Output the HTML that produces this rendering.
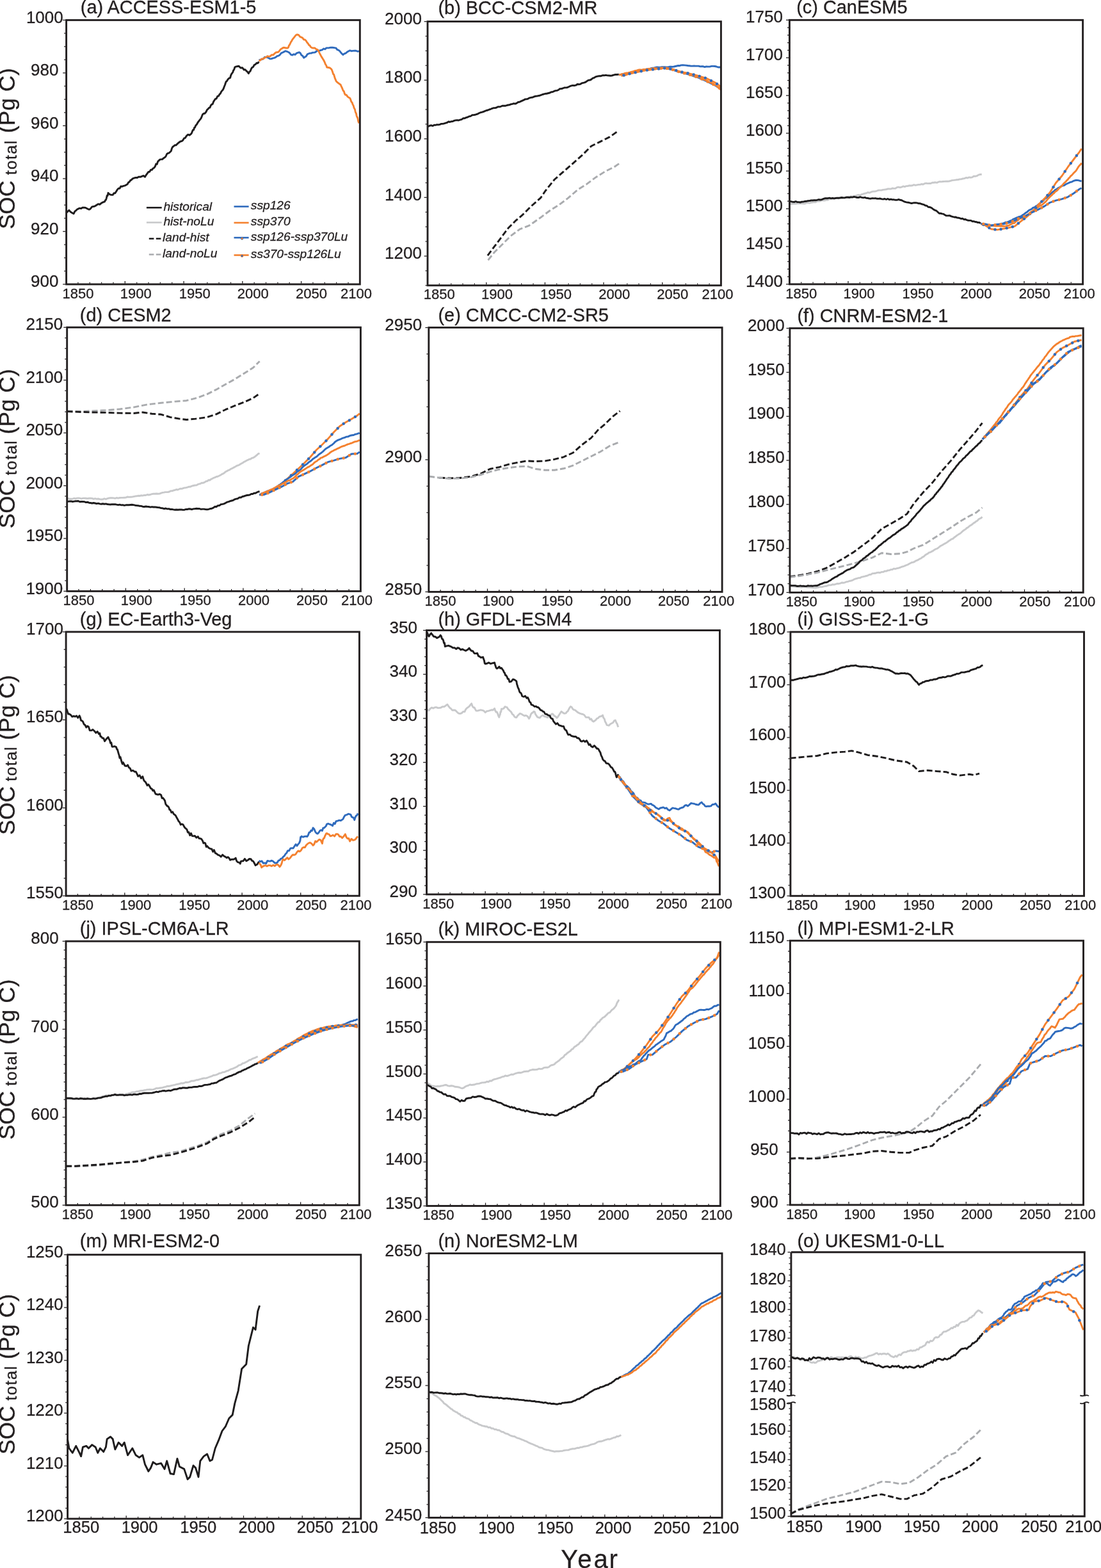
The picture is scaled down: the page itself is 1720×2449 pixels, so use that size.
<!DOCTYPE html>
<html><head><meta charset="utf-8"><title>SOC total</title><style>html,body{margin:0;padding:0;background:#fff;}svg{display:block;}</style></head><body>
<svg width="1720" height="2449" viewBox="0 0 1720 2449" font-family="'Liberation Sans', Arial, Helvetica, sans-serif" fill="#231f20"><style>text{stroke:#231f20;stroke-width:0.3px;}</style>
<rect width="1720" height="2449" fill="#fff"/>
<g id="pa">
<path d="M103.6 332.6 L105.7 330.4 L107.9 328.4 L110.3 331.1 L112.7 332.4 L115.1 333.8 L116.9 330.2 L118.7 328.8 L120.5 327 L122.3 326.1 L124.1 325.2 L126.5 325.7 L128.8 324.2 L131.2 324.1 L133.6 324.4 L136 325.8 L138.4 327 L140.2 327 L142 325.2 L143.8 322.9 L146.2 322.5 L148.6 321.8 L151 320.2 L153.4 318.6 L155.8 319.4 L158.2 317.3 L160.9 315.9 L163.6 314.9 L164.5 312.7 L165.4 312.2 L166.3 309.6 L167.2 305.5 L168.1 305.7 L169 301.3 L171.4 303.7 L173.8 304.4 L176.2 304.3 L178 301.7 L179.8 301.8 L181.6 298.9 L183.4 296.1 L185.2 294.1 L187 294.2 L188.8 291 L190.6 291.4 L193 290.4 L195.4 289.8 L197.8 288.4 L199.2 287.6 L200.6 284.8 L202.1 284.2 L203.5 281.9 L205 281.1 L207.4 278.9 L209.8 278 L212.2 277.4 L214.5 277.5 L216.9 276.1 L219.3 276.3 L221.7 275.3 L224.1 274.5 L226.5 276.3 L228.3 273.3 L230.1 270.8 L231.9 268.5 L233.7 268.2 L235.5 265.3 L237.3 265.4 L239.1 262.9 L240.9 261.9 L242.4 259.8 L243.8 256 L245.2 256.5 L246.7 252.1 L248.1 250.9 L249.9 249.1 L251.7 248.9 L253.5 248.8 L255.3 247.2 L257.1 246.1 L258.9 244.5 L260.7 240.5 L262.5 239.3 L264.3 238.8 L266.1 237 L267.3 235.9 L268.5 231.6 L269.7 229.5 L271.5 228.1 L273.3 226.6 L275.1 226.7 L276.9 224.8 L279.3 222.7 L281.7 221 L284.1 220.4 L285.9 218.8 L287.7 215.8 L289.5 215.3 L291.3 212.3 L293.7 210.2 L296.1 211.2 L298.5 209.2 L299.5 207.7 L300.5 205 L301.5 203 L302.6 202.8 L303.6 199.3 L304.6 199 L305.6 196.3 L307.4 194.3 L309.2 191 L310.4 189.5 L311.6 187.9 L312.8 186.4 L314 184.9 L315.2 182.1 L316.4 178.9 L318.2 177.3 L320 177.2 L321.8 175 L323.6 171.4 L325.1 170.2 L326.5 168.4 L327.9 168.1 L329.4 164.5 L330.8 163.1 L332.2 162.4 L333.5 158.9 L334.9 156.7 L336.2 154.7 L338 154.2 L339.8 150.4 L341.6 149.8 L342.9 147.4 L344.3 146.2 L345.6 143.4 L347 141.5 L347.9 140.7 L348.8 139.2 L349.7 137.1 L350.6 134.5 L351.5 132.5 L352.4 129.5 L353.3 127.4 L354.2 127 L356 124.1 L357.8 122.2 L359.6 121.6 L360.6 117.9 L361.6 115.6 L362.7 114.1 L363.7 112.9 L364.7 109.7 L365.7 108.7 L366.8 105.1 L368.6 104.1 L370.4 103.7 L373.1 103.3 L375.8 106.1 L378.5 105.7 L381.2 109 L383 108.6 L384.7 110.7 L386.5 112.2 L388.3 114.7 L389.7 112.1 L391 111.2 L392.4 107.7 L393.7 105.5 L395.5 104.6 L397.3 101.3 L399.1 100.7 L400.9 98.4 L402.7 98.7 L404.5 96.4" fill="none" stroke="#1e1c1d" stroke-width="2.9" stroke-linejoin="round" stroke-linecap="butt"/>
<path d="M404.5 94.2 L406.8 93.4 L409 92.7 L411.3 91.9 L413.5 89.3 L416.2 89.4 L418.9 90 L421.6 91.9 L424.3 91.7 L426.5 90.8 L428.6 90.3 L430.8 89.4 L432.9 87.7 L435.1 87.1 L437.2 85.7 L439.4 82.9 L441.6 82 L443.7 80.9 L445.9 79.7 L448 80.3 L450.2 81.3 L452.3 82.6 L454.5 85.3 L456.7 86 L458.8 84.7 L461 85.4 L463.1 83.2 L465.3 82.4 L467.5 81.7 L469.2 83 L471 86.2 L472.8 87.2 L474.6 90.3 L476.4 89 L478.2 88 L480 84.9 L481.8 84 L484 83.1 L486.2 83.1 L488.3 82.1 L490.5 82.1 L492.6 81.6 L494.8 79.6 L496.9 79.2 L499.1 79.2 L501.3 78.4 L503.4 77.9 L505.6 76 L507.7 76.8 L509.9 74.9 L512 74.9 L514.2 74.7 L516.9 74.1 L519.6 74.3 L522.3 74.6 L525 75.1 L526.8 77.6 L528.6 78.2 L530.4 79.4 L532.2 81.7 L534 83.7 L535.8 85.5 L537.9 83.9 L540.1 83.1 L542.2 81.3 L544.4 80 L546.6 78.9 L549 79.7 L551.4 79.4 L553.8 79.1 L556.1 79.2 L558.5 80.3 L560.9 79.8" fill="none" stroke="#2f6bbd" stroke-width="2.9" stroke-linejoin="round" stroke-linecap="butt"/>
<path d="M404.5 95.3 L406.8 94 L409 91.9 L411.3 92 L413.5 90.1 L415.7 89.3 L417.8 87.7 L420 88.3 L422.1 87.9 L424.3 85.7 L426.7 85.9 L429.1 83.5 L431.5 81.7 L433.3 81.5 L435.1 81.1 L436.9 78.9 L438.7 76.7 L440.5 75.8 L442.3 74.5 L444.1 74.3 L446.8 75 L449.5 75 L450.5 74 L451.5 70.9 L452.6 69.7 L453.6 67.5 L454.6 65.4 L455.6 64.1 L456.7 61.9 L458.5 59.6 L460.3 57.4 L462.1 55 L463.9 54 L466.3 54.4 L468.7 57.3 L471 58.3 L472.8 59.3 L474.6 61.8 L476.4 62 L478.2 63.8 L479.7 66.4 L481.1 67.7 L482.6 70.4 L484 71.1 L485.4 73.4 L487.6 74.9 L489.7 75 L491.9 75 L494.1 77 L496.2 77.7 L497.4 79 L498.6 81.7 L499.8 84.2 L501 86.3 L502.2 88.6 L503.4 90.4 L504.4 92.1 L505.5 93.8 L506.5 95.7 L507.5 97.9 L508.5 100.6 L509.6 101.9 L510.6 105 L513 105.5 L515.4 106 L517.8 108.1 L518.7 109.9 L519.6 112.4 L520.5 115.5 L521.4 116.2 L522.3 118.8 L523.2 122.1 L524.1 124.1 L525 126.5 L526.8 128.4 L528.6 129.8 L530.4 131.1 L532.2 132.5 L533.2 134.8 L534.2 136.9 L535.3 139.6 L536.3 141.8 L537.3 142.7 L538.3 146.1 L539.4 148 L541.2 148.3 L543 150.9 L544.8 152.3 L546.6 153.3 L547.5 154.9 L548.4 157.8 L549.3 159.5 L550.2 160.4 L551.1 163.3 L552 164.5 L552.9 168 L553.8 169.8 L554.4 170.7 L555.1 174.1 L555.7 176.1 L556.4 177.1 L557 180.3 L557.7 182.7 L558.3 183.1 L559 185.5 L559.6 189 L560.3 191 L560.9 192.4" fill="none" stroke="#f4812f" stroke-width="2.9" stroke-linejoin="round" stroke-linecap="butt"/>
<rect x="103.6" y="31.4" width="458.7" height="412.6" fill="none" stroke="#231f20" stroke-width="2.9"/>
<line x1="121.9" y1="442.7" x2="121.9" y2="440.7" stroke="#231f20" stroke-width="1.3"/>
<line x1="140.3" y1="442.7" x2="140.3" y2="440.7" stroke="#231f20" stroke-width="1.3"/>
<line x1="158.6" y1="442.7" x2="158.6" y2="440.7" stroke="#231f20" stroke-width="1.3"/>
<line x1="177" y1="442.7" x2="177" y2="440.7" stroke="#231f20" stroke-width="1.3"/>
<line x1="195.3" y1="442.7" x2="195.3" y2="439.1" stroke="#231f20" stroke-width="1.3"/>
<line x1="213.7" y1="442.7" x2="213.7" y2="440.7" stroke="#231f20" stroke-width="1.3"/>
<line x1="232" y1="442.7" x2="232" y2="440.7" stroke="#231f20" stroke-width="1.3"/>
<line x1="250.4" y1="442.7" x2="250.4" y2="440.7" stroke="#231f20" stroke-width="1.3"/>
<line x1="268.7" y1="442.7" x2="268.7" y2="440.7" stroke="#231f20" stroke-width="1.3"/>
<line x1="287.1" y1="442.7" x2="287.1" y2="439.1" stroke="#231f20" stroke-width="1.3"/>
<line x1="305.4" y1="442.7" x2="305.4" y2="440.7" stroke="#231f20" stroke-width="1.3"/>
<line x1="323.8" y1="442.7" x2="323.8" y2="440.7" stroke="#231f20" stroke-width="1.3"/>
<line x1="342.1" y1="442.7" x2="342.1" y2="440.7" stroke="#231f20" stroke-width="1.3"/>
<line x1="360.5" y1="442.7" x2="360.5" y2="440.7" stroke="#231f20" stroke-width="1.3"/>
<line x1="378.8" y1="442.7" x2="378.8" y2="439.1" stroke="#231f20" stroke-width="1.3"/>
<line x1="397.2" y1="442.7" x2="397.2" y2="440.7" stroke="#231f20" stroke-width="1.3"/>
<line x1="415.5" y1="442.7" x2="415.5" y2="440.7" stroke="#231f20" stroke-width="1.3"/>
<line x1="433.9" y1="442.7" x2="433.9" y2="440.7" stroke="#231f20" stroke-width="1.3"/>
<line x1="452.2" y1="442.7" x2="452.2" y2="440.7" stroke="#231f20" stroke-width="1.3"/>
<line x1="470.6" y1="442.7" x2="470.6" y2="439.1" stroke="#231f20" stroke-width="1.3"/>
<line x1="488.9" y1="442.7" x2="488.9" y2="440.7" stroke="#231f20" stroke-width="1.3"/>
<line x1="507.3" y1="442.7" x2="507.3" y2="440.7" stroke="#231f20" stroke-width="1.3"/>
<line x1="525.6" y1="442.7" x2="525.6" y2="440.7" stroke="#231f20" stroke-width="1.3"/>
<line x1="544" y1="442.7" x2="544" y2="440.7" stroke="#231f20" stroke-width="1.3"/>
<text x="121.9" y="465.6" font-size="22" text-anchor="middle" style="" >1850</text>
<text x="212.2" y="465.6" font-size="22" text-anchor="middle" style="" >1900</text>
<text x="304.2" y="465.6" font-size="22" text-anchor="middle" style="" >1950</text>
<text x="395.3" y="465.6" font-size="22" text-anchor="middle" style="" >2000</text>
<text x="486.4" y="465.6" font-size="22" text-anchor="middle" style="" >2050</text>
<text x="556.5" y="465.6" font-size="22" text-anchor="middle" style="" >2100</text>
<line x1="98.2" y1="444" x2="102.4" y2="444" stroke="#231f20" stroke-width="1.3"/>
<line x1="100.2" y1="423.4" x2="102.4" y2="423.4" stroke="#231f20" stroke-width="1.3"/>
<line x1="100.2" y1="402.7" x2="102.4" y2="402.7" stroke="#231f20" stroke-width="1.3"/>
<line x1="100.2" y1="382.1" x2="102.4" y2="382.1" stroke="#231f20" stroke-width="1.3"/>
<line x1="98.2" y1="361.5" x2="102.4" y2="361.5" stroke="#231f20" stroke-width="1.3"/>
<line x1="100.2" y1="340.9" x2="102.4" y2="340.9" stroke="#231f20" stroke-width="1.3"/>
<line x1="100.2" y1="320.2" x2="102.4" y2="320.2" stroke="#231f20" stroke-width="1.3"/>
<line x1="100.2" y1="299.6" x2="102.4" y2="299.6" stroke="#231f20" stroke-width="1.3"/>
<line x1="98.2" y1="279" x2="102.4" y2="279" stroke="#231f20" stroke-width="1.3"/>
<line x1="100.2" y1="258.3" x2="102.4" y2="258.3" stroke="#231f20" stroke-width="1.3"/>
<line x1="100.2" y1="237.7" x2="102.4" y2="237.7" stroke="#231f20" stroke-width="1.3"/>
<line x1="100.2" y1="217.1" x2="102.4" y2="217.1" stroke="#231f20" stroke-width="1.3"/>
<line x1="98.2" y1="196.4" x2="102.4" y2="196.4" stroke="#231f20" stroke-width="1.3"/>
<line x1="100.2" y1="175.8" x2="102.4" y2="175.8" stroke="#231f20" stroke-width="1.3"/>
<line x1="100.2" y1="155.2" x2="102.4" y2="155.2" stroke="#231f20" stroke-width="1.3"/>
<line x1="100.2" y1="134.5" x2="102.4" y2="134.5" stroke="#231f20" stroke-width="1.3"/>
<line x1="98.2" y1="113.9" x2="102.4" y2="113.9" stroke="#231f20" stroke-width="1.3"/>
<line x1="100.2" y1="93.3" x2="102.4" y2="93.3" stroke="#231f20" stroke-width="1.3"/>
<line x1="100.2" y1="72.7" x2="102.4" y2="72.7" stroke="#231f20" stroke-width="1.3"/>
<line x1="100.2" y1="52" x2="102.4" y2="52" stroke="#231f20" stroke-width="1.3"/>
<line x1="98.2" y1="31.4" x2="102.4" y2="31.4" stroke="#231f20" stroke-width="1.3"/>
<text x="69.8" y="448.1" font-size="26" text-anchor="middle" style="" >900</text>
<text x="69.8" y="365.6" font-size="26" text-anchor="middle" style="" >920</text>
<text x="69.8" y="283.1" font-size="26" text-anchor="middle" style="" >940</text>
<text x="69.8" y="200.5" font-size="26" text-anchor="middle" style="" >960</text>
<text x="69.8" y="118" font-size="26" text-anchor="middle" style="" >980</text>
<text x="69.8" y="35.5" font-size="26" text-anchor="middle" style="" >1000</text>
<text x="125.8" y="20.8" font-size="28.9" text-anchor="start" style="" >(a) ACCESS-ESM1-5</text>
</g>
<g id="pb">
<path d="M667.2 197 L669.5 197.2 L671.7 196.1 L673.9 195.8 L676.1 196.6 L678.3 195.2 L680.5 195.4 L682.7 194.7 L685 194.9 L687.2 194.3 L689.4 193.4 L691.7 193.4 L693.9 192.8 L696.2 192.1 L698.4 191.5 L700.7 190 L702.9 190.5 L705.2 189.7 L707.4 189.5 L709.7 188.4 L711.9 187.9 L714.2 187.6 L716.4 188 L718.7 187.2 L721.1 186.6 L723.5 184.8 L725.9 184.8 L728.2 183.6 L730.6 183 L733 181.8 L735.3 181.4 L737.5 179.8 L739.8 179.6 L742 179.3 L744.3 178.5 L746.5 177.8 L748.8 176.5 L751 175.7 L753.3 175.2 L755.5 174.3 L757.8 173.4 L760 172.5 L762.3 172 L764.5 171 L766.8 170.3 L769 169.3 L771.2 168.6 L773.5 168.6 L775.7 168 L778 166.8 L780.2 166.9 L782.5 166.3 L784.7 165.3 L787 165.2 L789.2 165.3 L791.5 164.7 L793.7 164 L796 163.7 L798.2 162.8 L800.5 162.4 L802.7 161.7 L805 162.1 L807.2 161.1 L809.5 159.5 L811.7 159.2 L813.9 158.1 L816.2 157.1 L818.4 156.1 L820.7 154.9 L822.9 154.9 L825.2 154.1 L827.4 152.8 L829.7 152.3 L831.9 152.1 L834.2 151 L836.4 150.3 L838.7 150.1 L840.9 149.6 L843.2 149.2 L845.4 148.4 L847.7 147.5 L849.9 146.8 L852.2 146.3 L854.4 146.2 L856.6 145.5 L858.9 145 L861.1 143.8 L863.4 143.6 L865.6 142.4 L867.9 141.6 L870.1 141.4 L872.4 140.5 L874.6 138.7 L876.9 138.6 L879.1 138 L881.4 137 L883.6 136.9 L885.9 136.7 L888.1 135.8 L890.4 134.7 L892.6 133.9 L894.9 133.4 L897.3 133.7 L899.6 133.2 L902 131.5 L904.4 131.8 L906.8 131.3 L909.2 129.8 L911.3 129.3 L913.3 128.9 L915.4 127.9 L917.5 126.3 L919.5 125.2 L921.6 125.1 L923.6 124.1 L926 122.2 L928.4 121.4 L930.8 119.8 L933.5 119.1 L936.2 118.7 L938.9 118.7 L941.6 117.7 L944 117.8 L946.4 117.3 L948.8 117.9 L951.2 118 L953.6 118.2 L956 118 L958.7 117.2 L961.4 116.5 L964.1 116.5 L966.8 116.1" fill="none" stroke="#1e1c1d" stroke-width="2.9" stroke-linejoin="round" stroke-linecap="butt"/>
<path d="M761.8 399.1 L772.6 384.7 L783.4 370.4 L794.2 356 L805 345.2 L815.7 336.2 L830.1 321.8 L844.5 309.2 L851.7 298.5 L866.1 280.5 L880.5 267.9 L894.9 255.3 L909.2 242.7 L923.6 228.3 L938 221.1 L952.4 213.9 L965 205" fill="none" stroke="#1e1c1d" stroke-width="2.9" stroke-linejoin="round" stroke-linecap="butt" stroke-dasharray="9 4"/>
<path d="M762.5 406.3 L772.6 393.7 L783.4 383 L797.8 368.6 L812.2 357.8 L826.5 352.4 L844.5 339.8 L858.9 329 L873.3 320 L887.7 309.2 L902 296.7 L916.4 287.7 L930.8 276.9 L945.2 267.9 L959.6 260.7 L968.6 254.6" fill="none" stroke="#a9abae" stroke-width="2.9" stroke-linejoin="round" stroke-linecap="butt" stroke-dasharray="9 4"/>
<path d="M966.8 116.9 L969.2 116.8 L971.6 116 L974 115.8 L976.4 115.8 L978.8 115.5 L981.2 115 L983.6 114.8 L985.9 114.4 L988.3 113.6 L990.7 112.9 L993.1 112.2 L995.5 111.9 L997.9 111.5 L1000.3 111.1 L1002.7 110.8 L1005.1 109.5 L1007.5 108.8 L1009.9 108.1 L1012.3 107.9 L1014.7 107.9 L1017.1 106.6 L1019.5 106.1 L1021.9 105.9 L1024.3 105.3 L1026.7 104.9 L1029.1 105.3 L1031.5 105.2 L1033.9 104.7 L1036.3 104.7 L1038.7 104.8 L1041.1 105 L1043.5 104.9 L1045.9 104.3 L1048.3 104.2 L1050.7 104.4 L1053.1 104 L1055.2 103.5 L1057.4 103 L1059.5 102.5 L1061.7 102.7 L1063.9 101.9 L1066.6 101.7 L1069.2 101.9 L1071.9 102.1 L1074.6 102.5 L1077 102.7 L1079.4 103.1 L1081.8 103.1 L1084.2 102.9 L1086.6 103.1 L1089 103.1 L1091.4 103.1 L1093.8 103.9 L1096.2 103.6 L1098.6 103.8 L1101 104.6 L1103.4 103.9 L1106.1 104.1 L1108.8 104.1 L1111.5 103.4 L1114.2 103.4 L1116.7 103.5 L1119.2 104 L1121.7 105 L1124.3 104.9 L1126.8 105.7" fill="none" stroke="#2f6bbd" stroke-width="2.9" stroke-linejoin="round" stroke-linecap="butt"/>
<path d="M974 118.7 L981.2 114.3 L995.5 110.8 L1009.9 108.6 L1024.3 107.2 L1038.7 106.4 L1049.5 108.6 L1060.3 112.2 L1074.6 115.8 L1089 120.5 L1103.4 126.6 L1117.8 133.8 L1126.8 139.5" fill="none" stroke="#2f6bbd" stroke-width="2.9" stroke-linejoin="round" stroke-linecap="butt"/>
<circle cx="978" cy="116.3" r="2.25" fill="#f4812f"/>
<circle cx="987.1" cy="112.9" r="2.25" fill="#f4812f"/>
<circle cx="996.2" cy="110.7" r="2.25" fill="#f4812f"/>
<circle cx="1005.3" cy="109.3" r="2.25" fill="#f4812f"/>
<circle cx="1014.4" cy="108.1" r="2.25" fill="#f4812f"/>
<circle cx="1023.5" cy="107.2" r="2.25" fill="#f4812f"/>
<circle cx="1032.6" cy="106.7" r="2.25" fill="#f4812f"/>
<circle cx="1041.7" cy="107" r="2.25" fill="#f4812f"/>
<circle cx="1050.8" cy="109" r="2.25" fill="#f4812f"/>
<circle cx="1059.9" cy="112.1" r="2.25" fill="#f4812f"/>
<circle cx="1069" cy="114.4" r="2.25" fill="#f4812f"/>
<circle cx="1078.1" cy="116.9" r="2.25" fill="#f4812f"/>
<circle cx="1087.2" cy="119.9" r="2.25" fill="#f4812f"/>
<circle cx="1096.3" cy="123.5" r="2.25" fill="#f4812f"/>
<circle cx="1105.4" cy="127.5" r="2.25" fill="#f4812f"/>
<circle cx="1114.5" cy="132.1" r="2.25" fill="#f4812f"/>
<circle cx="1123.6" cy="137.5" r="2.25" fill="#f4812f"/>
<path d="M966.8 116.9 L969.2 116.6 L971.6 115.7 L974 115.4 L976.4 114.4 L978.8 114 L981.2 113.6 L983.6 113.1 L985.9 112.5 L988.3 111.9 L990.7 111 L993.1 110.4 L995.5 109.9 L997.9 109 L1000.3 109 L1002.7 109.1 L1005.1 108.8 L1007.5 108.6 L1009.9 107.9 L1012.3 107.6 L1014.7 108 L1017.1 107.4 L1019.5 106.7 L1021.9 106.6 L1024.3 106.9 L1026.7 106.9 L1029.1 106.6 L1031.5 106.8 L1033.9 105.9 L1036.3 105.9 L1038.7 105.6 L1041.4 106.1 L1044.1 107 L1046.8 107.1 L1049.5 107.8 L1051.6 108.8 L1053.8 109 L1055.9 110.1 L1058.1 110.8 L1060.3 111.4 L1062.7 112.1 L1065.1 112.7 L1067.5 113.3 L1069.8 113.8 L1072.2 114.1 L1074.6 114.7 L1077 115.8 L1079.4 116.8 L1081.8 117.7 L1084.2 117.5 L1086.6 119 L1089 119.2 L1091.1 120.4 L1093.1 121 L1095.2 121.7 L1097.2 122.6 L1099.3 124.2 L1101.4 124.8 L1103.4 125.4 L1105.5 127.3 L1107.5 128.3 L1109.6 128.7 L1111.6 129.6 L1113.7 130.8 L1115.7 132.3 L1117.8 132.9 L1119.6 134.5 L1121.4 135.8 L1123.2 137.3 L1125 139 L1126.8 141" fill="none" stroke="#f4812f" stroke-width="2.9" stroke-linejoin="round" stroke-linecap="butt"/>
<path d="M970.4 118.7 L981.2 115.8 L995.5 112.5 L1009.9 109.7 L1024.3 107.9 L1038.7 106.4 L1049.5 107.9 L1060.3 111.5 L1074.6 114.3 L1089 117.9 L1103.4 122.3 L1117.8 129.4 L1126.8 135.9" fill="none" stroke="#f4812f" stroke-width="2.9" stroke-linejoin="round" stroke-linecap="butt"/>
<circle cx="974.4" cy="117.6" r="2.25" fill="#2f6bbd"/>
<circle cx="983.5" cy="115.3" r="2.25" fill="#2f6bbd"/>
<circle cx="992.6" cy="113.2" r="2.25" fill="#2f6bbd"/>
<circle cx="1001.7" cy="111.3" r="2.25" fill="#2f6bbd"/>
<circle cx="1010.8" cy="109.6" r="2.25" fill="#2f6bbd"/>
<circle cx="1019.9" cy="108.4" r="2.25" fill="#2f6bbd"/>
<circle cx="1029" cy="107.4" r="2.25" fill="#2f6bbd"/>
<circle cx="1038.1" cy="106.5" r="2.25" fill="#2f6bbd"/>
<circle cx="1047.2" cy="107.6" r="2.25" fill="#2f6bbd"/>
<circle cx="1056.3" cy="110.1" r="2.25" fill="#2f6bbd"/>
<circle cx="1065.4" cy="112.5" r="2.25" fill="#2f6bbd"/>
<circle cx="1074.5" cy="114.3" r="2.25" fill="#2f6bbd"/>
<circle cx="1083.6" cy="116.6" r="2.25" fill="#2f6bbd"/>
<circle cx="1092.7" cy="119" r="2.25" fill="#2f6bbd"/>
<circle cx="1101.8" cy="121.8" r="2.25" fill="#2f6bbd"/>
<circle cx="1110.9" cy="126" r="2.25" fill="#2f6bbd"/>
<circle cx="1120" cy="131" r="2.25" fill="#2f6bbd"/>
<rect x="668" y="33.6" width="458.4" height="412.2" fill="none" stroke="#231f20" stroke-width="2.9"/>
<line x1="686.3" y1="444.5" x2="686.3" y2="442.5" stroke="#231f20" stroke-width="1.3"/>
<line x1="704.7" y1="444.5" x2="704.7" y2="442.5" stroke="#231f20" stroke-width="1.3"/>
<line x1="723" y1="444.5" x2="723" y2="442.5" stroke="#231f20" stroke-width="1.3"/>
<line x1="741.3" y1="444.5" x2="741.3" y2="442.5" stroke="#231f20" stroke-width="1.3"/>
<line x1="759.7" y1="444.5" x2="759.7" y2="440.9" stroke="#231f20" stroke-width="1.3"/>
<line x1="778" y1="444.5" x2="778" y2="442.5" stroke="#231f20" stroke-width="1.3"/>
<line x1="796.4" y1="444.5" x2="796.4" y2="442.5" stroke="#231f20" stroke-width="1.3"/>
<line x1="814.7" y1="444.5" x2="814.7" y2="442.5" stroke="#231f20" stroke-width="1.3"/>
<line x1="833" y1="444.5" x2="833" y2="442.5" stroke="#231f20" stroke-width="1.3"/>
<line x1="851.4" y1="444.5" x2="851.4" y2="440.9" stroke="#231f20" stroke-width="1.3"/>
<line x1="869.7" y1="444.5" x2="869.7" y2="442.5" stroke="#231f20" stroke-width="1.3"/>
<line x1="888" y1="444.5" x2="888" y2="442.5" stroke="#231f20" stroke-width="1.3"/>
<line x1="906.4" y1="444.5" x2="906.4" y2="442.5" stroke="#231f20" stroke-width="1.3"/>
<line x1="924.7" y1="444.5" x2="924.7" y2="442.5" stroke="#231f20" stroke-width="1.3"/>
<line x1="943" y1="444.5" x2="943" y2="440.9" stroke="#231f20" stroke-width="1.3"/>
<line x1="961.4" y1="444.5" x2="961.4" y2="442.5" stroke="#231f20" stroke-width="1.3"/>
<line x1="979.7" y1="444.5" x2="979.7" y2="442.5" stroke="#231f20" stroke-width="1.3"/>
<line x1="998" y1="444.5" x2="998" y2="442.5" stroke="#231f20" stroke-width="1.3"/>
<line x1="1016.4" y1="444.5" x2="1016.4" y2="442.5" stroke="#231f20" stroke-width="1.3"/>
<line x1="1034.7" y1="444.5" x2="1034.7" y2="440.9" stroke="#231f20" stroke-width="1.3"/>
<line x1="1053.1" y1="444.5" x2="1053.1" y2="442.5" stroke="#231f20" stroke-width="1.3"/>
<line x1="1071.4" y1="444.5" x2="1071.4" y2="442.5" stroke="#231f20" stroke-width="1.3"/>
<line x1="1089.7" y1="444.5" x2="1089.7" y2="442.5" stroke="#231f20" stroke-width="1.3"/>
<line x1="1108.1" y1="444.5" x2="1108.1" y2="442.5" stroke="#231f20" stroke-width="1.3"/>
<text x="686.3" y="467.4" font-size="22" text-anchor="middle" style="" >1850</text>
<text x="776.6" y="467.4" font-size="22" text-anchor="middle" style="" >1900</text>
<text x="868.6" y="467.4" font-size="22" text-anchor="middle" style="" >1950</text>
<text x="959.7" y="467.4" font-size="22" text-anchor="middle" style="" >2000</text>
<text x="1050.8" y="467.4" font-size="22" text-anchor="middle" style="" >2050</text>
<text x="1120.9" y="467.4" font-size="22" text-anchor="middle" style="" >2100</text>
<line x1="664.6" y1="445.8" x2="666.8" y2="445.8" stroke="#231f20" stroke-width="1.3"/>
<line x1="664.6" y1="422.9" x2="666.8" y2="422.9" stroke="#231f20" stroke-width="1.3"/>
<line x1="662.6" y1="400" x2="666.8" y2="400" stroke="#231f20" stroke-width="1.3"/>
<line x1="664.6" y1="377.1" x2="666.8" y2="377.1" stroke="#231f20" stroke-width="1.3"/>
<line x1="664.6" y1="354.2" x2="666.8" y2="354.2" stroke="#231f20" stroke-width="1.3"/>
<line x1="664.6" y1="331.3" x2="666.8" y2="331.3" stroke="#231f20" stroke-width="1.3"/>
<line x1="662.6" y1="308.4" x2="666.8" y2="308.4" stroke="#231f20" stroke-width="1.3"/>
<line x1="664.6" y1="285.5" x2="666.8" y2="285.5" stroke="#231f20" stroke-width="1.3"/>
<line x1="664.6" y1="262.6" x2="666.8" y2="262.6" stroke="#231f20" stroke-width="1.3"/>
<line x1="664.6" y1="239.7" x2="666.8" y2="239.7" stroke="#231f20" stroke-width="1.3"/>
<line x1="662.6" y1="216.8" x2="666.8" y2="216.8" stroke="#231f20" stroke-width="1.3"/>
<line x1="664.6" y1="193.9" x2="666.8" y2="193.9" stroke="#231f20" stroke-width="1.3"/>
<line x1="664.6" y1="171" x2="666.8" y2="171" stroke="#231f20" stroke-width="1.3"/>
<line x1="664.6" y1="148.1" x2="666.8" y2="148.1" stroke="#231f20" stroke-width="1.3"/>
<line x1="662.6" y1="125.2" x2="666.8" y2="125.2" stroke="#231f20" stroke-width="1.3"/>
<line x1="664.6" y1="102.3" x2="666.8" y2="102.3" stroke="#231f20" stroke-width="1.3"/>
<line x1="664.6" y1="79.4" x2="666.8" y2="79.4" stroke="#231f20" stroke-width="1.3"/>
<line x1="664.6" y1="56.5" x2="666.8" y2="56.5" stroke="#231f20" stroke-width="1.3"/>
<line x1="662.6" y1="33.6" x2="666.8" y2="33.6" stroke="#231f20" stroke-width="1.3"/>
<text x="630" y="404.1" font-size="26" text-anchor="middle" style="" >1200</text>
<text x="630" y="312.5" font-size="26" text-anchor="middle" style="" >1400</text>
<text x="630" y="220.9" font-size="26" text-anchor="middle" style="" >1600</text>
<text x="630" y="129.3" font-size="26" text-anchor="middle" style="" >1800</text>
<text x="630" y="37.7" font-size="26" text-anchor="middle" style="" >2000</text>
<text x="684.5" y="21.6" font-size="28.9" text-anchor="start" style="" >(b) BCC-CSM2-MR</text>
</g>
<g id="pc">
<path d="M1233.5 318.2 L1235.9 318.6 L1238.3 318.3 L1240.7 318.1 L1243.1 318.3 L1245.5 317.9 L1247.9 317.5 L1250.3 317.7 L1252.7 317.6 L1255.1 318 L1257.5 318.1 L1259.9 316.7 L1262.3 316.6 L1264.7 317.1 L1267.1 316.4 L1269.4 316 L1271.8 315.6 L1274.2 315.7 L1276.6 314.3 L1279 314.4 L1281.4 314 L1283.8 312.7 L1286.2 313.1 L1288.6 313 L1291 312.2 L1293.4 312.2 L1295.8 310.8 L1298.2 310.5 L1300.6 310.9 L1303 310.7 L1305.4 309.5 L1307.8 309.3 L1310.2 310.1 L1312.6 308.6 L1315 309.5 L1317.4 309.1 L1319.8 309 L1322.2 307.8 L1324.6 307.3 L1327 307.3 L1329.4 306.7 L1331.8 307.1 L1334.2 306.2 L1336.6 306 L1339 305 L1341.4 304.5 L1343.8 304.9 L1346.2 303.6 L1348.6 302.9 L1351 302.1 L1353.3 301.7 L1355.7 300.5 L1358.1 301.2 L1360.5 300.1 L1362.9 299.1 L1365.3 299 L1367.7 298.9 L1370.1 298 L1372.5 297.1 L1374.9 297.1 L1377.3 297 L1379.7 296.4 L1382.1 296.1 L1384.5 295.8 L1386.9 295 L1389.3 295 L1391.7 295.1 L1394.1 294 L1396.5 294.4 L1398.9 294.3 L1401.3 292.6 L1403.7 292.1 L1406.1 292.8 L1408.5 292.2 L1410.9 290.9 L1413.3 291.7 L1415.7 290.6 L1418.1 290.5 L1420.5 289.8 L1422.9 290 L1425.3 289.7 L1427.7 288.6 L1430.1 289.4 L1432.5 288.9 L1434.9 288.4 L1437.3 288.4 L1439.6 287.5 L1442 288.1 L1444.4 286.7 L1446.8 286.2 L1449.2 286.6 L1451.6 286.5 L1454 286.5 L1456.4 285.2 L1458.8 285.2 L1461.2 284.8 L1463.6 285.4 L1466 284.2 L1468.4 283.6 L1470.8 283.9 L1473.2 283.5 L1475.6 283.4 L1478 283.2 L1480.4 283.3 L1482.8 283 L1485.2 282.4 L1487.6 281.6 L1490 281.4 L1492.4 281.1 L1494.8 280.7 L1497.2 280.5 L1499.6 279.9 L1502 279.7 L1504.4 279 L1506.8 278.6 L1509.2 277.5 L1511.6 278 L1514 276.9 L1516.4 277.3 L1518.8 276.9 L1521.2 275.2 L1523.7 275.3 L1526.2 274.7 L1528.7 273.1 L1531.2 272.5 L1533.7 272.2" fill="none" stroke="#c8c9cb" stroke-width="2.9" stroke-linejoin="round" stroke-linecap="butt"/>
<path d="M1233.5 314.6 L1235.9 314.8 L1238.3 315.4 L1240.7 315.5 L1243.1 314.7 L1245.5 315.6 L1247.9 315.6 L1250.3 316 L1252.7 315.2 L1255.1 315.1 L1257.5 314.5 L1259.9 314.3 L1262.3 313.7 L1264.7 313.6 L1267.1 313 L1269.4 313 L1271.8 312.8 L1274.2 312.8 L1276.6 312.3 L1279 311.7 L1281.4 312 L1283.8 311.7 L1286.2 310.7 L1288.6 309.8 L1291 309.7 L1293.4 309.7 L1295.8 309.2 L1298.2 309.8 L1300.6 309.3 L1303 309.9 L1305.4 309.5 L1307.8 309.1 L1310.2 309.2 L1312.6 309 L1315 308.5 L1317.4 308.9 L1319.8 308.9 L1322.2 308.2 L1324.6 308.2 L1327 308.5 L1329.4 307.9 L1331.8 308.1 L1334.2 307.3 L1336.6 307.8 L1339 308.5 L1341.4 308.5 L1343.8 307.7 L1346.2 308.3 L1348.6 308.8 L1351 308.3 L1353.3 309.4 L1355.7 309.5 L1358.1 310.1 L1360.5 310.2 L1362.9 309.7 L1365.3 309.9 L1367.7 309.7 L1370.1 310.3 L1372.5 310.4 L1374.9 310 L1377.3 310.9 L1379.7 311.1 L1382.1 310.5 L1384.5 311.5 L1386.9 310.5 L1389.3 311.8 L1391.7 311.1 L1394.1 311.9 L1396.5 311.8 L1398.9 312.3 L1401.3 312.4 L1403.7 311.5 L1406.1 312.3 L1408.5 312.7 L1410.9 314 L1413.3 315.2 L1416 315.9 L1418.7 316.2 L1421.4 316.8 L1424.1 317.6 L1426.8 316.9 L1429.5 316.8 L1432.2 316.9 L1434.9 317.7 L1437 317.6 L1439.2 318.5 L1441.3 319.2 L1443.5 319.7 L1445.6 321 L1447.8 321.2 L1450 323.3 L1452.1 323.5 L1454.3 324.1 L1456.4 325.5 L1458.6 327.3 L1460.7 328.4 L1462.9 329.2 L1465.1 331.2 L1467.2 333.3 L1469.4 333.1 L1471.5 333.9 L1473.7 334.1 L1475.8 335.5 L1478 336.8 L1480.7 336.9 L1483.4 336.6 L1486.1 337.9 L1488.8 338.7 L1490.9 339.2 L1493.1 339 L1495.3 340.1 L1497.4 340.2 L1499.6 340.9 L1501.7 341.6 L1503.9 341.3 L1506.1 342.9 L1508.2 342.5 L1510.4 343.7 L1512.5 344.3 L1514.7 344.4 L1516.8 344.4 L1519 345.8 L1521.2 345.7 L1523.3 346.5 L1525.5 346.7 L1527.6 347.6 L1529.8 347.5 L1531.9 348.8" fill="none" stroke="#1e1c1d" stroke-width="2.9" stroke-linejoin="round" stroke-linecap="butt"/>
<path d="M1532.3 349.4 L1534.8 350.2 L1537.3 350.9 L1539.8 350.7 L1542.3 351.8 L1544.6 351.3 L1546.8 352 L1549 352 L1551.2 351.7 L1553.5 351.2 L1555.7 350.9 L1557.9 350.5 L1560.2 350.1 L1562.4 350 L1564.6 349.2 L1566.9 349.1 L1569.1 348 L1571.3 347.2 L1573.6 346.9 L1575.8 346.1 L1578 345 L1580.3 344.4 L1582.5 342.5 L1584.7 341.7 L1587 340.6 L1589.2 339.7 L1591.4 338.7 L1593.7 338.1 L1595.9 337.3 L1597.7 335.7 L1599.5 334.8 L1601.2 333.4 L1603 331.9 L1604.8 330.9 L1607 328.7 L1609.3 327.5 L1611.5 326.6 L1613.7 324.5 L1616 323.8 L1618.2 322.1 L1620.4 321 L1622.7 318.8 L1624.5 318.2 L1626.2 316.1 L1628 314.6 L1629.8 313.5 L1631.6 311.2 L1633.4 309.6 L1635.2 308.7 L1636.9 306.7 L1638.7 305.5 L1640.5 303.3 L1642.5 301.8 L1644.4 300 L1646.4 298.6 L1648.3 296.7 L1650.6 295.7 L1652.8 293.9 L1655 292.8 L1657.3 291.1 L1659.9 290.1 L1662.5 289.5 L1665.1 287.8 L1667.3 286.8 L1669.5 285.7 L1671.8 284.6 L1674.3 284.1 L1676.8 282.7 L1679.3 281.8 L1681.8 281.5 L1684.4 281.6 L1687 282.3 L1689.6 283.1" fill="none" stroke="#2f6bbd" stroke-width="2.9" stroke-linejoin="round" stroke-linecap="butt"/>
<path d="M1532.3 349.4 L1534.8 350.5 L1537.3 351 L1539.8 350.7 L1542.3 351.3 L1544.6 352.2 L1546.8 352.4 L1549 352.5 L1551.2 352.4 L1553.5 352.9 L1555.7 353 L1557.9 353.1 L1560.2 352.8 L1562.4 353.2 L1564.6 353.2 L1566.9 353.4 L1569.1 353.4 L1571.3 353.1 L1573.6 352.5 L1575.8 352.2 L1578 351 L1580.3 349.8 L1582.5 348.8 L1584.7 348.3 L1586.7 346.5 L1588.6 344.9 L1590.6 343.7 L1592.5 341.7 L1595.3 341.1 L1598.1 340.3 L1599.9 338.7 L1601.7 337.7 L1603.5 336.1 L1605.3 335.2 L1607 334.3 L1608.8 332.7 L1610.6 330.8 L1612.4 330.2 L1614.2 328.8 L1616 327.4 L1618 326.2 L1620 324.7 L1622 323.4 L1624 321.6 L1626 320.9 L1628.8 319.2 L1631.6 316.7 L1633.5 315.1 L1635.3 312.8 L1637.2 310.4 L1639 308.6 L1640.9 306.7 L1642.8 305.2 L1644.6 303.1 L1646.5 301.8 L1648.3 299.6 L1650.2 298.5 L1652.1 296.8 L1653.9 294.7 L1655.5 293.2 L1657.1 292 L1658.7 290.2 L1660.3 288.4 L1661.9 286.5 L1663.5 285 L1665.1 283.8 L1666.6 281.6 L1668 280.7 L1669.5 278.4 L1671 277.3 L1672.5 275 L1674 274 L1675.7 272.1 L1677.3 270.2 L1679 268.6 L1680.7 267 L1682.2 264.7 L1683.7 262.2 L1685.2 259.9 L1686.6 258.3 L1688.1 256.9 L1689.6 254.6" fill="none" stroke="#f4812f" stroke-width="2.9" stroke-linejoin="round" stroke-linecap="butt"/>
<path d="M1532.3 349.4 L1539.5 352.2 L1548.5 357.8 L1557.9 358.9 L1566.9 357.3 L1576.4 355.6 L1585.3 353.4 L1594.2 346.1 L1603.7 338.8 L1612.6 331 L1622.1 319.9 L1631.6 310.4 L1640 300.9 L1649.4 285.8 L1658.9 274.7 L1668.4 260.7 L1677.3 249 L1686.3 237.3 L1689.6 232.3" fill="none" stroke="#f4812f" stroke-width="2.9" stroke-linejoin="round" stroke-linecap="butt"/>
<circle cx="1536.3" cy="351" r="2.25" fill="#2f6bbd"/>
<circle cx="1545.4" cy="355.9" r="2.25" fill="#2f6bbd"/>
<circle cx="1554.5" cy="358.5" r="2.25" fill="#2f6bbd"/>
<circle cx="1563.6" cy="357.9" r="2.25" fill="#2f6bbd"/>
<circle cx="1572.7" cy="356.2" r="2.25" fill="#2f6bbd"/>
<circle cx="1581.8" cy="354.2" r="2.25" fill="#2f6bbd"/>
<circle cx="1590.9" cy="348.8" r="2.25" fill="#2f6bbd"/>
<circle cx="1600" cy="341.7" r="2.25" fill="#2f6bbd"/>
<circle cx="1609.1" cy="334.1" r="2.25" fill="#2f6bbd"/>
<circle cx="1618.2" cy="324.5" r="2.25" fill="#2f6bbd"/>
<circle cx="1627.3" cy="314.7" r="2.25" fill="#2f6bbd"/>
<circle cx="1636.4" cy="305" r="2.25" fill="#2f6bbd"/>
<circle cx="1645.5" cy="292.2" r="2.25" fill="#2f6bbd"/>
<circle cx="1654.6" cy="279.8" r="2.25" fill="#2f6bbd"/>
<circle cx="1663.7" cy="267.7" r="2.25" fill="#2f6bbd"/>
<circle cx="1672.8" cy="255" r="2.25" fill="#2f6bbd"/>
<circle cx="1681.9" cy="243.1" r="2.25" fill="#2f6bbd"/>
<path d="M1532.3 349.4 L1539.5 350 L1548.5 352.2 L1557.9 350.6 L1566.9 350 L1576.4 347.8 L1585.3 344.4 L1594.2 340 L1603.7 336.6 L1612.6 331.6 L1622.1 327.1 L1631.6 322.1 L1640 316.5 L1649.4 313.2 L1658.9 310.9 L1668.4 307.6 L1677.3 302 L1686.3 295.3 L1689.6 293.7" fill="none" stroke="#2f6bbd" stroke-width="2.9" stroke-linejoin="round" stroke-linecap="butt"/>
<circle cx="1536.3" cy="349.8" r="2.25" fill="#f4812f"/>
<circle cx="1545.4" cy="351.5" r="2.25" fill="#f4812f"/>
<circle cx="1554.5" cy="351.2" r="2.25" fill="#f4812f"/>
<circle cx="1563.6" cy="350.2" r="2.25" fill="#f4812f"/>
<circle cx="1572.7" cy="348.6" r="2.25" fill="#f4812f"/>
<circle cx="1581.8" cy="345.7" r="2.25" fill="#f4812f"/>
<circle cx="1590.9" cy="341.6" r="2.25" fill="#f4812f"/>
<circle cx="1600" cy="337.9" r="2.25" fill="#f4812f"/>
<circle cx="1609.1" cy="333.6" r="2.25" fill="#f4812f"/>
<circle cx="1618.2" cy="329" r="2.25" fill="#f4812f"/>
<circle cx="1627.3" cy="324.4" r="2.25" fill="#f4812f"/>
<circle cx="1636.4" cy="318.9" r="2.25" fill="#f4812f"/>
<circle cx="1645.5" cy="314.6" r="2.25" fill="#f4812f"/>
<circle cx="1654.6" cy="312" r="2.25" fill="#f4812f"/>
<circle cx="1663.7" cy="309.3" r="2.25" fill="#f4812f"/>
<circle cx="1672.8" cy="304.9" r="2.25" fill="#f4812f"/>
<circle cx="1681.9" cy="298.6" r="2.25" fill="#f4812f"/>
<rect x="1233.4" y="31.3" width="458.2" height="412.6" fill="none" stroke="#231f20" stroke-width="2.9"/>
<line x1="1251.7" y1="442.6" x2="1251.7" y2="440.6" stroke="#231f20" stroke-width="1.3"/>
<line x1="1270.1" y1="442.6" x2="1270.1" y2="440.6" stroke="#231f20" stroke-width="1.3"/>
<line x1="1288.4" y1="442.6" x2="1288.4" y2="440.6" stroke="#231f20" stroke-width="1.3"/>
<line x1="1306.7" y1="442.6" x2="1306.7" y2="440.6" stroke="#231f20" stroke-width="1.3"/>
<line x1="1325" y1="442.6" x2="1325" y2="439" stroke="#231f20" stroke-width="1.3"/>
<line x1="1343.4" y1="442.6" x2="1343.4" y2="440.6" stroke="#231f20" stroke-width="1.3"/>
<line x1="1361.7" y1="442.6" x2="1361.7" y2="440.6" stroke="#231f20" stroke-width="1.3"/>
<line x1="1380" y1="442.6" x2="1380" y2="440.6" stroke="#231f20" stroke-width="1.3"/>
<line x1="1398.4" y1="442.6" x2="1398.4" y2="440.6" stroke="#231f20" stroke-width="1.3"/>
<line x1="1416.7" y1="442.6" x2="1416.7" y2="439" stroke="#231f20" stroke-width="1.3"/>
<line x1="1435" y1="442.6" x2="1435" y2="440.6" stroke="#231f20" stroke-width="1.3"/>
<line x1="1453.3" y1="442.6" x2="1453.3" y2="440.6" stroke="#231f20" stroke-width="1.3"/>
<line x1="1471.7" y1="442.6" x2="1471.7" y2="440.6" stroke="#231f20" stroke-width="1.3"/>
<line x1="1490" y1="442.6" x2="1490" y2="440.6" stroke="#231f20" stroke-width="1.3"/>
<line x1="1508.3" y1="442.6" x2="1508.3" y2="439" stroke="#231f20" stroke-width="1.3"/>
<line x1="1526.6" y1="442.6" x2="1526.6" y2="440.6" stroke="#231f20" stroke-width="1.3"/>
<line x1="1545" y1="442.6" x2="1545" y2="440.6" stroke="#231f20" stroke-width="1.3"/>
<line x1="1563.3" y1="442.6" x2="1563.3" y2="440.6" stroke="#231f20" stroke-width="1.3"/>
<line x1="1581.6" y1="442.6" x2="1581.6" y2="440.6" stroke="#231f20" stroke-width="1.3"/>
<line x1="1600" y1="442.6" x2="1600" y2="439" stroke="#231f20" stroke-width="1.3"/>
<line x1="1618.3" y1="442.6" x2="1618.3" y2="440.6" stroke="#231f20" stroke-width="1.3"/>
<line x1="1636.6" y1="442.6" x2="1636.6" y2="440.6" stroke="#231f20" stroke-width="1.3"/>
<line x1="1654.9" y1="442.6" x2="1654.9" y2="440.6" stroke="#231f20" stroke-width="1.3"/>
<line x1="1673.3" y1="442.6" x2="1673.3" y2="440.6" stroke="#231f20" stroke-width="1.3"/>
<text x="1251.7" y="465.5" font-size="22" text-anchor="middle" style="" >1850</text>
<text x="1342" y="465.5" font-size="22" text-anchor="middle" style="" >1900</text>
<text x="1434" y="465.5" font-size="22" text-anchor="middle" style="" >1950</text>
<text x="1525.1" y="465.5" font-size="22" text-anchor="middle" style="" >2000</text>
<text x="1616.2" y="465.5" font-size="22" text-anchor="middle" style="" >2050</text>
<text x="1686.3" y="465.5" font-size="22" text-anchor="middle" style="" >2100</text>
<line x1="1228" y1="443.9" x2="1232.2" y2="443.9" stroke="#231f20" stroke-width="1.3"/>
<line x1="1230" y1="432.1" x2="1232.2" y2="432.1" stroke="#231f20" stroke-width="1.3"/>
<line x1="1230" y1="420.3" x2="1232.2" y2="420.3" stroke="#231f20" stroke-width="1.3"/>
<line x1="1230" y1="408.5" x2="1232.2" y2="408.5" stroke="#231f20" stroke-width="1.3"/>
<line x1="1230" y1="396.7" x2="1232.2" y2="396.7" stroke="#231f20" stroke-width="1.3"/>
<line x1="1228" y1="385" x2="1232.2" y2="385" stroke="#231f20" stroke-width="1.3"/>
<line x1="1230" y1="373.2" x2="1232.2" y2="373.2" stroke="#231f20" stroke-width="1.3"/>
<line x1="1230" y1="361.4" x2="1232.2" y2="361.4" stroke="#231f20" stroke-width="1.3"/>
<line x1="1230" y1="349.6" x2="1232.2" y2="349.6" stroke="#231f20" stroke-width="1.3"/>
<line x1="1230" y1="337.8" x2="1232.2" y2="337.8" stroke="#231f20" stroke-width="1.3"/>
<line x1="1228" y1="326" x2="1232.2" y2="326" stroke="#231f20" stroke-width="1.3"/>
<line x1="1230" y1="314.2" x2="1232.2" y2="314.2" stroke="#231f20" stroke-width="1.3"/>
<line x1="1230" y1="302.4" x2="1232.2" y2="302.4" stroke="#231f20" stroke-width="1.3"/>
<line x1="1230" y1="290.6" x2="1232.2" y2="290.6" stroke="#231f20" stroke-width="1.3"/>
<line x1="1230" y1="278.9" x2="1232.2" y2="278.9" stroke="#231f20" stroke-width="1.3"/>
<line x1="1228" y1="267.1" x2="1232.2" y2="267.1" stroke="#231f20" stroke-width="1.3"/>
<line x1="1230" y1="255.3" x2="1232.2" y2="255.3" stroke="#231f20" stroke-width="1.3"/>
<line x1="1230" y1="243.5" x2="1232.2" y2="243.5" stroke="#231f20" stroke-width="1.3"/>
<line x1="1230" y1="231.7" x2="1232.2" y2="231.7" stroke="#231f20" stroke-width="1.3"/>
<line x1="1230" y1="219.9" x2="1232.2" y2="219.9" stroke="#231f20" stroke-width="1.3"/>
<line x1="1228" y1="208.1" x2="1232.2" y2="208.1" stroke="#231f20" stroke-width="1.3"/>
<line x1="1230" y1="196.3" x2="1232.2" y2="196.3" stroke="#231f20" stroke-width="1.3"/>
<line x1="1230" y1="184.6" x2="1232.2" y2="184.6" stroke="#231f20" stroke-width="1.3"/>
<line x1="1230" y1="172.8" x2="1232.2" y2="172.8" stroke="#231f20" stroke-width="1.3"/>
<line x1="1230" y1="161" x2="1232.2" y2="161" stroke="#231f20" stroke-width="1.3"/>
<line x1="1228" y1="149.2" x2="1232.2" y2="149.2" stroke="#231f20" stroke-width="1.3"/>
<line x1="1230" y1="137.4" x2="1232.2" y2="137.4" stroke="#231f20" stroke-width="1.3"/>
<line x1="1230" y1="125.6" x2="1232.2" y2="125.6" stroke="#231f20" stroke-width="1.3"/>
<line x1="1230" y1="113.8" x2="1232.2" y2="113.8" stroke="#231f20" stroke-width="1.3"/>
<line x1="1230" y1="102" x2="1232.2" y2="102" stroke="#231f20" stroke-width="1.3"/>
<line x1="1228" y1="90.2" x2="1232.2" y2="90.2" stroke="#231f20" stroke-width="1.3"/>
<line x1="1230" y1="78.5" x2="1232.2" y2="78.5" stroke="#231f20" stroke-width="1.3"/>
<line x1="1230" y1="66.7" x2="1232.2" y2="66.7" stroke="#231f20" stroke-width="1.3"/>
<line x1="1230" y1="54.9" x2="1232.2" y2="54.9" stroke="#231f20" stroke-width="1.3"/>
<line x1="1230" y1="43.1" x2="1232.2" y2="43.1" stroke="#231f20" stroke-width="1.3"/>
<line x1="1228" y1="31.3" x2="1232.2" y2="31.3" stroke="#231f20" stroke-width="1.3"/>
<text x="1194" y="448" font-size="26" text-anchor="middle" style="" >1400</text>
<text x="1194" y="389.1" font-size="26" text-anchor="middle" style="" >1450</text>
<text x="1194" y="330.1" font-size="26" text-anchor="middle" style="" >1500</text>
<text x="1194" y="271.2" font-size="26" text-anchor="middle" style="" >1550</text>
<text x="1194" y="212.2" font-size="26" text-anchor="middle" style="" >1600</text>
<text x="1194" y="153.3" font-size="26" text-anchor="middle" style="" >1650</text>
<text x="1194" y="94.3" font-size="26" text-anchor="middle" style="" >1700</text>
<text x="1194" y="35.4" font-size="26" text-anchor="middle" style="" >1750</text>
<text x="1244.2" y="20.9" font-size="28.9" text-anchor="start" style="" >(c) CanESM5</text>
</g>
<g id="pd">
<path d="M104.6 641.9 L122.3 642.6 L143.8 641.9 L165.4 640.8 L187 639 L208.6 636.1 L230.1 631.8 L251.7 629.3 L273.3 627.1 L291.3 625.7 L309.2 621 L323.6 615.6 L338 608.4 L352.4 600.2 L366.8 592.3 L381.2 583.3 L395.5 574.3 L405.6 564.2" fill="none" stroke="#a9abae" stroke-width="2.9" stroke-linejoin="round" stroke-linecap="butt" stroke-dasharray="9 4"/>
<path d="M104.6 642.6 L122.3 643.3 L143.8 644 L165.4 644.4 L187 645.1 L208.6 645.5 L222.9 644 L237.3 646.2 L251.7 647.3 L266.1 651.6 L280.5 654.1 L291.3 655.5 L305.6 654.1 L323.6 651.6 L338 646.9 L352.4 639.7 L366.8 633.6 L381.2 628.2 L395.5 621.7 L405.6 614.6" fill="none" stroke="#1e1c1d" stroke-width="2.9" stroke-linejoin="round" stroke-linecap="butt" stroke-dasharray="9 4"/>
<path d="M104.6 779.2 L106.8 778.6 L109 779.3 L111.2 779.1 L113.4 779.2 L115.6 778.2 L117.9 778.9 L120.1 778.1 L122.3 778 L124.7 778.1 L127.1 779 L129.4 778.3 L131.8 778.1 L134.2 778.3 L136.6 778.6 L139 778.3 L141.4 778.1 L143.8 778.4 L146.2 779.4 L148.6 778.7 L151 779.4 L153.4 779 L155.8 779.6 L158.2 780 L160.6 779.9 L163 778.8 L165.4 779.6 L167.8 778.6 L170.2 778 L172.6 777.8 L175 777.8 L177.4 777.9 L179.8 778.4 L182.2 777.5 L184.6 778.1 L187 777.5 L189.4 777.4 L191.8 777.4 L194.2 777.2 L196.6 777.1 L199 776 L201.4 776.4 L203.8 776.2 L206.2 776.1 L208.6 775.6 L211 775.1 L213.3 774.8 L215.7 774.3 L218.1 774.5 L220.5 773.8 L222.9 774.1 L225.3 773.4 L227.7 773.5 L230.1 772.5 L232.5 773 L234.9 772.5 L237.3 771.6 L239.7 771.3 L242.1 771.3 L244.5 771 L246.9 771.2 L249.3 771.1 L251.7 770.1 L253.9 769.4 L256 769.1 L258.2 768.6 L260.3 768.6 L262.5 768.5 L264.6 768 L266.8 766.7 L269 766.9 L271.1 765.9 L273.3 765.5 L275.4 764.5 L277.6 765 L279.8 764 L281.9 763.1 L284.1 763.4 L286.2 762.5 L288.4 761.9 L290.5 761.7 L292.7 761.1 L294.9 760.3 L297.3 760.3 L299.6 759.1 L302 758.5 L304.4 758 L306.8 757.9 L309.2 756.4 L311.3 755.8 L313.3 755.3 L315.4 754.1 L317.5 754.2 L319.5 753.4 L321.6 751.8 L323.6 751.6 L325.7 749.8 L327.7 750 L329.8 748.4 L331.8 747.5 L333.9 746.3 L335.9 745.7 L338 744.5 L340.1 744.2 L342.1 743.3 L344.2 742.3 L346.2 740.8 L348.3 739.9 L350.3 738.7 L352.4 736.8 L354.4 735.9 L356.5 734.6 L358.6 733.9 L360.6 732.3 L362.7 731.6 L364.7 730.4 L366.8 729.4 L368.8 728.1 L370.9 727 L372.9 726.6 L375 725.3 L377 724 L379.1 723 L381.2 721.4 L383.2 720.6 L385.3 719.3 L387.3 718.4 L389.4 717.2 L391.4 717 L393.5 715.4 L395.5 715 L397.5 713.8 L399.6 712.1 L401.6 710.5 L403.6 708.7 L405.6 708" fill="none" stroke="#c8c9cb" stroke-width="2.9" stroke-linejoin="round" stroke-linecap="butt"/>
<path d="M104.6 783.6 L106.8 783.1 L109 783 L111.2 782.9 L113.4 783.5 L115.6 783.1 L117.9 782.7 L120.1 782.8 L122.3 782.5 L124.7 783.7 L127.1 783.5 L129.4 783.4 L131.8 783.6 L134.2 784.6 L136.6 784.2 L139 785.2 L141.4 785.5 L143.8 786 L146.2 785.5 L148.6 786 L151 786.7 L153.4 786.1 L155.8 786.9 L158.2 787.2 L160.6 786.8 L163 787.2 L165.4 786.9 L167.8 787.5 L170.2 787.8 L172.6 788 L175 787.6 L177.4 787.8 L179.8 787.6 L182.2 788.2 L184.6 788.7 L187 788.2 L189.4 788.9 L191.8 788.6 L194.2 789.3 L196.6 788.8 L199 788.7 L201.4 788.7 L203.8 788.5 L206.2 788.3 L208.6 788.6 L211 789.2 L213.3 789.5 L215.7 789.7 L218.1 790.3 L220.5 790.4 L222.9 791.2 L225.3 791.5 L227.7 791 L230.1 791.3 L232.5 791.5 L234.9 792.1 L237.3 791.6 L239.7 792 L242.1 791.9 L244.5 792.2 L246.9 792.6 L249.3 792.8 L251.7 793.6 L254.1 793.8 L256.5 794.7 L258.9 794 L261.3 794.9 L263.7 794.7 L266.1 795.5 L268.5 795.4 L270.9 795.9 L273.3 796.3 L275.7 796 L278.1 796.3 L280.5 796 L282.9 795.9 L285.3 796.3 L287.7 796.4 L290.1 795.5 L292.5 795.5 L294.9 794.8 L297.3 795 L299.6 795.7 L302 794.9 L304.4 794.6 L306.8 794.3 L309.2 794.5 L311.6 794.5 L314 795.4 L316.4 795.1 L318.8 795.1 L321.2 795.6 L323.6 795.7 L326 795.4 L328.4 794.5 L330.8 794.2 L333.2 793.2 L335.6 791.3 L338 791.5 L340.4 789.7 L342.8 789.6 L345.2 787.7 L347.6 787.4 L350 786.8 L352.4 785.6 L354.8 784.2 L357.2 783.6 L359.6 782.7 L362 782 L364.4 781.3 L366.8 779.8 L369.2 779.1 L371.6 778.7 L374 776.9 L376.4 777 L378.8 775.5 L381.2 775 L383.6 774.2 L385.9 773.5 L388.3 773.3 L390.5 772.8 L392.7 771.4 L394.8 771.5 L397 770.1 L399.1 770.2 L401.3 769 L403.4 768 L405.6 767.7" fill="none" stroke="#1e1c1d" stroke-width="2.9" stroke-linejoin="round" stroke-linecap="butt"/>
<path d="M405.3 772.8 L411.6 770.7 L420 767 L430 762.8 L439 756.5 L448.5 748 L457.4 740.1 L466.4 731.7 L475.9 722.7 L484.8 713.8 L494.3 702.7 L503.3 694.5 L512.2 685.6 L521.7 674.8 L530.7 665.8 L540.2 659.5 L549.1 654.5 L558.1 649 L561.8 645.8" fill="none" stroke="#f4812f" stroke-width="2.9" stroke-linejoin="round" stroke-linecap="butt"/>
<circle cx="409.3" cy="771.5" r="2.25" fill="#2f6bbd"/>
<circle cx="418.4" cy="767.7" r="2.25" fill="#2f6bbd"/>
<circle cx="427.5" cy="763.9" r="2.25" fill="#2f6bbd"/>
<circle cx="436.6" cy="758.2" r="2.25" fill="#2f6bbd"/>
<circle cx="445.7" cy="750.5" r="2.25" fill="#2f6bbd"/>
<circle cx="454.8" cy="742.5" r="2.25" fill="#2f6bbd"/>
<circle cx="463.9" cy="734.1" r="2.25" fill="#2f6bbd"/>
<circle cx="473" cy="725.5" r="2.25" fill="#2f6bbd"/>
<circle cx="482.1" cy="716.6" r="2.25" fill="#2f6bbd"/>
<circle cx="491.2" cy="706.4" r="2.25" fill="#2f6bbd"/>
<circle cx="500.3" cy="697.3" r="2.25" fill="#2f6bbd"/>
<circle cx="509.4" cy="688.5" r="2.25" fill="#2f6bbd"/>
<circle cx="518.5" cy="678.5" r="2.25" fill="#2f6bbd"/>
<circle cx="527.6" cy="669" r="2.25" fill="#2f6bbd"/>
<circle cx="536.7" cy="661.8" r="2.25" fill="#2f6bbd"/>
<circle cx="545.8" cy="656.4" r="2.25" fill="#2f6bbd"/>
<circle cx="554.9" cy="650.9" r="2.25" fill="#2f6bbd"/>
<path d="M405.3 772.8 L407.4 771.9 L409.5 770.6 L411.6 769.9 L413.7 769.1 L415.8 767.9 L417.9 767.3 L420 766.4 L422.1 765.7 L424.2 764.7 L426.3 764.8 L428.5 762.8 L430.6 761.6 L432.7 760.3 L434.8 758.7 L436.9 757.3 L438.6 756 L440.4 754.7 L442.2 753.1 L443.9 751.9 L445.7 750.9 L447.4 748.8 L449.5 748 L451.6 746.2 L453.8 744.8 L455.9 743 L458 741.8 L460.1 740.5 L462.2 738.9 L464.3 736.6 L466.4 735.7 L468.5 734.1 L470.4 732.5 L472.2 730.1 L474 728.5 L475.9 726.9 L478 725.6 L480.1 724.1 L482.2 722 L484.3 720.7 L486.4 719.2 L488.5 717.1 L490.6 715.8 L492.7 714.2 L494.9 713.1 L497 710.9 L499.1 709.2 L501.2 707.8 L502.9 706.5 L504.6 705.1 L506.2 703.5 L507.9 701.8 L509.6 700.4 L511.7 699.2 L513.8 698 L515.9 696.3 L518 695.3 L519.7 693.9 L521.4 692.5 L523.1 690.5 L524.8 689.3 L526.5 688.1 L528.6 687.1 L530.7 686.3 L532.8 685.6 L534.9 684.4 L537 683.8 L539.1 683.2 L541.2 682.1 L543.3 682.1 L545.4 681.1 L547.6 680.2 L550 679.8 L552.5 679.5 L554.9 678.3 L557.2 677.9 L559.5 677 L561.8 676.4" fill="none" stroke="#2f6bbd" stroke-width="2.9" stroke-linejoin="round" stroke-linecap="butt"/>
<path d="M405.3 772.8 L407.4 772.1 L409.5 770.6 L411.6 769.6 L413.7 769 L415.8 768 L417.9 767.3 L420 766.4 L422.1 765.4 L424.2 764.4 L426.3 763.5 L428.5 762.2 L430.6 761.2 L432.7 759.8 L434.8 758.8 L436.9 757.8 L439 757.1 L441.1 755.5 L443.2 754.8 L445.3 753.3 L447.4 752.6 L449.5 750.9 L451.6 750.5 L453.8 749.2 L455.9 748 L458 747.1 L459.7 745.7 L461.5 744.2 L463.2 741.9 L465 740.8 L466.7 739.1 L468.5 737.2 L471 735.8 L473.4 734.4 L475.9 733 L478 731.6 L480.1 730.1 L482.2 729.2 L484.3 727.9 L486.4 726.5 L488.5 725.2 L490.6 723 L492.7 721.3 L494.9 720.3 L497 718.3 L499.1 717.1 L501.2 715.1 L503.3 714.7 L505.4 713.3 L507.5 712.4 L509.6 711.4 L511.7 710 L513.8 708.6 L515.9 706.7 L518 705.3 L520.1 704.2 L522.3 702.9 L524.4 702.2 L526.5 700.9 L528.6 700.1 L530.7 699.1 L532.8 697.9 L534.9 697.2 L537 696.5 L539.1 695.8 L541.2 694.8 L543.3 693.9 L545.4 693.4 L547.6 692.5 L550 691.8 L552.5 690.6 L554.9 689.7 L557.2 689.4 L559.5 688.5 L561.8 687.4" fill="none" stroke="#f4812f" stroke-width="2.9" stroke-linejoin="round" stroke-linecap="butt"/>
<path d="M405.3 772.8 L411.6 772.8 L420 769.6 L430 764.9 L439 760.7 L448.5 755.4 L457.4 752.3 L466.4 744.4 L475.9 740.1 L484.8 735.9 L494.3 730.7 L503.3 726.4 L512.2 721.7 L521.7 719.1 L530.7 716.4 L540.2 714.8 L549.1 709 L558.1 708.5 L561.8 705.9" fill="none" stroke="#2f6bbd" stroke-width="2.9" stroke-linejoin="round" stroke-linecap="butt"/>
<circle cx="409.3" cy="772.8" r="2.25" fill="#f4812f"/>
<circle cx="418.4" cy="770.3" r="2.25" fill="#f4812f"/>
<circle cx="427.5" cy="766.1" r="2.25" fill="#f4812f"/>
<circle cx="436.6" cy="761.8" r="2.25" fill="#f4812f"/>
<circle cx="445.7" cy="757" r="2.25" fill="#f4812f"/>
<circle cx="454.8" cy="753.2" r="2.25" fill="#f4812f"/>
<circle cx="463.9" cy="746.6" r="2.25" fill="#f4812f"/>
<circle cx="473" cy="741.4" r="2.25" fill="#f4812f"/>
<circle cx="482.1" cy="737.2" r="2.25" fill="#f4812f"/>
<circle cx="491.2" cy="732.4" r="2.25" fill="#f4812f"/>
<circle cx="500.3" cy="727.9" r="2.25" fill="#f4812f"/>
<circle cx="509.4" cy="723.2" r="2.25" fill="#f4812f"/>
<circle cx="518.5" cy="720" r="2.25" fill="#f4812f"/>
<circle cx="527.6" cy="717.3" r="2.25" fill="#f4812f"/>
<circle cx="536.7" cy="715.4" r="2.25" fill="#f4812f"/>
<circle cx="545.8" cy="711.2" r="2.25" fill="#f4812f"/>
<circle cx="554.9" cy="708.7" r="2.25" fill="#f4812f"/>
<rect x="104.7" y="511.3" width="458.7" height="412.1" fill="none" stroke="#231f20" stroke-width="2.9"/>
<line x1="123" y1="922.1" x2="123" y2="920.1" stroke="#231f20" stroke-width="1.3"/>
<line x1="141.4" y1="922.1" x2="141.4" y2="920.1" stroke="#231f20" stroke-width="1.3"/>
<line x1="159.7" y1="922.1" x2="159.7" y2="920.1" stroke="#231f20" stroke-width="1.3"/>
<line x1="178.1" y1="922.1" x2="178.1" y2="920.1" stroke="#231f20" stroke-width="1.3"/>
<line x1="196.4" y1="922.1" x2="196.4" y2="918.5" stroke="#231f20" stroke-width="1.3"/>
<line x1="214.8" y1="922.1" x2="214.8" y2="920.1" stroke="#231f20" stroke-width="1.3"/>
<line x1="233.1" y1="922.1" x2="233.1" y2="920.1" stroke="#231f20" stroke-width="1.3"/>
<line x1="251.5" y1="922.1" x2="251.5" y2="920.1" stroke="#231f20" stroke-width="1.3"/>
<line x1="269.8" y1="922.1" x2="269.8" y2="920.1" stroke="#231f20" stroke-width="1.3"/>
<line x1="288.2" y1="922.1" x2="288.2" y2="918.5" stroke="#231f20" stroke-width="1.3"/>
<line x1="306.5" y1="922.1" x2="306.5" y2="920.1" stroke="#231f20" stroke-width="1.3"/>
<line x1="324.9" y1="922.1" x2="324.9" y2="920.1" stroke="#231f20" stroke-width="1.3"/>
<line x1="343.2" y1="922.1" x2="343.2" y2="920.1" stroke="#231f20" stroke-width="1.3"/>
<line x1="361.6" y1="922.1" x2="361.6" y2="920.1" stroke="#231f20" stroke-width="1.3"/>
<line x1="379.9" y1="922.1" x2="379.9" y2="918.5" stroke="#231f20" stroke-width="1.3"/>
<line x1="398.3" y1="922.1" x2="398.3" y2="920.1" stroke="#231f20" stroke-width="1.3"/>
<line x1="416.6" y1="922.1" x2="416.6" y2="920.1" stroke="#231f20" stroke-width="1.3"/>
<line x1="435" y1="922.1" x2="435" y2="920.1" stroke="#231f20" stroke-width="1.3"/>
<line x1="453.3" y1="922.1" x2="453.3" y2="920.1" stroke="#231f20" stroke-width="1.3"/>
<line x1="471.7" y1="922.1" x2="471.7" y2="918.5" stroke="#231f20" stroke-width="1.3"/>
<line x1="490" y1="922.1" x2="490" y2="920.1" stroke="#231f20" stroke-width="1.3"/>
<line x1="508.4" y1="922.1" x2="508.4" y2="920.1" stroke="#231f20" stroke-width="1.3"/>
<line x1="526.7" y1="922.1" x2="526.7" y2="920.1" stroke="#231f20" stroke-width="1.3"/>
<line x1="545.1" y1="922.1" x2="545.1" y2="920.1" stroke="#231f20" stroke-width="1.3"/>
<text x="123" y="945" font-size="22" text-anchor="middle" style="" >1850</text>
<text x="213.3" y="945" font-size="22" text-anchor="middle" style="" >1900</text>
<text x="305.3" y="945" font-size="22" text-anchor="middle" style="" >1950</text>
<text x="396.4" y="945" font-size="22" text-anchor="middle" style="" >2000</text>
<text x="487.5" y="945" font-size="22" text-anchor="middle" style="" >2050</text>
<text x="557.6" y="945" font-size="22" text-anchor="middle" style="" >2100</text>
<line x1="99.3" y1="923.4" x2="103.5" y2="923.4" stroke="#231f20" stroke-width="1.3"/>
<line x1="101.3" y1="906.9" x2="103.5" y2="906.9" stroke="#231f20" stroke-width="1.3"/>
<line x1="101.3" y1="890.4" x2="103.5" y2="890.4" stroke="#231f20" stroke-width="1.3"/>
<line x1="101.3" y1="873.9" x2="103.5" y2="873.9" stroke="#231f20" stroke-width="1.3"/>
<line x1="101.3" y1="857.5" x2="103.5" y2="857.5" stroke="#231f20" stroke-width="1.3"/>
<line x1="99.3" y1="841" x2="103.5" y2="841" stroke="#231f20" stroke-width="1.3"/>
<line x1="101.3" y1="824.5" x2="103.5" y2="824.5" stroke="#231f20" stroke-width="1.3"/>
<line x1="101.3" y1="808" x2="103.5" y2="808" stroke="#231f20" stroke-width="1.3"/>
<line x1="101.3" y1="791.5" x2="103.5" y2="791.5" stroke="#231f20" stroke-width="1.3"/>
<line x1="101.3" y1="775" x2="103.5" y2="775" stroke="#231f20" stroke-width="1.3"/>
<line x1="99.3" y1="758.6" x2="103.5" y2="758.6" stroke="#231f20" stroke-width="1.3"/>
<line x1="101.3" y1="742.1" x2="103.5" y2="742.1" stroke="#231f20" stroke-width="1.3"/>
<line x1="101.3" y1="725.6" x2="103.5" y2="725.6" stroke="#231f20" stroke-width="1.3"/>
<line x1="101.3" y1="709.1" x2="103.5" y2="709.1" stroke="#231f20" stroke-width="1.3"/>
<line x1="101.3" y1="692.6" x2="103.5" y2="692.6" stroke="#231f20" stroke-width="1.3"/>
<line x1="99.3" y1="676.1" x2="103.5" y2="676.1" stroke="#231f20" stroke-width="1.3"/>
<line x1="101.3" y1="659.7" x2="103.5" y2="659.7" stroke="#231f20" stroke-width="1.3"/>
<line x1="101.3" y1="643.2" x2="103.5" y2="643.2" stroke="#231f20" stroke-width="1.3"/>
<line x1="101.3" y1="626.7" x2="103.5" y2="626.7" stroke="#231f20" stroke-width="1.3"/>
<line x1="101.3" y1="610.2" x2="103.5" y2="610.2" stroke="#231f20" stroke-width="1.3"/>
<line x1="99.3" y1="593.7" x2="103.5" y2="593.7" stroke="#231f20" stroke-width="1.3"/>
<line x1="101.3" y1="577.2" x2="103.5" y2="577.2" stroke="#231f20" stroke-width="1.3"/>
<line x1="101.3" y1="560.8" x2="103.5" y2="560.8" stroke="#231f20" stroke-width="1.3"/>
<line x1="101.3" y1="544.3" x2="103.5" y2="544.3" stroke="#231f20" stroke-width="1.3"/>
<line x1="101.3" y1="527.8" x2="103.5" y2="527.8" stroke="#231f20" stroke-width="1.3"/>
<line x1="99.3" y1="511.3" x2="103.5" y2="511.3" stroke="#231f20" stroke-width="1.3"/>
<text x="69.3" y="927.5" font-size="26" text-anchor="middle" style="" >1900</text>
<text x="69.3" y="845.1" font-size="26" text-anchor="middle" style="" >1950</text>
<text x="69.3" y="762.7" font-size="26" text-anchor="middle" style="" >2000</text>
<text x="69.3" y="680.2" font-size="26" text-anchor="middle" style="" >2050</text>
<text x="69.3" y="597.8" font-size="26" text-anchor="middle" style="" >2100</text>
<text x="69.3" y="515.4" font-size="26" text-anchor="middle" style="" >2150</text>
<text x="124.8" y="501.6" font-size="28.9" text-anchor="start" style="" >(d) CESM2</text>
</g>
<g id="pe">
<path d="M686.3 746.2 L704.3 746.9 L722.3 746.2 L736.6 744 L751 739.7 L765.4 732.5 L779.8 729.6 L794.2 725.3 L808.6 722.4 L822.9 719.9 L837.3 720.6 L851.7 719.9 L866.1 717.4 L880.5 713.8 L894.9 707.3 L909.2 694.7 L923.6 683.9 L934.4 671.4 L945.2 662.4 L956 651.6 L968.6 641.9" fill="none" stroke="#1e1c1d" stroke-width="2.9" stroke-linejoin="round" stroke-linecap="butt" stroke-dasharray="9 4"/>
<path d="M670.1 744 L686.3 746.2 L704.3 747.6 L722.3 746.9 L736.6 745.1 L751 741.5 L765.4 736.8 L779.8 733.2 L794.2 730.7 L808.6 728.9 L822.9 728.2 L837.3 732.5 L851.7 734.3 L866.1 734.3 L880.5 731.8 L894.9 727.1 L909.2 719.9 L923.6 712.7 L938 705.5 L952.4 696.5 L966.1 691.1" fill="none" stroke="#a9abae" stroke-width="2.9" stroke-linejoin="round" stroke-linecap="butt" stroke-dasharray="9 4"/>
<rect x="669.8" y="511.6" width="458.3" height="412.8" fill="none" stroke="#231f20" stroke-width="2.9"/>
<line x1="688.1" y1="923.1" x2="688.1" y2="921.1" stroke="#231f20" stroke-width="1.3"/>
<line x1="706.5" y1="923.1" x2="706.5" y2="921.1" stroke="#231f20" stroke-width="1.3"/>
<line x1="724.8" y1="923.1" x2="724.8" y2="921.1" stroke="#231f20" stroke-width="1.3"/>
<line x1="743.1" y1="923.1" x2="743.1" y2="921.1" stroke="#231f20" stroke-width="1.3"/>
<line x1="761.5" y1="923.1" x2="761.5" y2="919.5" stroke="#231f20" stroke-width="1.3"/>
<line x1="779.8" y1="923.1" x2="779.8" y2="921.1" stroke="#231f20" stroke-width="1.3"/>
<line x1="798.1" y1="923.1" x2="798.1" y2="921.1" stroke="#231f20" stroke-width="1.3"/>
<line x1="816.5" y1="923.1" x2="816.5" y2="921.1" stroke="#231f20" stroke-width="1.3"/>
<line x1="834.8" y1="923.1" x2="834.8" y2="921.1" stroke="#231f20" stroke-width="1.3"/>
<line x1="853.1" y1="923.1" x2="853.1" y2="919.5" stroke="#231f20" stroke-width="1.3"/>
<line x1="871.5" y1="923.1" x2="871.5" y2="921.1" stroke="#231f20" stroke-width="1.3"/>
<line x1="889.8" y1="923.1" x2="889.8" y2="921.1" stroke="#231f20" stroke-width="1.3"/>
<line x1="908.1" y1="923.1" x2="908.1" y2="921.1" stroke="#231f20" stroke-width="1.3"/>
<line x1="926.4" y1="923.1" x2="926.4" y2="921.1" stroke="#231f20" stroke-width="1.3"/>
<line x1="944.8" y1="923.1" x2="944.8" y2="919.5" stroke="#231f20" stroke-width="1.3"/>
<line x1="963.1" y1="923.1" x2="963.1" y2="921.1" stroke="#231f20" stroke-width="1.3"/>
<line x1="981.4" y1="923.1" x2="981.4" y2="921.1" stroke="#231f20" stroke-width="1.3"/>
<line x1="999.8" y1="923.1" x2="999.8" y2="921.1" stroke="#231f20" stroke-width="1.3"/>
<line x1="1018.1" y1="923.1" x2="1018.1" y2="921.1" stroke="#231f20" stroke-width="1.3"/>
<line x1="1036.4" y1="923.1" x2="1036.4" y2="919.5" stroke="#231f20" stroke-width="1.3"/>
<line x1="1054.8" y1="923.1" x2="1054.8" y2="921.1" stroke="#231f20" stroke-width="1.3"/>
<line x1="1073.1" y1="923.1" x2="1073.1" y2="921.1" stroke="#231f20" stroke-width="1.3"/>
<line x1="1091.4" y1="923.1" x2="1091.4" y2="921.1" stroke="#231f20" stroke-width="1.3"/>
<line x1="1109.8" y1="923.1" x2="1109.8" y2="921.1" stroke="#231f20" stroke-width="1.3"/>
<text x="688.1" y="946" font-size="22" text-anchor="middle" style="" >1850</text>
<text x="778.4" y="946" font-size="22" text-anchor="middle" style="" >1900</text>
<text x="870.4" y="946" font-size="22" text-anchor="middle" style="" >1950</text>
<text x="961.5" y="946" font-size="22" text-anchor="middle" style="" >2000</text>
<text x="1052.6" y="946" font-size="22" text-anchor="middle" style="" >2050</text>
<text x="1122.7" y="946" font-size="22" text-anchor="middle" style="" >2100</text>
<line x1="664.4" y1="924.4" x2="668.6" y2="924.4" stroke="#231f20" stroke-width="1.3"/>
<line x1="666.4" y1="883.1" x2="668.6" y2="883.1" stroke="#231f20" stroke-width="1.3"/>
<line x1="666.4" y1="841.8" x2="668.6" y2="841.8" stroke="#231f20" stroke-width="1.3"/>
<line x1="666.4" y1="800.6" x2="668.6" y2="800.6" stroke="#231f20" stroke-width="1.3"/>
<line x1="666.4" y1="759.3" x2="668.6" y2="759.3" stroke="#231f20" stroke-width="1.3"/>
<line x1="664.4" y1="718" x2="668.6" y2="718" stroke="#231f20" stroke-width="1.3"/>
<line x1="666.4" y1="676.7" x2="668.6" y2="676.7" stroke="#231f20" stroke-width="1.3"/>
<line x1="666.4" y1="635.4" x2="668.6" y2="635.4" stroke="#231f20" stroke-width="1.3"/>
<line x1="666.4" y1="594.2" x2="668.6" y2="594.2" stroke="#231f20" stroke-width="1.3"/>
<line x1="666.4" y1="552.9" x2="668.6" y2="552.9" stroke="#231f20" stroke-width="1.3"/>
<line x1="664.4" y1="511.6" x2="668.6" y2="511.6" stroke="#231f20" stroke-width="1.3"/>
<text x="630.2" y="928.5" font-size="26" text-anchor="middle" style="" >2850</text>
<text x="630.2" y="722.1" font-size="26" text-anchor="middle" style="" >2900</text>
<text x="630.2" y="515.7" font-size="26" text-anchor="middle" style="" >2950</text>
<text x="684.5" y="501.8" font-size="28.9" text-anchor="start" style="" >(e) CMCC-CM2-SR5</text>
</g>
<g id="pf">
<path d="M1233.5 900.8 L1247.9 898.6 L1262.3 896.1 L1276.6 892.5 L1291 887.1 L1305.4 879.2 L1319.8 870.9 L1334.2 861.9 L1348.6 851.2 L1362.9 840.4 L1377.3 826 L1391.7 818.1 L1406.1 809.8 L1416.9 802.6 L1427.7 786.4 L1442 769.2 L1456.4 754.1 L1470.8 736.1 L1485.2 719.9 L1499.6 701.9 L1514 685.7 L1524.7 673.2 L1534.5 660.6" fill="none" stroke="#1e1c1d" stroke-width="2.9" stroke-linejoin="round" stroke-linecap="butt" stroke-dasharray="9 4"/>
<path d="M1233.5 901.5 L1247.9 899.7 L1262.3 897.2 L1276.6 894.3 L1291 890.7 L1305.4 887.1 L1319.8 883.5 L1334.2 879.9 L1348.6 875.6 L1362.9 870.9 L1377.3 863.7 L1391.7 865.5 L1406.1 864.8 L1416.9 861.9 L1427.7 856.5 L1442 851.2 L1456.4 842.2 L1470.8 833.2 L1485.2 824.2 L1499.6 814.5 L1514 806.2 L1524.7 800.8 L1534.5 792.9" fill="none" stroke="#a9abae" stroke-width="2.9" stroke-linejoin="round" stroke-linecap="butt" stroke-dasharray="9 4"/>
<path d="M1233.5 915.2 L1235.9 915.7 L1238.3 916 L1240.7 916.3 L1243.1 916.2 L1245.5 916.4 L1247.9 916.6 L1250.3 917.1 L1252.7 917.1 L1255.1 916.5 L1257.5 916.6 L1259.9 917 L1262.3 917.4 L1264.7 917.3 L1267.1 917.5 L1269.4 917.8 L1271.8 917.9 L1274.2 918 L1276.6 917.6 L1279 917.2 L1281.4 916.5 L1283.8 916.9 L1286.2 916.2 L1288.6 915.6 L1291 915.3 L1293.4 914.3 L1295.8 913.9 L1298.2 913.9 L1300.6 912.8 L1303 913.1 L1305.4 912.4 L1307.8 911.5 L1310.2 911.7 L1312.6 911.2 L1315 910 L1317.4 910.3 L1319.8 909.8 L1322.2 908.7 L1324.6 908.4 L1327 907.5 L1329.4 907 L1331.8 906.3 L1334.2 904.9 L1336.6 904 L1339 903.4 L1341.4 902.6 L1343.8 902.6 L1346.2 901.1 L1348.6 900.7 L1351 900.2 L1353.3 899.5 L1355.7 898.8 L1358.1 897.5 L1360.5 897.4 L1362.9 895.6 L1365.3 895.5 L1367.7 895.3 L1370.1 894.4 L1372.5 894.2 L1374.9 894.5 L1377.3 893.4 L1379.7 893.4 L1382.1 892 L1384.5 892.1 L1386.9 890.9 L1389.3 890.7 L1391.7 889.6 L1394.1 889.5 L1396.5 888.1 L1398.9 888.5 L1401.3 887.6 L1403.7 887.2 L1406.1 886.5 L1408.1 885.5 L1410.2 884.9 L1412.3 884.3 L1414.3 883.4 L1416.4 882.5 L1418.4 881.8 L1420.5 880.5 L1422.5 879.5 L1424.6 878.4 L1426.6 878.2 L1428.7 877.3 L1430.7 875.9 L1432.8 875.1 L1434.9 874.1 L1436.9 872.8 L1439 872 L1441 870.1 L1443.1 869.3 L1445.1 867.2 L1447.2 865.8 L1449.2 864.9 L1451.3 863 L1453.3 862.6 L1455.4 861.4 L1457.5 860.4 L1459.5 858.8 L1461.6 857.7 L1463.6 857 L1465.7 855.7 L1467.7 854 L1469.8 852.3 L1471.8 851.6 L1473.9 850.3 L1475.9 849.1 L1478 848 L1480.1 846.6 L1482.1 845 L1484.2 843.8 L1486.2 842.2 L1488.3 841.6 L1490.3 839.8 L1492.4 838.3 L1494.2 836.8 L1496 835.6 L1497.8 834.4 L1499.6 833.5 L1501.4 832 L1503.2 830.3 L1505 828.7 L1506.8 827.6 L1508.6 826.4 L1510.4 824.6 L1512.2 823.8 L1514 822.1 L1515.8 820.8 L1517.6 819.9 L1519.4 818.3 L1521.2 816.9 L1523.1 815.9 L1525 814.2 L1526.9 813.3 L1528.8 811 L1530.7 810 L1532.6 809.1 L1534.5 807.3" fill="none" stroke="#c8c9cb" stroke-width="2.9" stroke-linejoin="round" stroke-linecap="butt"/>
<path d="M1233.5 914.1 L1235.9 914.5 L1238.3 914.6 L1240.7 914.6 L1243.1 914.8 L1245.5 915.5 L1247.9 915.4 L1250.3 914.8 L1252.7 915.4 L1255.1 915.2 L1257.5 915.6 L1259.9 915.6 L1262.3 914.7 L1264.7 915.1 L1267.1 915 L1269.4 915.2 L1271.8 914.9 L1274.2 914.7 L1276.6 914.7 L1279 913.7 L1281.4 912.3 L1283.8 911.7 L1286.2 910.6 L1288.6 909.7 L1291 909.5 L1293.1 908.8 L1295.1 907.3 L1297.2 906.5 L1299.2 904.8 L1301.3 903.5 L1303.4 902.2 L1305.4 901.1 L1307.5 900.4 L1309.5 898.6 L1311.6 897.5 L1313.6 896.4 L1315.7 895.4 L1317.7 894.2 L1319.8 892.4 L1321.8 891.3 L1323.9 890.1 L1326 889.3 L1328 888.8 L1330.1 887.2 L1332.1 886.6 L1334.2 885.8 L1336 884.1 L1337.8 882.4 L1339.6 881 L1341.4 879.3 L1343.2 877 L1345 875.6 L1346.8 874.7 L1348.6 872.4 L1350.4 871.4 L1352.2 870.3 L1353.9 868.3 L1355.7 867.6 L1357.5 865.8 L1359.3 864.5 L1361.1 863 L1362.9 862.2 L1364.7 860.1 L1366.5 859.3 L1368.3 857.4 L1370.1 855.8 L1371.9 853.9 L1373.7 852.1 L1375.5 851.2 L1377.3 849.4 L1379.1 848.1 L1380.9 846.2 L1382.7 845.6 L1384.5 843.8 L1386.3 842.4 L1388.1 840.9 L1389.9 840.2 L1391.7 838.7 L1393.5 837.1 L1395.3 835.6 L1397.1 834.8 L1398.9 833.7 L1400.7 831.6 L1402.5 830.8 L1404.3 828.9 L1406.1 828.2 L1408.2 826.1 L1410.4 825.2 L1412.6 823.5 L1414.7 822.1 L1416.9 820.4 L1418.4 819.3 L1420 816.8 L1421.5 815.1 L1423 813.8 L1424.6 811.1 L1426.1 809.8 L1427.7 808.1 L1429.1 806.6 L1430.5 804.9 L1432 802.5 L1433.4 801.2 L1434.9 799.7 L1436.3 798.3 L1437.7 796.6 L1439.2 794.7 L1440.6 793.2 L1442 791.3 L1443.8 789.3 L1445.6 787.8 L1447.4 785.9 L1449.2 784.7 L1451 783 L1452.8 781.7 L1454.6 779.6 L1456.4 778.4 L1457.9 776.9 L1459.3 775.1 L1460.7 772.7 L1462.2 771.4 L1463.6 769.1 L1465.1 767.9 L1466.5 765.8 L1467.9 764.4 L1469.4 762.4 L1470.8 760.4 L1472.1 759.1 L1473.4 756.5 L1474.7 755.2 L1476 753.1 L1477.3 751.2 L1478.7 748.9 L1480 747.1 L1481.3 745.6 L1482.6 743.1 L1483.9 741.4 L1485.2 740 L1486.6 737.4 L1488.1 736.5 L1489.5 734 L1490.9 732.5 L1492.4 730.8 L1493.8 728.5 L1495.3 726.7 L1496.7 725.4 L1498.1 723.2 L1499.6 721.6 L1501.2 720.3 L1502.8 718.7 L1504.4 716.5 L1506 715.3 L1507.6 714.1 L1509.2 711.7 L1510.8 710.8 L1512.4 709 L1514 707.2 L1515.8 705.1 L1517.6 704.3 L1519.4 702 L1521.2 700.6 L1523 698.6 L1524.7 697 L1526.4 695.8 L1528 693.7 L1529.6 692.4 L1531.2 691.1 L1532.8 688.9 L1534.5 687.5" fill="none" stroke="#1e1c1d" stroke-width="2.9" stroke-linejoin="round" stroke-linecap="butt"/>
<path d="M1534.7 686 L1536.2 684.2 L1537.7 682.6 L1539.2 680.8 L1540.7 679.1 L1542.2 677.2 L1543.6 675.8 L1545.1 674 L1546.6 672.3 L1548.1 670.4 L1549.6 668.4 L1551 666.8 L1552.4 664.8 L1553.7 663.4 L1555.1 661.5 L1556.5 659.4 L1557.9 658.3 L1559.2 655.9 L1560.6 653.9 L1562 652.2 L1563.2 650.9 L1564.5 649 L1565.7 647.2 L1567 644.8 L1568.2 643 L1569.4 641.4 L1570.7 639.2 L1571.9 637.6 L1573.2 636.1 L1574.4 633.9 L1575.9 631.8 L1577.5 630.3 L1579 628.6 L1580.6 626.8 L1582.1 624.3 L1583.7 622.6 L1585.2 620.6 L1586.8 618.9 L1588.2 617.2 L1589.6 615.6 L1590.9 613.3 L1592.3 611.9 L1593.7 610.1 L1595.1 608.6 L1596.4 606.3 L1597.8 605.1 L1599.2 603.2 L1600.4 601.1 L1601.7 598.8 L1602.9 597.1 L1604.2 595.1 L1605.4 593.5 L1606.6 591.7 L1607.9 589.9 L1609.1 587.9 L1610.4 585.9 L1611.6 584.5 L1613.1 582.5 L1614.7 580.7 L1616.2 578.7 L1617.8 576.9 L1619.3 574.9 L1620.9 572.9 L1622.4 571.4 L1624 569.3 L1625.4 567.1 L1626.7 565.9 L1628.1 563.4 L1629.5 561.7 L1630.9 560.1 L1632.3 557.5 L1633.6 556.3 L1635 554.4 L1636.4 552.3 L1637.9 550.2 L1639.5 548.4 L1641 546.7 L1642.6 544.9 L1644.1 543.3 L1645.7 541.5 L1647.2 540.1 L1648.8 538.8 L1650.9 537.1 L1652.9 536.1 L1655 534.5 L1657.1 533.2 L1659.1 532.3 L1661.2 531.1 L1663.3 530.3 L1665.3 529.3 L1667.4 528.5 L1669.5 528.1 L1671.5 526.5 L1673.6 525.9 L1675.9 525.5 L1678.2 525.6 L1680.5 524.9 L1682.8 524.9 L1685.1 524.4 L1687.4 524 L1689.7 523.6" fill="none" stroke="#f4812f" stroke-width="2.9" stroke-linejoin="round" stroke-linecap="butt"/>
<path d="M1534.7 686 L1549.6 672.3 L1559.5 661.2 L1569.4 650 L1579.4 638.9 L1586.8 629 L1595.5 617.8 L1605.4 606.6 L1614.1 594.2 L1624 581.8 L1632.7 570.1 L1641.4 561.4 L1650.7 550.2 L1660 543.4 L1668.6 539.1 L1678.5 533.5 L1689.7 531" fill="none" stroke="#f4812f" stroke-width="2.9" stroke-linejoin="round" stroke-linecap="butt"/>
<circle cx="1538.7" cy="682.3" r="2.25" fill="#2f6bbd"/>
<circle cx="1547.8" cy="674" r="2.25" fill="#2f6bbd"/>
<circle cx="1556.9" cy="664.1" r="2.25" fill="#2f6bbd"/>
<circle cx="1566" cy="653.9" r="2.25" fill="#2f6bbd"/>
<circle cx="1575.1" cy="643.6" r="2.25" fill="#2f6bbd"/>
<circle cx="1584.2" cy="632.4" r="2.25" fill="#2f6bbd"/>
<circle cx="1593.3" cy="620.6" r="2.25" fill="#2f6bbd"/>
<circle cx="1602.4" cy="610" r="2.25" fill="#2f6bbd"/>
<circle cx="1611.5" cy="597.9" r="2.25" fill="#2f6bbd"/>
<circle cx="1620.6" cy="586.1" r="2.25" fill="#2f6bbd"/>
<circle cx="1629.7" cy="574.1" r="2.25" fill="#2f6bbd"/>
<circle cx="1638.8" cy="563.9" r="2.25" fill="#2f6bbd"/>
<circle cx="1647.9" cy="553.5" r="2.25" fill="#2f6bbd"/>
<circle cx="1657" cy="545.5" r="2.25" fill="#2f6bbd"/>
<circle cx="1666.1" cy="540.3" r="2.25" fill="#2f6bbd"/>
<circle cx="1675.2" cy="535.4" r="2.25" fill="#2f6bbd"/>
<circle cx="1684.3" cy="532.2" r="2.25" fill="#2f6bbd"/>
<path d="M1534.7 686 L1536.4 684.7 L1538 682.6 L1539.7 680.9 L1541.3 679 L1543 677.7 L1544.6 675.8 L1546.3 674.6 L1547.9 672.5 L1549.6 671 L1551.4 669.6 L1553.1 667.6 L1554.9 666.1 L1556.7 664.4 L1558.5 662.8 L1560.2 661.6 L1562 660.3 L1563.5 658.2 L1565.1 656.5 L1566.6 654.4 L1568.2 652.2 L1569.7 650.4 L1571.3 649 L1572.8 647.2 L1574.4 645 L1575.9 643.2 L1577.5 641.9 L1579 639.8 L1580.6 638.1 L1582.1 636.2 L1583.7 635.1 L1585.2 633.2 L1586.8 631.5 L1588.3 629.3 L1589.9 627.4 L1591.4 626.1 L1593 623.6 L1594.5 621.8 L1596.1 620.1 L1597.6 618.6 L1599.2 616.8 L1600.7 614.3 L1602.3 612.6 L1603.8 611 L1605.4 608.8 L1606.9 607.3 L1608.5 605.6 L1610 603.6 L1611.6 601.9 L1613.4 600.4 L1615.1 598.5 L1616.9 597.6 L1618.7 596.4 L1620.4 594.2 L1622.2 593.2 L1624 592 L1625.8 590.2 L1627.5 588 L1629.3 586.6 L1631.1 584.6 L1632.8 582.7 L1634.6 580.9 L1636.4 579.5 L1638.2 578.1 L1639.9 576.5 L1641.7 575.2 L1643.5 573.4 L1645.2 572 L1647 571.2 L1648.8 569.1 L1650.6 567.3 L1652.3 566 L1654.1 564.1 L1655.9 562.4 L1657.6 560.9 L1659.4 558.4 L1661.2 557.2 L1663 555.9 L1664.7 554.2 L1666.5 552.6 L1668.3 551.3 L1670 549.9 L1671.8 548.4 L1673.6 547.2 L1675.6 546.3 L1677.6 545.4 L1679.6 544.5 L1681.6 543.4 L1683.7 542.6 L1685.7 541.1 L1687.7 540.2 L1689.7 539.7" fill="none" stroke="#2f6bbd" stroke-width="2.9" stroke-linejoin="round" stroke-linecap="butt"/>
<path d="M1534.7 686 L1549.6 672.3 L1562 658.7 L1576.9 641.4 L1586.8 630.2 L1596.7 619 L1605.4 610.4 L1614.1 600.4 L1624 593 L1632.7 583.1 L1641.4 573.8 L1650.7 567.6 L1660 557.7 L1668.6 549.6 L1678.5 545.3 L1689.7 540.9" fill="none" stroke="#2f6bbd" stroke-width="2.9" stroke-linejoin="round" stroke-linecap="butt"/>
<circle cx="1538.7" cy="682.3" r="2.25" fill="#f4812f"/>
<circle cx="1547.8" cy="674" r="2.25" fill="#f4812f"/>
<circle cx="1556.9" cy="664.3" r="2.25" fill="#f4812f"/>
<circle cx="1566" cy="654" r="2.25" fill="#f4812f"/>
<circle cx="1575.1" cy="643.4" r="2.25" fill="#f4812f"/>
<circle cx="1584.2" cy="633.1" r="2.25" fill="#f4812f"/>
<circle cx="1593.3" cy="622.9" r="2.25" fill="#f4812f"/>
<circle cx="1602.4" cy="613.3" r="2.25" fill="#f4812f"/>
<circle cx="1611.5" cy="603.4" r="2.25" fill="#f4812f"/>
<circle cx="1620.6" cy="595.5" r="2.25" fill="#f4812f"/>
<circle cx="1629.7" cy="586.5" r="2.25" fill="#f4812f"/>
<circle cx="1638.8" cy="576.5" r="2.25" fill="#f4812f"/>
<circle cx="1647.9" cy="569.4" r="2.25" fill="#f4812f"/>
<circle cx="1657" cy="560.8" r="2.25" fill="#f4812f"/>
<circle cx="1666.1" cy="551.9" r="2.25" fill="#f4812f"/>
<circle cx="1675.2" cy="546.7" r="2.25" fill="#f4812f"/>
<circle cx="1684.3" cy="543" r="2.25" fill="#f4812f"/>
<rect x="1233.9" y="512.7" width="458.3" height="412.7" fill="none" stroke="#231f20" stroke-width="2.9"/>
<line x1="1252.2" y1="924.1" x2="1252.2" y2="922.1" stroke="#231f20" stroke-width="1.3"/>
<line x1="1270.6" y1="924.1" x2="1270.6" y2="922.1" stroke="#231f20" stroke-width="1.3"/>
<line x1="1288.9" y1="924.1" x2="1288.9" y2="922.1" stroke="#231f20" stroke-width="1.3"/>
<line x1="1307.2" y1="924.1" x2="1307.2" y2="922.1" stroke="#231f20" stroke-width="1.3"/>
<line x1="1325.6" y1="924.1" x2="1325.6" y2="920.5" stroke="#231f20" stroke-width="1.3"/>
<line x1="1343.9" y1="924.1" x2="1343.9" y2="922.1" stroke="#231f20" stroke-width="1.3"/>
<line x1="1362.2" y1="924.1" x2="1362.2" y2="922.1" stroke="#231f20" stroke-width="1.3"/>
<line x1="1380.6" y1="924.1" x2="1380.6" y2="922.1" stroke="#231f20" stroke-width="1.3"/>
<line x1="1398.9" y1="924.1" x2="1398.9" y2="922.1" stroke="#231f20" stroke-width="1.3"/>
<line x1="1417.2" y1="924.1" x2="1417.2" y2="920.5" stroke="#231f20" stroke-width="1.3"/>
<line x1="1435.6" y1="924.1" x2="1435.6" y2="922.1" stroke="#231f20" stroke-width="1.3"/>
<line x1="1453.9" y1="924.1" x2="1453.9" y2="922.1" stroke="#231f20" stroke-width="1.3"/>
<line x1="1472.2" y1="924.1" x2="1472.2" y2="922.1" stroke="#231f20" stroke-width="1.3"/>
<line x1="1490.5" y1="924.1" x2="1490.5" y2="922.1" stroke="#231f20" stroke-width="1.3"/>
<line x1="1508.9" y1="924.1" x2="1508.9" y2="920.5" stroke="#231f20" stroke-width="1.3"/>
<line x1="1527.2" y1="924.1" x2="1527.2" y2="922.1" stroke="#231f20" stroke-width="1.3"/>
<line x1="1545.5" y1="924.1" x2="1545.5" y2="922.1" stroke="#231f20" stroke-width="1.3"/>
<line x1="1563.9" y1="924.1" x2="1563.9" y2="922.1" stroke="#231f20" stroke-width="1.3"/>
<line x1="1582.2" y1="924.1" x2="1582.2" y2="922.1" stroke="#231f20" stroke-width="1.3"/>
<line x1="1600.5" y1="924.1" x2="1600.5" y2="920.5" stroke="#231f20" stroke-width="1.3"/>
<line x1="1618.9" y1="924.1" x2="1618.9" y2="922.1" stroke="#231f20" stroke-width="1.3"/>
<line x1="1637.2" y1="924.1" x2="1637.2" y2="922.1" stroke="#231f20" stroke-width="1.3"/>
<line x1="1655.5" y1="924.1" x2="1655.5" y2="922.1" stroke="#231f20" stroke-width="1.3"/>
<line x1="1673.9" y1="924.1" x2="1673.9" y2="922.1" stroke="#231f20" stroke-width="1.3"/>
<text x="1252.2" y="947" font-size="22" text-anchor="middle" style="" >1850</text>
<text x="1342.5" y="947" font-size="22" text-anchor="middle" style="" >1900</text>
<text x="1434.5" y="947" font-size="22" text-anchor="middle" style="" >1950</text>
<text x="1525.6" y="947" font-size="22" text-anchor="middle" style="" >2000</text>
<text x="1616.7" y="947" font-size="22" text-anchor="middle" style="" >2050</text>
<text x="1686.8" y="947" font-size="22" text-anchor="middle" style="" >2100</text>
<line x1="1228.5" y1="925.4" x2="1232.7" y2="925.4" stroke="#231f20" stroke-width="1.3"/>
<line x1="1230.5" y1="911.6" x2="1232.7" y2="911.6" stroke="#231f20" stroke-width="1.3"/>
<line x1="1230.5" y1="897.9" x2="1232.7" y2="897.9" stroke="#231f20" stroke-width="1.3"/>
<line x1="1230.5" y1="884.1" x2="1232.7" y2="884.1" stroke="#231f20" stroke-width="1.3"/>
<line x1="1230.5" y1="870.4" x2="1232.7" y2="870.4" stroke="#231f20" stroke-width="1.3"/>
<line x1="1228.5" y1="856.6" x2="1232.7" y2="856.6" stroke="#231f20" stroke-width="1.3"/>
<line x1="1230.5" y1="842.9" x2="1232.7" y2="842.9" stroke="#231f20" stroke-width="1.3"/>
<line x1="1230.5" y1="829.1" x2="1232.7" y2="829.1" stroke="#231f20" stroke-width="1.3"/>
<line x1="1230.5" y1="815.3" x2="1232.7" y2="815.3" stroke="#231f20" stroke-width="1.3"/>
<line x1="1230.5" y1="801.6" x2="1232.7" y2="801.6" stroke="#231f20" stroke-width="1.3"/>
<line x1="1228.5" y1="787.8" x2="1232.7" y2="787.8" stroke="#231f20" stroke-width="1.3"/>
<line x1="1230.5" y1="774.1" x2="1232.7" y2="774.1" stroke="#231f20" stroke-width="1.3"/>
<line x1="1230.5" y1="760.3" x2="1232.7" y2="760.3" stroke="#231f20" stroke-width="1.3"/>
<line x1="1230.5" y1="746.6" x2="1232.7" y2="746.6" stroke="#231f20" stroke-width="1.3"/>
<line x1="1230.5" y1="732.8" x2="1232.7" y2="732.8" stroke="#231f20" stroke-width="1.3"/>
<line x1="1228.5" y1="719" x2="1232.7" y2="719" stroke="#231f20" stroke-width="1.3"/>
<line x1="1230.5" y1="705.3" x2="1232.7" y2="705.3" stroke="#231f20" stroke-width="1.3"/>
<line x1="1230.5" y1="691.5" x2="1232.7" y2="691.5" stroke="#231f20" stroke-width="1.3"/>
<line x1="1230.5" y1="677.8" x2="1232.7" y2="677.8" stroke="#231f20" stroke-width="1.3"/>
<line x1="1230.5" y1="664" x2="1232.7" y2="664" stroke="#231f20" stroke-width="1.3"/>
<line x1="1228.5" y1="650.3" x2="1232.7" y2="650.3" stroke="#231f20" stroke-width="1.3"/>
<line x1="1230.5" y1="636.5" x2="1232.7" y2="636.5" stroke="#231f20" stroke-width="1.3"/>
<line x1="1230.5" y1="622.8" x2="1232.7" y2="622.8" stroke="#231f20" stroke-width="1.3"/>
<line x1="1230.5" y1="609" x2="1232.7" y2="609" stroke="#231f20" stroke-width="1.3"/>
<line x1="1230.5" y1="595.2" x2="1232.7" y2="595.2" stroke="#231f20" stroke-width="1.3"/>
<line x1="1228.5" y1="581.5" x2="1232.7" y2="581.5" stroke="#231f20" stroke-width="1.3"/>
<line x1="1230.5" y1="567.7" x2="1232.7" y2="567.7" stroke="#231f20" stroke-width="1.3"/>
<line x1="1230.5" y1="554" x2="1232.7" y2="554" stroke="#231f20" stroke-width="1.3"/>
<line x1="1230.5" y1="540.2" x2="1232.7" y2="540.2" stroke="#231f20" stroke-width="1.3"/>
<line x1="1230.5" y1="526.5" x2="1232.7" y2="526.5" stroke="#231f20" stroke-width="1.3"/>
<line x1="1228.5" y1="512.7" x2="1232.7" y2="512.7" stroke="#231f20" stroke-width="1.3"/>
<text x="1196.8" y="929.5" font-size="26" text-anchor="middle" style="" >1700</text>
<text x="1196.8" y="860.7" font-size="26" text-anchor="middle" style="" >1750</text>
<text x="1196.8" y="791.9" font-size="26" text-anchor="middle" style="" >1800</text>
<text x="1196.8" y="723.2" font-size="26" text-anchor="middle" style="" >1850</text>
<text x="1196.8" y="654.4" font-size="26" text-anchor="middle" style="" >1900</text>
<text x="1196.8" y="585.6" font-size="26" text-anchor="middle" style="" >1950</text>
<text x="1196.8" y="516.8" font-size="26" text-anchor="middle" style="" >2000</text>
<text x="1245.4" y="503.1" font-size="28.9" text-anchor="start" style="" >(f) CNRM-ESM2-1</text>
</g>
<g id="pg">
<path d="M103.2 1106.8 L104.4 1108.4 L105.5 1112 L106.7 1115.2 L107.9 1114.9 L110.3 1116.4 L112.7 1119.3 L115.1 1118.5 L117.3 1119.2 L119.6 1118.1 L121.8 1121.1 L124.1 1117.8 L125.3 1120.4 L126.5 1125.1 L127.7 1125.5 L129.4 1126.9 L131.2 1131.3 L133 1132.5 L134.8 1136.1 L136.6 1133.9 L138.4 1135.1 L140.2 1140.8 L142.6 1140.9 L145 1139.5 L147.4 1141.7 L149.8 1144.7 L152.2 1142.6 L154.6 1146.6 L155.8 1145.2 L157 1150.3 L158.2 1150.5 L160 1152.9 L161.8 1153 L163.6 1157.7 L166.3 1154 L169 1151.2 L170.2 1154.3 L171.4 1156 L172.6 1160.7 L173.8 1159.8 L175 1166 L176.2 1166.3 L178.9 1165.7 L181.6 1166.8 L182.5 1170 L183.4 1170.5 L184.3 1173.6 L185.2 1176.9 L186.1 1179.6 L187 1183.9 L188.1 1182.5 L189.1 1186.5 L190.2 1190.4 L191.3 1193.2 L192.4 1190.8 L195.1 1196 L197.8 1196.5 L199.6 1194.9 L201.4 1198.8 L203.2 1199.9 L205 1204.2 L207.7 1203.3 L210.4 1205.4 L212.2 1205.1 L213.9 1208.4 L215.7 1212.5 L218.1 1210.9 L220.5 1215.5 L222.9 1212.8 L224.4 1217.9 L225.8 1220.2 L227.3 1221.3 L228.7 1224 L230.1 1226.8 L231.9 1225.2 L233.7 1228 L235.5 1231.4 L237.3 1232.2 L238.8 1235 L240.2 1234 L241.6 1236.8 L243.1 1240.1 L244.5 1240.5 L246.9 1241.2 L249.3 1240.3 L251.7 1241.8 L253.1 1246.7 L254.6 1246.3 L256 1248.2 L257.5 1250.3 L258.9 1256.1 L260.1 1257.5 L261.3 1259 L262.5 1259.4 L263.7 1261 L264.9 1264.7 L266.1 1265 L267.9 1269.1 L269.7 1268.1 L271.5 1271.6 L273.3 1272.7 L274.7 1274.3 L276.2 1277.3 L277.6 1279.7 L279 1282.7 L280.5 1284 L282.3 1288.1 L284.1 1287.1 L285.9 1287.8 L287.7 1291.1 L289.1 1293.1 L290.5 1294.2 L292 1295.6 L293.4 1300.1 L294.9 1299.8 L296.7 1304.7 L298.5 1301.5 L300.2 1305.6 L302 1305.9 L304.4 1305.5 L306.8 1308.3 L309.2 1306.6 L311 1309.5 L312.8 1309.6 L314.6 1310.4 L316.4 1313 L317.9 1316.9 L319.3 1316.3 L320.7 1316.8 L322.2 1322.6 L323.6 1321.4 L326 1324.2 L328.4 1325.6 L330.8 1326 L332.6 1330.3 L334.4 1327.6 L336.2 1332.3 L338 1333.1 L340.4 1335.1 L342.8 1336 L345.2 1338.1 L347.6 1335.1 L350 1337.2 L352.4 1338.4 L354.2 1339.8 L356 1338.6 L357.8 1340.1 L359.6 1343.2 L362 1342.1 L364.4 1342.3 L366.8 1341.3 L368.2 1340.1 L369.6 1344.6 L371.1 1346.4 L372.5 1346.9 L374 1347.2 L375.2 1349 L376.4 1345.3 L377.6 1344.9 L380 1344.7 L382.4 1341.4 L384.7 1344.7 L387.1 1343.4 L389.5 1341.5 L391.9 1341.7 L393.7 1344.3 L395.5 1345 L397.3 1348 L399.1 1351.6 L401.8 1350 L404.5 1345.9" fill="none" stroke="#1e1c1d" stroke-width="2.9" stroke-linejoin="round" stroke-linecap="butt"/>
<path d="M404.5 1344.1 L406.8 1345.8 L409 1344.7 L411.3 1348.3 L413.5 1347.8 L415.7 1348.7 L417.8 1344.4 L420 1344.9 L422.1 1345.1 L424.3 1344.1 L426.7 1345.2 L429.1 1347.8 L431.5 1348.1 L433.3 1347 L435.1 1343.9 L436.9 1343.6 L438.7 1341.2 L440.5 1340.9 L442.3 1338.3 L444.1 1336.9 L445.9 1334 L447.7 1332.3 L449.5 1328.6 L451.6 1328.8 L453.8 1324.9 L455.9 1324.7 L458.1 1324.7 L460.3 1321.3 L462.1 1318.7 L463.9 1321.1 L465.7 1318.6 L467.5 1316.6 L468.2 1314.9 L468.9 1313.1 L469.6 1307.5 L470.3 1307.9 L471 1306.2 L473.4 1307.3 L475.8 1306.4 L478.2 1306.2 L479.8 1306.7 L481.3 1304.6 L482.9 1300.2 L484.4 1299.8 L485.9 1297 L487.5 1297.6 L489 1293 L490.8 1294.8 L492.6 1299.1 L494.4 1301.3 L496.2 1302.1 L498 1300.3 L499.8 1297.4 L501.6 1296.5 L503.4 1297.6 L504.8 1293.3 L506.3 1293.1 L507.7 1291.8 L509.2 1290.3 L510.6 1287.1 L513 1286.5 L515.4 1287.5 L517.8 1288.3 L519.6 1289.8 L521.4 1285.3 L523.2 1286.8 L525 1282.7 L527.4 1282.2 L529.8 1281.1 L532.2 1281.7 L534 1280.6 L535.8 1279.4 L537.6 1275.6 L539.4 1273.1 L541.8 1272.6 L544.2 1271.2 L546.6 1271.8 L548 1272.6 L549.4 1275.8 L550.9 1276.7 L552.3 1277.2 L553.8 1280.7 L555.1 1276.4 L556.4 1274 L557.8 1273.3 L559.1 1270.4" fill="none" stroke="#2f6bbd" stroke-width="2.9" stroke-linejoin="round" stroke-linecap="butt"/>
<path d="M404.5 1347.7 L405.9 1349.3 L407.2 1350.7 L408.6 1354.9 L409.9 1353.6 L412.3 1352.4 L414.7 1351.6 L417.1 1352.9 L419.5 1351.6 L421.9 1351.6 L424.3 1352.7 L426.7 1351.1 L429.1 1352.5 L431.5 1350.6 L433.3 1350.1 L435.1 1351.5 L436.9 1353.9 L438 1352.5 L439 1350.9 L440.1 1348.4 L441.2 1344.2 L442.3 1342.1 L444.4 1343.7 L446.6 1341.6 L448.8 1339.5 L450.9 1342 L453.1 1340.1 L455.2 1337.3 L457.4 1335 L459.5 1335.3 L461.7 1334.5 L463.9 1331 L466 1328.9 L468.2 1330 L470.3 1328.1 L472.5 1324.3 L474.6 1323.3 L476.4 1323.6 L478.2 1320.3 L480 1318.5 L481.8 1317 L484.2 1316 L486.6 1317.4 L489 1320.4 L490.8 1318.6 L492.6 1313.7 L494.4 1315.2 L496.2 1313.5 L498.6 1311.2 L501 1312.1 L503.4 1317.4 L504.4 1311.8 L505.5 1309.4 L506.5 1309.1 L507.5 1306 L508.5 1304.1 L509.6 1301.9 L510.6 1301.5 L512.4 1302.7 L514.2 1303.2 L516 1305.9 L517.8 1305.5 L520.2 1304.3 L522.6 1306.1 L525 1302.7 L526.8 1302.6 L528.6 1303.5 L530.4 1306.5 L532.2 1306.4 L534.6 1308.8 L537 1306.1 L539.4 1302.9 L541.2 1307.8 L543 1309.8 L544.8 1309.4 L546.6 1314 L549 1310.2 L551.4 1312.3 L553.8 1311.8 L555.5 1310.7 L557.3 1308.2 L559.1 1306.4" fill="none" stroke="#f4812f" stroke-width="2.9" stroke-linejoin="round" stroke-linecap="butt"/>
<rect x="103.1" y="986.9" width="458.3" height="412.3" fill="none" stroke="#231f20" stroke-width="2.9"/>
<line x1="121.4" y1="1397.9" x2="121.4" y2="1395.9" stroke="#231f20" stroke-width="1.3"/>
<line x1="139.8" y1="1397.9" x2="139.8" y2="1395.9" stroke="#231f20" stroke-width="1.3"/>
<line x1="158.1" y1="1397.9" x2="158.1" y2="1395.9" stroke="#231f20" stroke-width="1.3"/>
<line x1="176.4" y1="1397.9" x2="176.4" y2="1395.9" stroke="#231f20" stroke-width="1.3"/>
<line x1="194.8" y1="1397.9" x2="194.8" y2="1394.3" stroke="#231f20" stroke-width="1.3"/>
<line x1="213.1" y1="1397.9" x2="213.1" y2="1395.9" stroke="#231f20" stroke-width="1.3"/>
<line x1="231.4" y1="1397.9" x2="231.4" y2="1395.9" stroke="#231f20" stroke-width="1.3"/>
<line x1="249.8" y1="1397.9" x2="249.8" y2="1395.9" stroke="#231f20" stroke-width="1.3"/>
<line x1="268.1" y1="1397.9" x2="268.1" y2="1395.9" stroke="#231f20" stroke-width="1.3"/>
<line x1="286.4" y1="1397.9" x2="286.4" y2="1394.3" stroke="#231f20" stroke-width="1.3"/>
<line x1="304.8" y1="1397.9" x2="304.8" y2="1395.9" stroke="#231f20" stroke-width="1.3"/>
<line x1="323.1" y1="1397.9" x2="323.1" y2="1395.9" stroke="#231f20" stroke-width="1.3"/>
<line x1="341.4" y1="1397.9" x2="341.4" y2="1395.9" stroke="#231f20" stroke-width="1.3"/>
<line x1="359.7" y1="1397.9" x2="359.7" y2="1395.9" stroke="#231f20" stroke-width="1.3"/>
<line x1="378.1" y1="1397.9" x2="378.1" y2="1394.3" stroke="#231f20" stroke-width="1.3"/>
<line x1="396.4" y1="1397.9" x2="396.4" y2="1395.9" stroke="#231f20" stroke-width="1.3"/>
<line x1="414.7" y1="1397.9" x2="414.7" y2="1395.9" stroke="#231f20" stroke-width="1.3"/>
<line x1="433.1" y1="1397.9" x2="433.1" y2="1395.9" stroke="#231f20" stroke-width="1.3"/>
<line x1="451.4" y1="1397.9" x2="451.4" y2="1395.9" stroke="#231f20" stroke-width="1.3"/>
<line x1="469.7" y1="1397.9" x2="469.7" y2="1394.3" stroke="#231f20" stroke-width="1.3"/>
<line x1="488.1" y1="1397.9" x2="488.1" y2="1395.9" stroke="#231f20" stroke-width="1.3"/>
<line x1="506.4" y1="1397.9" x2="506.4" y2="1395.9" stroke="#231f20" stroke-width="1.3"/>
<line x1="524.7" y1="1397.9" x2="524.7" y2="1395.9" stroke="#231f20" stroke-width="1.3"/>
<line x1="543.1" y1="1397.9" x2="543.1" y2="1395.9" stroke="#231f20" stroke-width="1.3"/>
<text x="121.4" y="1420.8" font-size="22" text-anchor="middle" style="" >1850</text>
<text x="211.7" y="1420.8" font-size="22" text-anchor="middle" style="" >1900</text>
<text x="303.7" y="1420.8" font-size="22" text-anchor="middle" style="" >1950</text>
<text x="394.8" y="1420.8" font-size="22" text-anchor="middle" style="" >2000</text>
<text x="485.9" y="1420.8" font-size="22" text-anchor="middle" style="" >2050</text>
<text x="556" y="1420.8" font-size="22" text-anchor="middle" style="" >2100</text>
<line x1="97.7" y1="1399.2" x2="101.9" y2="1399.2" stroke="#231f20" stroke-width="1.3"/>
<line x1="99.7" y1="1371.7" x2="101.9" y2="1371.7" stroke="#231f20" stroke-width="1.3"/>
<line x1="99.7" y1="1344.2" x2="101.9" y2="1344.2" stroke="#231f20" stroke-width="1.3"/>
<line x1="99.7" y1="1316.7" x2="101.9" y2="1316.7" stroke="#231f20" stroke-width="1.3"/>
<line x1="99.7" y1="1289.3" x2="101.9" y2="1289.3" stroke="#231f20" stroke-width="1.3"/>
<line x1="97.7" y1="1261.8" x2="101.9" y2="1261.8" stroke="#231f20" stroke-width="1.3"/>
<line x1="99.7" y1="1234.3" x2="101.9" y2="1234.3" stroke="#231f20" stroke-width="1.3"/>
<line x1="99.7" y1="1206.8" x2="101.9" y2="1206.8" stroke="#231f20" stroke-width="1.3"/>
<line x1="99.7" y1="1179.3" x2="101.9" y2="1179.3" stroke="#231f20" stroke-width="1.3"/>
<line x1="99.7" y1="1151.8" x2="101.9" y2="1151.8" stroke="#231f20" stroke-width="1.3"/>
<line x1="97.7" y1="1124.3" x2="101.9" y2="1124.3" stroke="#231f20" stroke-width="1.3"/>
<line x1="99.7" y1="1096.8" x2="101.9" y2="1096.8" stroke="#231f20" stroke-width="1.3"/>
<line x1="99.7" y1="1069.4" x2="101.9" y2="1069.4" stroke="#231f20" stroke-width="1.3"/>
<line x1="99.7" y1="1041.9" x2="101.9" y2="1041.9" stroke="#231f20" stroke-width="1.3"/>
<line x1="99.7" y1="1014.4" x2="101.9" y2="1014.4" stroke="#231f20" stroke-width="1.3"/>
<line x1="97.7" y1="986.9" x2="101.9" y2="986.9" stroke="#231f20" stroke-width="1.3"/>
<text x="70" y="1403.3" font-size="26" text-anchor="middle" style="" >1550</text>
<text x="70" y="1265.9" font-size="26" text-anchor="middle" style="" >1600</text>
<text x="70" y="1128.4" font-size="26" text-anchor="middle" style="" >1650</text>
<text x="70" y="991" font-size="26" text-anchor="middle" style="" >1700</text>
<text x="124.8" y="976.6" font-size="28.9" text-anchor="start" style="" >(g) EC-Earth3-Veg</text>
</g>
<g id="ph">
<path d="M666.5 1111.1 L668.3 1108.8 L670.1 1109.5 L671.9 1107.2 L674.3 1105.2 L676.7 1106.2 L679.1 1104.9 L681.5 1104.7 L683.9 1105.7 L686.3 1105.6 L688.7 1105.3 L691.1 1103.7 L693.5 1103.9 L696.2 1102.2 L698.9 1100.2 L700.2 1102.3 L701.6 1104 L702.9 1105.8 L704.3 1106.6 L706.7 1109.4 L709.1 1109 L711.5 1109.4 L713.9 1112 L716.3 1114.1 L718.7 1114.7 L721.1 1113.9 L723.5 1111.5 L725.9 1111.6 L727.7 1107.7 L729.4 1105.9 L731.2 1104.7 L733 1103.3 L734.8 1101 L736.6 1098.9 L738.1 1103 L739.5 1105 L741 1104.9 L742.4 1107.6 L743.8 1110.1 L746.2 1110.1 L748.6 1109.3 L751 1108.8 L753.4 1109.4 L755.8 1110.2 L758.2 1112.7 L760.6 1110.7 L763 1110.4 L765.4 1109.7 L767.8 1108.8 L770.2 1109 L772.6 1106.5 L773.8 1110.2 L775 1112.2 L776.2 1111.9 L777.4 1114.3 L778.6 1118 L779.8 1120.3 L780.5 1117.1 L781.2 1116.3 L781.9 1111.7 L782.7 1111.8 L783.4 1107.2 L785.2 1107.3 L787 1106.4 L788.8 1103.7 L790.6 1104.3 L792 1104.6 L793.5 1107.2 L794.9 1108.6 L796.3 1110.1 L797.8 1111.2 L799.2 1113.2 L800.6 1115.8 L802.1 1116.5 L803.5 1119.1 L805 1120.3 L806.8 1120.6 L808.6 1117.8 L810.4 1116.2 L812.2 1114.4 L814.5 1115.1 L816.9 1116.7 L819.3 1118 L821.7 1117.4 L824.1 1118.7 L826.5 1122.4 L828 1119.7 L829.4 1115.6 L830.8 1113.6 L832.3 1113.1 L833.7 1111.2 L835.2 1111.6 L836.6 1115.7 L838 1117.6 L839.5 1119.9 L840.9 1120.5 L843.3 1121.2 L845.7 1118.3 L848.1 1117.2 L850.5 1119 L852.9 1119.4 L855.3 1120.6 L857.1 1119.8 L858.9 1118.9 L860.7 1116.3 L862.5 1114.8 L864.3 1115.8 L866.1 1118.3 L867.9 1118.9 L869.7 1121.2 L871.1 1120.2 L872.6 1117.9 L874 1115.7 L875.4 1113.5 L876.9 1111.2 L879.3 1113.1 L881.7 1114.4 L884.1 1113.9 L885.5 1111.7 L886.9 1111 L888.4 1108.1 L889.8 1105.5 L891.3 1103.5 L893.1 1104.6 L894.9 1107.5 L896.7 1108.7 L898.5 1109.1 L900.8 1111.1 L903.2 1113 L905.6 1114.1 L908 1115 L910.4 1115.5 L912.8 1116.7 L915.2 1120.2 L917.6 1120.4 L920 1120.5 L921.8 1123.8 L923.6 1122.7 L925.4 1126 L927.2 1127.1 L929 1125.8 L930.8 1124.4 L932.6 1122.1 L934.4 1121.6 L936.8 1119.1 L939.2 1118.8 L941.6 1117.1 L942.5 1120.6 L943.4 1121.9 L944.3 1123 L945.2 1126.7 L946.1 1128.3 L947 1130 L947.9 1132.3 L948.8 1132.6 L951.2 1133.2 L953.6 1130.7 L956 1129.5 L957.8 1128.5 L959.6 1125.6 L961.4 1125 L962.3 1127.3 L963.2 1129.4 L964.2 1130.7 L965.1 1133.9 L966.1 1135.6" fill="none" stroke="#c8c9cb" stroke-width="2.9" stroke-linejoin="round" stroke-linecap="butt"/>
<path d="M666.5 986.4 L667.7 988.4 L668.9 992.6 L670.1 994 L671.9 990.8 L673.7 988.9 L674.9 990.9 L676.1 992 L677.3 994 L680 994.5 L682.7 996.5 L684.5 995.5 L686.3 994.6 L688.1 992.1 L689.3 993.7 L690.5 997.8 L691.7 998.3 L692.6 1000.3 L693.5 1004.4 L694.4 1004 L695.3 1009.7 L698 1008.9 L700.7 1008.3 L703.1 1009.3 L705.5 1010.4 L707.9 1011.9 L710.3 1011.8 L712.7 1013.7 L715.1 1011.6 L717.5 1012.6 L719.9 1015 L722.3 1013.9 L725 1015.2 L727.7 1016.4 L729.4 1015.3 L731.2 1014.3 L733 1012.2 L734.8 1014.9 L736.6 1016.6 L738.4 1016.6 L741.1 1020.5 L743.8 1020.6 L745.6 1020.1 L747.4 1024.6 L749.2 1025.4 L751 1027 L754.6 1026.3 L755.5 1029.3 L756.4 1031.6 L757.3 1036.1 L758.2 1036.7 L760.9 1036.2 L763.6 1034.9 L766.3 1036.6 L769 1035.9 L772.6 1035 L773.3 1037.6 L774 1039.8 L774.8 1042.4 L775.5 1043.4 L776.2 1044.1 L778 1043.2 L779.8 1041.2 L781.6 1043.8 L783.4 1043.2 L785.2 1045.9 L786.3 1047.2 L787.3 1049.9 L788.4 1051 L789.5 1054.7 L790.6 1054.8 L791.9 1056.7 L793.3 1060.4 L794.6 1060.4 L796 1065.1 L798.7 1064.3 L801.4 1060.9 L804.1 1061.9 L806.8 1063.9 L807.5 1068.4 L808.2 1070.4 L808.9 1073.2 L809.6 1074.7 L810.4 1076.2 L811.4 1079.9 L812.5 1081.9 L813.6 1082.1 L814.7 1084.1 L815.7 1087.2 L818.1 1088.3 L820.5 1087.1 L822.9 1090.4 L824.4 1089.3 L825.8 1092.1 L827.3 1096.3 L828.7 1097 L830.1 1100.6 L832.5 1101.3 L834.9 1103.5 L837.3 1103.1 L839.1 1104.5 L840.9 1104.8 L842.7 1106.6 L844.5 1109.1 L846.3 1109.5 L848.1 1111.2 L849.9 1111.9 L851.7 1115.1 L854.1 1115.5 L856.5 1117.2 L858.9 1117.8 L860.3 1121.1 L861.8 1122.3 L863.2 1122.7 L864.6 1126.4 L866.1 1128.3 L868.5 1131.1 L870.9 1129.6 L873.3 1132.8 L875.7 1133.4 L878.1 1134.4 L880.5 1134.4 L881.9 1138.4 L883.3 1140.2 L884.8 1140.9 L886.2 1144.8 L887.7 1147.6 L890.1 1147.1 L892.5 1149.3 L894.9 1150 L897.3 1150.5 L899.6 1150.4 L902 1152.9 L903.8 1152.7 L905.6 1154.8 L907.4 1157.6 L909.2 1158.1 L911.6 1156.7 L914 1158.6 L916.4 1156.7 L918.2 1159.7 L920 1163.4 L921.8 1162.5 L923.6 1165.7 L926 1166.9 L928.4 1164.6 L930.8 1167.1 L932.3 1169.3 L933.7 1169 L935.1 1170.3 L936.6 1173.3 L938 1175.6 L938.7 1178.5 L939.4 1180.5 L940.2 1181.7 L940.9 1183.5 L941.6 1185.9 L943.4 1188 L945.2 1188.9 L947 1192 L948.8 1192.4 L950.6 1192.9 L952.4 1195.1 L954.2 1198.1 L956 1198.8 L957.8 1201.7 L959.6 1205.4 L960.5 1205.2 L961.4 1207.1 L962.3 1211 L963.2 1213.9 L964.6 1211.5 L966.1 1209.3" fill="none" stroke="#1e1c1d" stroke-width="2.9" stroke-linejoin="round" stroke-linecap="butt"/>
<path d="M966.1 1211.1 L967.4 1213.6 L968.7 1214 L970 1217.5 L971.3 1219.1 L972.6 1219.4 L974 1220.7 L975.8 1224.2 L977.6 1226.3 L979.4 1228.4 L981.2 1229.1 L982.6 1230.9 L984 1232.2 L985.5 1235.4 L986.9 1236.2 L988.3 1237.5 L989.8 1239 L991.2 1242.4 L992.7 1244.4 L994.1 1246 L995.5 1245.9 L997.3 1248.3 L999.1 1249.8 L1000.9 1250.2 L1002.7 1253 L1005.1 1253.1 L1007.5 1253.6 L1009.9 1255 L1012.3 1256 L1014.7 1255.8 L1017.1 1255.4 L1018.9 1257.2 L1020.7 1257.8 L1022.5 1259.2 L1024.3 1261.3 L1026.7 1262.5 L1029.1 1263.8 L1031.5 1262 L1033.9 1261.5 L1036.3 1260.9 L1038.7 1262.5 L1041.1 1261.8 L1043.5 1264.4 L1045.9 1265.8 L1048.3 1263.8 L1050.7 1261.9 L1053.1 1262.4 L1055.5 1262.8 L1057.9 1263.7 L1060.3 1264 L1062.7 1262.3 L1065.1 1261.5 L1067.5 1260.8 L1069.8 1258.2 L1072.2 1257.4 L1074.6 1258.9 L1077 1256.9 L1079.4 1254.5 L1081.8 1254.9 L1084.2 1255.2 L1086.6 1256.3 L1089 1256.7 L1091.4 1257 L1093.8 1254.6 L1096.2 1253.1 L1098 1255.5 L1099.8 1256.5 L1101.6 1259.2 L1103.4 1259.7 L1105.8 1259.2 L1108.2 1259.3 L1110.6 1258.9 L1113 1256.4 L1115.4 1256.4 L1117.8 1254.9 L1119.6 1257.5 L1121.4 1259.7 L1123.2 1260.7" fill="none" stroke="#2f6bbd" stroke-width="2.9" stroke-linejoin="round" stroke-linecap="butt"/>
<path d="M966.1 1212.9 L974 1223.7 L981.2 1232.7 L988.3 1243.5 L999.1 1254.2 L1009.9 1261.4 L1018.9 1274 L1027.9 1281.2 L1036.9 1286.6 L1045.9 1293.8 L1054.9 1299.2 L1063.9 1304.6 L1072.8 1311.8 L1081.8 1315.4 L1090.8 1322.6 L1099.8 1326.2 L1110.6 1331.5 L1117.8 1329 L1123.2 1329.7" fill="none" stroke="#2f6bbd" stroke-width="2.9" stroke-linejoin="round" stroke-linecap="butt"/>
<circle cx="970.1" cy="1218.3" r="2.25" fill="#f4812f"/>
<circle cx="979.2" cy="1230.2" r="2.25" fill="#f4812f"/>
<circle cx="988.3" cy="1243.3" r="2.25" fill="#f4812f"/>
<circle cx="997.4" cy="1252.5" r="2.25" fill="#f4812f"/>
<circle cx="1006.5" cy="1259.1" r="2.25" fill="#f4812f"/>
<circle cx="1015.6" cy="1269.3" r="2.25" fill="#f4812f"/>
<circle cx="1024.7" cy="1278.6" r="2.25" fill="#f4812f"/>
<circle cx="1033.8" cy="1284.7" r="2.25" fill="#f4812f"/>
<circle cx="1042.9" cy="1291.4" r="2.25" fill="#f4812f"/>
<circle cx="1052" cy="1297.4" r="2.25" fill="#f4812f"/>
<circle cx="1061.1" cy="1302.9" r="2.25" fill="#f4812f"/>
<circle cx="1070.2" cy="1309.6" r="2.25" fill="#f4812f"/>
<circle cx="1079.3" cy="1314.3" r="2.25" fill="#f4812f"/>
<circle cx="1088.4" cy="1320.6" r="2.25" fill="#f4812f"/>
<circle cx="1097.5" cy="1325.2" r="2.25" fill="#f4812f"/>
<circle cx="1106.6" cy="1329.5" r="2.25" fill="#f4812f"/>
<circle cx="1115.7" cy="1329.8" r="2.25" fill="#f4812f"/>
<path d="M966.1 1211.1 L967.4 1213.4 L968.7 1215.2 L970 1216.4 L971.3 1220 L972.6 1220.8 L974 1223.7 L975.8 1224.8 L977.6 1226.4 L979.4 1229.7 L981.2 1231.1 L982.6 1231.9 L984 1234.3 L985.5 1236.5 L986.9 1237.6 L988.3 1240.6 L990.1 1242.5 L991.9 1243.1 L993.7 1245.5 L995.5 1247.1 L997.3 1248.4 L999.1 1251.6 L1000.9 1253.3 L1002.7 1255.1 L1004.5 1256.3 L1006.3 1257.7 L1008.1 1257.7 L1009.9 1260.4 L1011.7 1261.6 L1013.5 1262.1 L1015.3 1264.5 L1017.1 1264.8 L1018.9 1266.2 L1020.7 1268.2 L1022.5 1269 L1024.3 1270.8 L1026.1 1271.5 L1027.9 1273 L1029.7 1273.9 L1031.5 1275.1 L1033.3 1276.9 L1035.1 1279.3 L1036.9 1279.1 L1038.7 1281.4 L1041.1 1280.4 L1043.5 1278.1 L1045.9 1277.5 L1047.3 1280.2 L1048.8 1282.6 L1050.2 1283.7 L1051.6 1285.9 L1053.1 1287.9 L1055.5 1289 L1057.9 1290.2 L1060.3 1291 L1062.7 1293.4 L1065.1 1293.9 L1067.5 1296.1 L1069.8 1297.2 L1072.2 1298.6 L1074.6 1299.7 L1076.1 1301.6 L1077.5 1303.2 L1079 1305.2 L1080.4 1305.6 L1081.8 1308.2 L1083.6 1310.5 L1085.4 1311.7 L1087.2 1313 L1089 1316.1 L1090.8 1318 L1092.6 1319.3 L1094.4 1320.5 L1096.2 1322.7 L1097.7 1324.6 L1099.1 1325.5 L1100.5 1327.4 L1102 1330.5 L1103.4 1331.5 L1105.2 1332.2 L1107 1333.8 L1108.8 1335.3 L1110.6 1336 L1113 1337.7 L1115.4 1339.5 L1117.8 1339.8 L1118.7 1341.7 L1119.6 1345.7 L1120.5 1346.5 L1121.4 1348.8 L1122.3 1351.2 L1123.2 1353.1" fill="none" stroke="#f4812f" stroke-width="2.9" stroke-linejoin="round" stroke-linecap="butt"/>
<path d="M966.1 1212.9 L974 1221.9 L981.2 1230.9 L988.3 1239.9 L999.1 1254.2 L1009.9 1259.6 L1017.1 1266.8 L1027.9 1272.2 L1036.9 1281.2 L1045.9 1281.2 L1054.9 1288.4 L1063.9 1295.6 L1072.8 1299.2 L1081.8 1308.2 L1090.8 1315.4 L1099.8 1324.4 L1108.8 1329.7 L1117.8 1336.9 L1123.2 1345.9" fill="none" stroke="#f4812f" stroke-width="2.9" stroke-linejoin="round" stroke-linecap="butt"/>
<circle cx="970.1" cy="1217.4" r="2.25" fill="#2f6bbd"/>
<circle cx="979.2" cy="1228.4" r="2.25" fill="#2f6bbd"/>
<circle cx="988.3" cy="1239.7" r="2.25" fill="#2f6bbd"/>
<circle cx="997.4" cy="1251.9" r="2.25" fill="#2f6bbd"/>
<circle cx="1006.5" cy="1257.9" r="2.25" fill="#2f6bbd"/>
<circle cx="1015.6" cy="1265.3" r="2.25" fill="#2f6bbd"/>
<circle cx="1024.7" cy="1270.6" r="2.25" fill="#2f6bbd"/>
<circle cx="1033.8" cy="1278.1" r="2.25" fill="#2f6bbd"/>
<circle cx="1042.9" cy="1281.2" r="2.25" fill="#2f6bbd"/>
<circle cx="1052" cy="1286.1" r="2.25" fill="#2f6bbd"/>
<circle cx="1061.1" cy="1293.3" r="2.25" fill="#2f6bbd"/>
<circle cx="1070.2" cy="1298.1" r="2.25" fill="#2f6bbd"/>
<circle cx="1079.3" cy="1305.6" r="2.25" fill="#2f6bbd"/>
<circle cx="1088.4" cy="1313.4" r="2.25" fill="#2f6bbd"/>
<circle cx="1097.5" cy="1322" r="2.25" fill="#2f6bbd"/>
<circle cx="1106.6" cy="1328.4" r="2.25" fill="#2f6bbd"/>
<circle cx="1115.7" cy="1335.2" r="2.25" fill="#2f6bbd"/>
<rect x="666.5" y="984.5" width="457.9" height="412.4" fill="none" stroke="#231f20" stroke-width="2.9"/>
<line x1="684.8" y1="1395.6" x2="684.8" y2="1393.6" stroke="#231f20" stroke-width="1.3"/>
<line x1="703.1" y1="1395.6" x2="703.1" y2="1393.6" stroke="#231f20" stroke-width="1.3"/>
<line x1="721.4" y1="1395.6" x2="721.4" y2="1393.6" stroke="#231f20" stroke-width="1.3"/>
<line x1="739.8" y1="1395.6" x2="739.8" y2="1393.6" stroke="#231f20" stroke-width="1.3"/>
<line x1="758.1" y1="1395.6" x2="758.1" y2="1392" stroke="#231f20" stroke-width="1.3"/>
<line x1="776.4" y1="1395.6" x2="776.4" y2="1393.6" stroke="#231f20" stroke-width="1.3"/>
<line x1="794.7" y1="1395.6" x2="794.7" y2="1393.6" stroke="#231f20" stroke-width="1.3"/>
<line x1="813" y1="1395.6" x2="813" y2="1393.6" stroke="#231f20" stroke-width="1.3"/>
<line x1="831.3" y1="1395.6" x2="831.3" y2="1393.6" stroke="#231f20" stroke-width="1.3"/>
<line x1="849.7" y1="1395.6" x2="849.7" y2="1392" stroke="#231f20" stroke-width="1.3"/>
<line x1="868" y1="1395.6" x2="868" y2="1393.6" stroke="#231f20" stroke-width="1.3"/>
<line x1="886.3" y1="1395.6" x2="886.3" y2="1393.6" stroke="#231f20" stroke-width="1.3"/>
<line x1="904.6" y1="1395.6" x2="904.6" y2="1393.6" stroke="#231f20" stroke-width="1.3"/>
<line x1="922.9" y1="1395.6" x2="922.9" y2="1393.6" stroke="#231f20" stroke-width="1.3"/>
<line x1="941.2" y1="1395.6" x2="941.2" y2="1392" stroke="#231f20" stroke-width="1.3"/>
<line x1="959.6" y1="1395.6" x2="959.6" y2="1393.6" stroke="#231f20" stroke-width="1.3"/>
<line x1="977.9" y1="1395.6" x2="977.9" y2="1393.6" stroke="#231f20" stroke-width="1.3"/>
<line x1="996.2" y1="1395.6" x2="996.2" y2="1393.6" stroke="#231f20" stroke-width="1.3"/>
<line x1="1014.5" y1="1395.6" x2="1014.5" y2="1393.6" stroke="#231f20" stroke-width="1.3"/>
<line x1="1032.8" y1="1395.6" x2="1032.8" y2="1392" stroke="#231f20" stroke-width="1.3"/>
<line x1="1051.1" y1="1395.6" x2="1051.1" y2="1393.6" stroke="#231f20" stroke-width="1.3"/>
<line x1="1069.5" y1="1395.6" x2="1069.5" y2="1393.6" stroke="#231f20" stroke-width="1.3"/>
<line x1="1087.8" y1="1395.6" x2="1087.8" y2="1393.6" stroke="#231f20" stroke-width="1.3"/>
<line x1="1106.1" y1="1395.6" x2="1106.1" y2="1393.6" stroke="#231f20" stroke-width="1.3"/>
<text x="684.8" y="1418.5" font-size="22" text-anchor="middle" style="" >1850</text>
<text x="775.1" y="1418.5" font-size="22" text-anchor="middle" style="" >1900</text>
<text x="867.1" y="1418.5" font-size="22" text-anchor="middle" style="" >1950</text>
<text x="958.2" y="1418.5" font-size="22" text-anchor="middle" style="" >2000</text>
<text x="1049.3" y="1418.5" font-size="22" text-anchor="middle" style="" >2050</text>
<text x="1119.4" y="1418.5" font-size="22" text-anchor="middle" style="" >2100</text>
<line x1="661.1" y1="1396.9" x2="665.3" y2="1396.9" stroke="#231f20" stroke-width="1.3"/>
<line x1="663.1" y1="1383.2" x2="665.3" y2="1383.2" stroke="#231f20" stroke-width="1.3"/>
<line x1="663.1" y1="1369.4" x2="665.3" y2="1369.4" stroke="#231f20" stroke-width="1.3"/>
<line x1="663.1" y1="1355.7" x2="665.3" y2="1355.7" stroke="#231f20" stroke-width="1.3"/>
<line x1="663.1" y1="1341.9" x2="665.3" y2="1341.9" stroke="#231f20" stroke-width="1.3"/>
<line x1="661.1" y1="1328.2" x2="665.3" y2="1328.2" stroke="#231f20" stroke-width="1.3"/>
<line x1="663.1" y1="1314.4" x2="665.3" y2="1314.4" stroke="#231f20" stroke-width="1.3"/>
<line x1="663.1" y1="1300.7" x2="665.3" y2="1300.7" stroke="#231f20" stroke-width="1.3"/>
<line x1="663.1" y1="1286.9" x2="665.3" y2="1286.9" stroke="#231f20" stroke-width="1.3"/>
<line x1="663.1" y1="1273.2" x2="665.3" y2="1273.2" stroke="#231f20" stroke-width="1.3"/>
<line x1="661.1" y1="1259.4" x2="665.3" y2="1259.4" stroke="#231f20" stroke-width="1.3"/>
<line x1="663.1" y1="1245.7" x2="665.3" y2="1245.7" stroke="#231f20" stroke-width="1.3"/>
<line x1="663.1" y1="1231.9" x2="665.3" y2="1231.9" stroke="#231f20" stroke-width="1.3"/>
<line x1="663.1" y1="1218.2" x2="665.3" y2="1218.2" stroke="#231f20" stroke-width="1.3"/>
<line x1="663.1" y1="1204.4" x2="665.3" y2="1204.4" stroke="#231f20" stroke-width="1.3"/>
<line x1="661.1" y1="1190.7" x2="665.3" y2="1190.7" stroke="#231f20" stroke-width="1.3"/>
<line x1="663.1" y1="1177" x2="665.3" y2="1177" stroke="#231f20" stroke-width="1.3"/>
<line x1="663.1" y1="1163.2" x2="665.3" y2="1163.2" stroke="#231f20" stroke-width="1.3"/>
<line x1="663.1" y1="1149.5" x2="665.3" y2="1149.5" stroke="#231f20" stroke-width="1.3"/>
<line x1="663.1" y1="1135.7" x2="665.3" y2="1135.7" stroke="#231f20" stroke-width="1.3"/>
<line x1="661.1" y1="1122" x2="665.3" y2="1122" stroke="#231f20" stroke-width="1.3"/>
<line x1="663.1" y1="1108.2" x2="665.3" y2="1108.2" stroke="#231f20" stroke-width="1.3"/>
<line x1="663.1" y1="1094.5" x2="665.3" y2="1094.5" stroke="#231f20" stroke-width="1.3"/>
<line x1="663.1" y1="1080.7" x2="665.3" y2="1080.7" stroke="#231f20" stroke-width="1.3"/>
<line x1="663.1" y1="1067" x2="665.3" y2="1067" stroke="#231f20" stroke-width="1.3"/>
<line x1="661.1" y1="1053.2" x2="665.3" y2="1053.2" stroke="#231f20" stroke-width="1.3"/>
<line x1="663.1" y1="1039.5" x2="665.3" y2="1039.5" stroke="#231f20" stroke-width="1.3"/>
<line x1="663.1" y1="1025.7" x2="665.3" y2="1025.7" stroke="#231f20" stroke-width="1.3"/>
<line x1="663.1" y1="1012" x2="665.3" y2="1012" stroke="#231f20" stroke-width="1.3"/>
<line x1="663.1" y1="998.2" x2="665.3" y2="998.2" stroke="#231f20" stroke-width="1.3"/>
<line x1="661.1" y1="984.5" x2="665.3" y2="984.5" stroke="#231f20" stroke-width="1.3"/>
<text x="630.3" y="1401" font-size="26" text-anchor="middle" style="" >290</text>
<text x="630.3" y="1332.3" font-size="26" text-anchor="middle" style="" >300</text>
<text x="630.3" y="1263.5" font-size="26" text-anchor="middle" style="" >310</text>
<text x="630.3" y="1194.8" font-size="26" text-anchor="middle" style="" >320</text>
<text x="630.3" y="1126.1" font-size="26" text-anchor="middle" style="" >330</text>
<text x="630.3" y="1057.3" font-size="26" text-anchor="middle" style="" >340</text>
<text x="630.3" y="988.6" font-size="26" text-anchor="middle" style="" >350</text>
<text x="684.5" y="976.6" font-size="28.9" text-anchor="start" style="" >(h) GFDL-ESM4</text>
</g>
<g id="pi">
<path d="M1234.6 1062.9 L1236.8 1062.2 L1239 1062.3 L1241.2 1061.7 L1243.4 1061.1 L1245.7 1060.5 L1247.9 1059.9 L1250.3 1059.2 L1252.7 1059.6 L1255.1 1058.2 L1257.5 1058.7 L1259.9 1058.1 L1262.3 1057.5 L1264.7 1056.3 L1267.1 1056.5 L1269.4 1056.2 L1271.8 1056 L1274.2 1055.4 L1276.6 1054.2 L1279 1053.7 L1281.4 1053.7 L1283.8 1053 L1286.2 1052.8 L1288.6 1052 L1291 1051 L1293.4 1050.5 L1295.8 1049.2 L1298.2 1049 L1300.6 1048.1 L1303 1047.4 L1305.4 1045.8 L1307.8 1046 L1310.2 1044.8 L1312.6 1043.5 L1315 1042.7 L1317.4 1042 L1319.8 1041.9 L1322.2 1040.5 L1324.6 1040.8 L1327 1040.5 L1329.4 1039.7 L1331.8 1039.8 L1334.2 1039.7 L1336.6 1039.2 L1339 1040.2 L1341.4 1040.7 L1343.8 1041 L1346.2 1041.3 L1348.6 1040.9 L1351 1041.1 L1353.3 1041.1 L1355.7 1041.6 L1358.1 1041.9 L1360.5 1042.2 L1362.9 1041.5 L1365.3 1042.6 L1367.7 1043 L1370.1 1043.1 L1372.5 1043.7 L1374.9 1044 L1377.3 1043.9 L1379.7 1044.6 L1382.1 1045.2 L1384.5 1045.9 L1386.9 1045.8 L1389.3 1046.5 L1391.7 1047.9 L1394.1 1049 L1396.5 1050.6 L1398.9 1052 L1401.3 1052 L1403.7 1052.4 L1406.1 1051.8 L1408.5 1051.5 L1410.9 1051.6 L1413.3 1051.5 L1415.7 1052.2 L1418.1 1051.9 L1420.5 1053.3 L1422.3 1054.3 L1424.1 1056.4 L1425.9 1058.6 L1427.7 1061 L1429.2 1062.5 L1430.8 1064.4 L1432.4 1065.2 L1434 1067.5 L1435.6 1069.5 L1437.6 1067.7 L1439.6 1067.2 L1441.6 1065.4 L1443.6 1065.2 L1445.6 1064 L1448.3 1063.5 L1451 1063.2 L1453.7 1062 L1456.4 1062.1 L1458.8 1061 L1461.2 1061 L1463.6 1060.4 L1466 1058.9 L1468.4 1058.5 L1470.8 1058.3 L1473.2 1057.3 L1475.6 1057.8 L1478 1057.3 L1480.4 1056 L1482.8 1055.9 L1485.2 1056.1 L1487.6 1055 L1490 1054.2 L1492.4 1053.5 L1494.8 1052.2 L1497.2 1052.4 L1499.6 1051.5 L1502 1050.1 L1504.4 1050.1 L1506.8 1050 L1509.2 1049.3 L1511.6 1048.8 L1514 1048.6 L1516.1 1046.9 L1518.3 1046.1 L1520.4 1045.5 L1522.6 1044.8 L1524.7 1044.4 L1526.9 1042.5 L1529.1 1042.5 L1531.2 1041.6 L1533.4 1039.6 L1535.5 1039.2" fill="none" stroke="#1e1c1d" stroke-width="2.9" stroke-linejoin="round" stroke-linecap="butt"/>
<path d="M1234.6 1184.1 L1247.9 1183 L1262.3 1181.6 L1276.6 1180.5 L1291 1176.9 L1305.4 1175.1 L1319.8 1174.1 L1330.6 1172.6 L1341.4 1175.1 L1355.7 1179.4 L1370.1 1181.2 L1384.5 1184.1 L1398.9 1187.7 L1416.9 1190.2 L1427.7 1196.7 L1435.6 1204.6 L1449.2 1203.2 L1463.6 1204.6 L1478 1205.7 L1488.8 1209.3 L1499.6 1211.1 L1514 1209.3 L1521.2 1210.4 L1530.1 1208.2" fill="none" stroke="#1e1c1d" stroke-width="2.9" stroke-linejoin="round" stroke-linecap="butt" stroke-dasharray="9 4"/>
<rect x="1234.9" y="987" width="458.6" height="412.3" fill="none" stroke="#231f20" stroke-width="2.9"/>
<line x1="1253.2" y1="1398" x2="1253.2" y2="1396" stroke="#231f20" stroke-width="1.3"/>
<line x1="1271.6" y1="1398" x2="1271.6" y2="1396" stroke="#231f20" stroke-width="1.3"/>
<line x1="1289.9" y1="1398" x2="1289.9" y2="1396" stroke="#231f20" stroke-width="1.3"/>
<line x1="1308.3" y1="1398" x2="1308.3" y2="1396" stroke="#231f20" stroke-width="1.3"/>
<line x1="1326.6" y1="1398" x2="1326.6" y2="1394.4" stroke="#231f20" stroke-width="1.3"/>
<line x1="1345" y1="1398" x2="1345" y2="1396" stroke="#231f20" stroke-width="1.3"/>
<line x1="1363.3" y1="1398" x2="1363.3" y2="1396" stroke="#231f20" stroke-width="1.3"/>
<line x1="1381.7" y1="1398" x2="1381.7" y2="1396" stroke="#231f20" stroke-width="1.3"/>
<line x1="1400" y1="1398" x2="1400" y2="1396" stroke="#231f20" stroke-width="1.3"/>
<line x1="1418.3" y1="1398" x2="1418.3" y2="1394.4" stroke="#231f20" stroke-width="1.3"/>
<line x1="1436.7" y1="1398" x2="1436.7" y2="1396" stroke="#231f20" stroke-width="1.3"/>
<line x1="1455" y1="1398" x2="1455" y2="1396" stroke="#231f20" stroke-width="1.3"/>
<line x1="1473.4" y1="1398" x2="1473.4" y2="1396" stroke="#231f20" stroke-width="1.3"/>
<line x1="1491.7" y1="1398" x2="1491.7" y2="1396" stroke="#231f20" stroke-width="1.3"/>
<line x1="1510.1" y1="1398" x2="1510.1" y2="1394.4" stroke="#231f20" stroke-width="1.3"/>
<line x1="1528.4" y1="1398" x2="1528.4" y2="1396" stroke="#231f20" stroke-width="1.3"/>
<line x1="1546.7" y1="1398" x2="1546.7" y2="1396" stroke="#231f20" stroke-width="1.3"/>
<line x1="1565.1" y1="1398" x2="1565.1" y2="1396" stroke="#231f20" stroke-width="1.3"/>
<line x1="1583.4" y1="1398" x2="1583.4" y2="1396" stroke="#231f20" stroke-width="1.3"/>
<line x1="1601.8" y1="1398" x2="1601.8" y2="1394.4" stroke="#231f20" stroke-width="1.3"/>
<line x1="1620.1" y1="1398" x2="1620.1" y2="1396" stroke="#231f20" stroke-width="1.3"/>
<line x1="1638.5" y1="1398" x2="1638.5" y2="1396" stroke="#231f20" stroke-width="1.3"/>
<line x1="1656.8" y1="1398" x2="1656.8" y2="1396" stroke="#231f20" stroke-width="1.3"/>
<line x1="1675.2" y1="1398" x2="1675.2" y2="1396" stroke="#231f20" stroke-width="1.3"/>
<text x="1253.2" y="1420.9" font-size="22" text-anchor="middle" style="" >1850</text>
<text x="1343.5" y="1420.9" font-size="22" text-anchor="middle" style="" >1900</text>
<text x="1435.5" y="1420.9" font-size="22" text-anchor="middle" style="" >1950</text>
<text x="1526.6" y="1420.9" font-size="22" text-anchor="middle" style="" >2000</text>
<text x="1617.7" y="1420.9" font-size="22" text-anchor="middle" style="" >2050</text>
<text x="1687.8" y="1420.9" font-size="22" text-anchor="middle" style="" >2100</text>
<line x1="1229.5" y1="1399.3" x2="1233.7" y2="1399.3" stroke="#231f20" stroke-width="1.3"/>
<line x1="1231.5" y1="1382.8" x2="1233.7" y2="1382.8" stroke="#231f20" stroke-width="1.3"/>
<line x1="1231.5" y1="1366.3" x2="1233.7" y2="1366.3" stroke="#231f20" stroke-width="1.3"/>
<line x1="1231.5" y1="1349.8" x2="1233.7" y2="1349.8" stroke="#231f20" stroke-width="1.3"/>
<line x1="1231.5" y1="1333.3" x2="1233.7" y2="1333.3" stroke="#231f20" stroke-width="1.3"/>
<line x1="1229.5" y1="1316.8" x2="1233.7" y2="1316.8" stroke="#231f20" stroke-width="1.3"/>
<line x1="1231.5" y1="1300.3" x2="1233.7" y2="1300.3" stroke="#231f20" stroke-width="1.3"/>
<line x1="1231.5" y1="1283.9" x2="1233.7" y2="1283.9" stroke="#231f20" stroke-width="1.3"/>
<line x1="1231.5" y1="1267.4" x2="1233.7" y2="1267.4" stroke="#231f20" stroke-width="1.3"/>
<line x1="1231.5" y1="1250.9" x2="1233.7" y2="1250.9" stroke="#231f20" stroke-width="1.3"/>
<line x1="1229.5" y1="1234.4" x2="1233.7" y2="1234.4" stroke="#231f20" stroke-width="1.3"/>
<line x1="1231.5" y1="1217.9" x2="1233.7" y2="1217.9" stroke="#231f20" stroke-width="1.3"/>
<line x1="1231.5" y1="1201.4" x2="1233.7" y2="1201.4" stroke="#231f20" stroke-width="1.3"/>
<line x1="1231.5" y1="1184.9" x2="1233.7" y2="1184.9" stroke="#231f20" stroke-width="1.3"/>
<line x1="1231.5" y1="1168.4" x2="1233.7" y2="1168.4" stroke="#231f20" stroke-width="1.3"/>
<line x1="1229.5" y1="1151.9" x2="1233.7" y2="1151.9" stroke="#231f20" stroke-width="1.3"/>
<line x1="1231.5" y1="1135.4" x2="1233.7" y2="1135.4" stroke="#231f20" stroke-width="1.3"/>
<line x1="1231.5" y1="1118.9" x2="1233.7" y2="1118.9" stroke="#231f20" stroke-width="1.3"/>
<line x1="1231.5" y1="1102.4" x2="1233.7" y2="1102.4" stroke="#231f20" stroke-width="1.3"/>
<line x1="1231.5" y1="1086" x2="1233.7" y2="1086" stroke="#231f20" stroke-width="1.3"/>
<line x1="1229.5" y1="1069.5" x2="1233.7" y2="1069.5" stroke="#231f20" stroke-width="1.3"/>
<line x1="1231.5" y1="1053" x2="1233.7" y2="1053" stroke="#231f20" stroke-width="1.3"/>
<line x1="1231.5" y1="1036.5" x2="1233.7" y2="1036.5" stroke="#231f20" stroke-width="1.3"/>
<line x1="1231.5" y1="1020" x2="1233.7" y2="1020" stroke="#231f20" stroke-width="1.3"/>
<line x1="1231.5" y1="1003.5" x2="1233.7" y2="1003.5" stroke="#231f20" stroke-width="1.3"/>
<line x1="1229.5" y1="987" x2="1233.7" y2="987" stroke="#231f20" stroke-width="1.3"/>
<text x="1198.6" y="1403.4" font-size="26" text-anchor="middle" style="" >1300</text>
<text x="1198.6" y="1320.9" font-size="26" text-anchor="middle" style="" >1400</text>
<text x="1198.6" y="1238.5" font-size="26" text-anchor="middle" style="" >1500</text>
<text x="1198.6" y="1156" font-size="26" text-anchor="middle" style="" >1600</text>
<text x="1198.6" y="1073.6" font-size="26" text-anchor="middle" style="" >1700</text>
<text x="1198.6" y="991.1" font-size="26" text-anchor="middle" style="" >1800</text>
<text x="1245.4" y="976.6" font-size="28.9" text-anchor="start" style="" >(i) GISS-E2-1-G</text>
</g>
<g id="pj">
<path d="M103.2 1715.9 L105.4 1715.7 L107.6 1716.1 L109.8 1716.3 L112 1716.8 L114.2 1716.1 L116.5 1716.6 L118.7 1716.5 L120.9 1716.5 L123.2 1716.1 L125.4 1716.3 L127.7 1716.4 L129.9 1716.3 L132.1 1716.5 L134.4 1716.5 L136.6 1716.5 L139 1716.6 L141.4 1716.6 L143.8 1715.6 L146.2 1715.2 L148.6 1714.9 L151 1714.7 L153.4 1714.8 L155.8 1713.9 L158.2 1713.1 L160.6 1712.2 L163 1712.3 L165.4 1710.8 L167.8 1711 L170.2 1711.2 L172.6 1711.3 L175 1710.8 L177.4 1710.3 L179.8 1710.7 L182.2 1710.1 L184.6 1709.8 L187 1709.8 L189.4 1709.9 L191.8 1710 L194.2 1709.8 L196.6 1708.8 L199 1708.5 L201.4 1707.6 L203.8 1707.2 L206.2 1706 L208.6 1706 L211 1705.7 L213.3 1704.8 L215.7 1704.8 L218.1 1704 L220.5 1703.4 L222.9 1703.5 L225.3 1702.8 L227.7 1702.4 L230.1 1701.9 L232.5 1701.8 L234.9 1701.6 L237.3 1701.9 L239.7 1701.6 L242.1 1700.7 L244.5 1699.7 L246.9 1699.8 L249.3 1699.2 L251.7 1699 L254.1 1698.9 L256.5 1697.8 L258.9 1697.3 L261.3 1696.5 L263.7 1696.5 L266.1 1696 L268.5 1695.3 L270.9 1694.8 L273.3 1694.3 L275.7 1693.6 L278.1 1693.2 L280.5 1692.8 L282.9 1691.8 L285.3 1692 L287.7 1691.5 L290.1 1690.3 L292.5 1690.5 L294.9 1690.1 L297.3 1689.1 L299.6 1688.1 L302 1688.2 L304.4 1687.8 L306.8 1686.7 L309.2 1686.7 L311.6 1685.8 L314 1685.2 L316.4 1684.5 L318.8 1684 L321.2 1684.1 L323.6 1683.5 L326 1682.5 L328.4 1681.6 L330.8 1680.9 L333.2 1679.5 L335.6 1679.3 L338 1678.6 L340.4 1677.6 L342.8 1676.3 L345.2 1676 L347.6 1674.7 L350 1674.6 L352.4 1673.6 L354.4 1672.6 L356.5 1672.3 L358.6 1671 L360.6 1669.9 L362.7 1669.3 L364.7 1668.6 L366.8 1667.7 L368.8 1666.7 L370.9 1665.6 L372.9 1663.8 L375 1663.3 L377 1662.6 L379.1 1660.7 L381.2 1660.5 L383.3 1659.4 L385.5 1658.3 L387.6 1657.1 L389.8 1655.4 L391.9 1655.2 L394.1 1653.6 L396.3 1652.9 L398.4 1652.2 L400.6 1651 L402.7 1650.1" fill="none" stroke="#c8c9cb" stroke-width="2.9" stroke-linejoin="round" stroke-linecap="butt"/>
<path d="M103.2 1715.1 L105.4 1715.2 L107.6 1715.3 L109.8 1715.2 L112 1715.4 L114.2 1716.1 L116.5 1716.1 L118.7 1715.8 L120.9 1715.8 L123.2 1716.3 L125.4 1715.5 L127.7 1715.7 L129.9 1716.2 L132.1 1716 L134.4 1716.2 L136.6 1715.8 L139 1716.1 L141.4 1716.4 L143.8 1716.1 L146.2 1715.7 L148.6 1716.2 L151 1715.7 L153.4 1714.9 L155.8 1714.9 L158.2 1714.3 L160.6 1713.4 L163 1712.8 L165.4 1712.2 L167.8 1712.2 L170.2 1711.1 L172.6 1711.4 L175 1710.4 L177.4 1710.2 L179.8 1709.3 L182.2 1710.3 L184.6 1710.4 L187 1709.9 L189.4 1710 L191.8 1709.9 L194.2 1710.8 L196.6 1710.3 L199 1710.4 L201.4 1709.9 L203.8 1709.7 L206.2 1710.2 L208.6 1709.3 L211 1709.2 L213.3 1709.6 L215.7 1709.3 L218.1 1708.3 L220.5 1708.5 L222.9 1707.7 L225.3 1707.3 L227.7 1707.2 L230.1 1707.2 L232.5 1707.2 L234.9 1707.1 L237.3 1707.1 L239.7 1706.5 L242.1 1705.9 L244.5 1705.2 L246.9 1705.7 L249.3 1704.6 L251.7 1704.4 L254.1 1703.7 L256.5 1703.5 L258.9 1704.2 L261.3 1703.6 L263.7 1703.1 L266.1 1703.7 L268.5 1702.9 L270.9 1701.7 L273.3 1701.3 L275.7 1701.3 L278.1 1700.5 L280.5 1699.5 L282.9 1699.8 L285.3 1699 L287.7 1699 L290.1 1699.2 L292.5 1699.3 L294.9 1698.5 L297.3 1698.4 L299.6 1698.4 L302 1697.7 L304.4 1697.4 L306.8 1697.5 L309.2 1697.2 L311.6 1696.3 L314 1696.6 L316.4 1696 L318.8 1694.8 L321.2 1694.4 L323.6 1694.4 L326 1693.9 L328.4 1693.5 L330.8 1692.1 L333.2 1692 L335.6 1691.3 L338 1691.1 L340.4 1689.4 L342.8 1687.8 L345.2 1686.9 L347.6 1685.9 L350 1684.4 L352.4 1683.1 L354.8 1682.4 L357.2 1681.3 L359.6 1680.5 L361.6 1680.1 L363.7 1679 L365.7 1678.1 L367.8 1677.6 L369.9 1676.1 L371.9 1675.1 L374 1674.1 L376 1673.8 L378.1 1672.2 L380.1 1671.6 L382.2 1670.3 L384.2 1669.8 L386.3 1668.4 L388.3 1667.6 L390.4 1666.5 L392.5 1665.5 L394.5 1664.2 L396.6 1663.3 L398.6 1662 L400.7 1661.6 L402.7 1660.1" fill="none" stroke="#1e1c1d" stroke-width="2.9" stroke-linejoin="round" stroke-linecap="butt"/>
<path d="M103.2 1821.9 L118.7 1821.9 L136.6 1821.2 L154.6 1820.1 L172.6 1818.3 L194.2 1815.5 L208.6 1814 L222.9 1811.2 L237.3 1806.8 L251.7 1804 L266.1 1800.4 L280.5 1798.6 L294.9 1793.9 L309.2 1789.6 L323.6 1784.2 L334.4 1777 L345.2 1771.6 L359.6 1766.2 L374 1757.9 L388.3 1746.4 L398.4 1739.2" fill="none" stroke="#a9abae" stroke-width="2.9" stroke-linejoin="round" stroke-linecap="butt" stroke-dasharray="9 4"/>
<path d="M103.2 1821.2 L118.7 1821.2 L136.6 1820.1 L154.6 1819.1 L172.6 1817.3 L194.2 1815.5 L208.6 1814.7 L222.9 1813 L237.3 1808.3 L251.7 1805.8 L266.1 1804 L280.5 1800.4 L294.9 1796.1 L309.2 1791.4 L323.6 1786 L334.4 1778.8 L345.2 1774.1 L359.6 1768.7 L374 1761.5 L388.3 1752.5 L398.4 1744.6" fill="none" stroke="#1e1c1d" stroke-width="2.9" stroke-linejoin="round" stroke-linecap="butt" stroke-dasharray="9 4"/>
<path d="M402.7 1660.1 L404.8 1659.5 L406.8 1658 L408.9 1657.3 L410.9 1656.1 L413 1654.9 L415.1 1653.8 L417.1 1652.7 L419.2 1651.5 L421.2 1650.2 L423.3 1648.9 L425.3 1648.1 L427.4 1646.1 L429.4 1644.9 L431.5 1643.6 L433.5 1642.4 L435.6 1641 L437.7 1640.1 L439.7 1638.4 L441.8 1636.7 L443.8 1635.7 L445.9 1634.5 L447.9 1632.8 L450 1632.4 L452 1631.3 L454.1 1630.2 L456.2 1628.9 L458.2 1627.4 L460.3 1626.6 L462.3 1625.4 L464.4 1624.4 L466.4 1624.1 L468.5 1622.9 L470.5 1621.9 L472.6 1621 L474.6 1620.1 L476.7 1618.9 L478.8 1617.8 L480.8 1617.7 L482.9 1616.4 L484.9 1615.8 L487 1614.8 L489 1614.2 L491.1 1612.8 L493.1 1612.3 L495.2 1611.3 L497.2 1610.4 L499.3 1610.1 L501.4 1608.8 L503.4 1608.1 L505.8 1607.2 L508.2 1606.8 L510.6 1606.9 L513 1606.1 L515.4 1605.5 L517.8 1605.4 L520.2 1604.5 L522.6 1603.7 L525 1603.7 L527.4 1603 L529.8 1602.7 L532.2 1602.1 L534.2 1601.1 L536.3 1600 L538.3 1599.6 L540.4 1598.9 L542.4 1597.6 L544.5 1596.8 L546.6 1595.9 L548.7 1595 L550.8 1594.9 L552.9 1593.6 L554.9 1593.6 L557 1592.4 L559.1 1591.8" fill="none" stroke="#2f6bbd" stroke-width="2.9" stroke-linejoin="round" stroke-linecap="butt"/>
<path d="M402.7 1660.1 L404.8 1658.8 L406.8 1657.4 L408.9 1656.3 L410.9 1654.9 L413 1653.8 L415.1 1652.7 L417.1 1651 L419.2 1649.8 L421.2 1648.6 L423.3 1647 L425.3 1646 L427.4 1644.6 L429.4 1643.8 L431.5 1641.9 L433.5 1640.6 L435.6 1639.9 L437.7 1638.2 L439.7 1637.1 L441.8 1635.9 L443.8 1634.6 L445.9 1633.6 L447.9 1632 L450 1630.8 L452 1630.2 L454.1 1629.4 L456.2 1628.2 L458.2 1626.8 L460.3 1625.6 L462.3 1624.5 L464.4 1623 L466.4 1621.7 L468.5 1620.8 L470.5 1619.5 L472.6 1618.2 L474.6 1616.9 L476.7 1615.8 L478.8 1614.7 L480.8 1613.8 L482.9 1612.5 L484.9 1611.7 L487 1610.7 L489 1609.8 L491.4 1609.3 L493.8 1608.4 L496.2 1607.4 L498.6 1606.7 L501 1605.8 L503.4 1605.6 L505.8 1604.8 L508.2 1604.2 L510.6 1604.2 L513 1603.3 L515.4 1603.3 L517.8 1602.5 L520.2 1602.4 L522.6 1602.1 L525 1601.6 L527.4 1601.5 L529.8 1601.1 L532.2 1601.1 L534.6 1600.9 L537 1601 L539.4 1600.7 L541.8 1600.9 L544.2 1601.5 L546.6 1601.1 L549.1 1601.5 L551.6 1602.3 L554.1 1603.4 L556.6 1604 L559.1 1604.4" fill="none" stroke="#f4812f" stroke-width="2.9" stroke-linejoin="round" stroke-linecap="butt"/>
<path d="M406.3 1660.1 L417.1 1652.9 L431.5 1643.2 L445.9 1634.2 L460.3 1627 L474.6 1618.8 L489 1611.6 L503.4 1606.2 L517.8 1603.3 L532.2 1601.5 L546.6 1600.8 L559.1 1600.8" fill="none" stroke="#f4812f" stroke-width="2.9" stroke-linejoin="round" stroke-linecap="butt"/>
<circle cx="410.3" cy="1657.5" r="2.25" fill="#2f6bbd"/>
<circle cx="419.4" cy="1651.4" r="2.25" fill="#2f6bbd"/>
<circle cx="428.5" cy="1645.2" r="2.25" fill="#2f6bbd"/>
<circle cx="437.6" cy="1639.4" r="2.25" fill="#2f6bbd"/>
<circle cx="446.7" cy="1633.8" r="2.25" fill="#2f6bbd"/>
<circle cx="455.8" cy="1629.3" r="2.25" fill="#2f6bbd"/>
<circle cx="464.9" cy="1624.4" r="2.25" fill="#2f6bbd"/>
<circle cx="474" cy="1619.1" r="2.25" fill="#2f6bbd"/>
<circle cx="483.1" cy="1614.5" r="2.25" fill="#2f6bbd"/>
<circle cx="492.2" cy="1610.4" r="2.25" fill="#2f6bbd"/>
<circle cx="501.3" cy="1607" r="2.25" fill="#2f6bbd"/>
<circle cx="510.4" cy="1604.8" r="2.25" fill="#2f6bbd"/>
<circle cx="519.5" cy="1603.1" r="2.25" fill="#2f6bbd"/>
<circle cx="528.6" cy="1602" r="2.25" fill="#2f6bbd"/>
<circle cx="537.7" cy="1601.2" r="2.25" fill="#2f6bbd"/>
<circle cx="546.8" cy="1600.8" r="2.25" fill="#2f6bbd"/>
<circle cx="555.9" cy="1600.8" r="2.25" fill="#2f6bbd"/>
<path d="M406.3 1660.8 L417.1 1654.7 L431.5 1645 L445.9 1636.8 L460.3 1628.5 L474.6 1621.3 L489 1615.2 L503.4 1609.8 L517.8 1606.2 L532.2 1603.3 L546.6 1601.9 L559.1 1602.6" fill="none" stroke="#2f6bbd" stroke-width="2.9" stroke-linejoin="round" stroke-linecap="butt"/>
<circle cx="410.3" cy="1658.6" r="2.25" fill="#f4812f"/>
<circle cx="419.4" cy="1653.2" r="2.25" fill="#f4812f"/>
<circle cx="428.5" cy="1647" r="2.25" fill="#f4812f"/>
<circle cx="437.6" cy="1641.5" r="2.25" fill="#f4812f"/>
<circle cx="446.7" cy="1636.3" r="2.25" fill="#f4812f"/>
<circle cx="455.8" cy="1631" r="2.25" fill="#f4812f"/>
<circle cx="464.9" cy="1626.2" r="2.25" fill="#f4812f"/>
<circle cx="474" cy="1621.6" r="2.25" fill="#f4812f"/>
<circle cx="483.1" cy="1617.7" r="2.25" fill="#f4812f"/>
<circle cx="492.2" cy="1614" r="2.25" fill="#f4812f"/>
<circle cx="501.3" cy="1610.6" r="2.25" fill="#f4812f"/>
<circle cx="510.4" cy="1608" r="2.25" fill="#f4812f"/>
<circle cx="519.5" cy="1605.8" r="2.25" fill="#f4812f"/>
<circle cx="528.6" cy="1604" r="2.25" fill="#f4812f"/>
<circle cx="537.7" cy="1602.8" r="2.25" fill="#f4812f"/>
<circle cx="546.8" cy="1601.9" r="2.25" fill="#f4812f"/>
<circle cx="555.9" cy="1602.4" r="2.25" fill="#f4812f"/>
<rect x="103" y="1470.1" width="458.3" height="412.2" fill="none" stroke="#231f20" stroke-width="2.9"/>
<line x1="121.3" y1="1881" x2="121.3" y2="1879" stroke="#231f20" stroke-width="1.3"/>
<line x1="139.7" y1="1881" x2="139.7" y2="1879" stroke="#231f20" stroke-width="1.3"/>
<line x1="158" y1="1881" x2="158" y2="1879" stroke="#231f20" stroke-width="1.3"/>
<line x1="176.3" y1="1881" x2="176.3" y2="1879" stroke="#231f20" stroke-width="1.3"/>
<line x1="194.7" y1="1881" x2="194.7" y2="1877.4" stroke="#231f20" stroke-width="1.3"/>
<line x1="213" y1="1881" x2="213" y2="1879" stroke="#231f20" stroke-width="1.3"/>
<line x1="231.3" y1="1881" x2="231.3" y2="1879" stroke="#231f20" stroke-width="1.3"/>
<line x1="249.7" y1="1881" x2="249.7" y2="1879" stroke="#231f20" stroke-width="1.3"/>
<line x1="268" y1="1881" x2="268" y2="1879" stroke="#231f20" stroke-width="1.3"/>
<line x1="286.3" y1="1881" x2="286.3" y2="1877.4" stroke="#231f20" stroke-width="1.3"/>
<line x1="304.7" y1="1881" x2="304.7" y2="1879" stroke="#231f20" stroke-width="1.3"/>
<line x1="323" y1="1881" x2="323" y2="1879" stroke="#231f20" stroke-width="1.3"/>
<line x1="341.3" y1="1881" x2="341.3" y2="1879" stroke="#231f20" stroke-width="1.3"/>
<line x1="359.6" y1="1881" x2="359.6" y2="1879" stroke="#231f20" stroke-width="1.3"/>
<line x1="378" y1="1881" x2="378" y2="1877.4" stroke="#231f20" stroke-width="1.3"/>
<line x1="396.3" y1="1881" x2="396.3" y2="1879" stroke="#231f20" stroke-width="1.3"/>
<line x1="414.6" y1="1881" x2="414.6" y2="1879" stroke="#231f20" stroke-width="1.3"/>
<line x1="433" y1="1881" x2="433" y2="1879" stroke="#231f20" stroke-width="1.3"/>
<line x1="451.3" y1="1881" x2="451.3" y2="1879" stroke="#231f20" stroke-width="1.3"/>
<line x1="469.6" y1="1881" x2="469.6" y2="1877.4" stroke="#231f20" stroke-width="1.3"/>
<line x1="488" y1="1881" x2="488" y2="1879" stroke="#231f20" stroke-width="1.3"/>
<line x1="506.3" y1="1881" x2="506.3" y2="1879" stroke="#231f20" stroke-width="1.3"/>
<line x1="524.6" y1="1881" x2="524.6" y2="1879" stroke="#231f20" stroke-width="1.3"/>
<line x1="543" y1="1881" x2="543" y2="1879" stroke="#231f20" stroke-width="1.3"/>
<text x="121.3" y="1903.9" font-size="22" text-anchor="middle" style="" >1850</text>
<text x="211.6" y="1903.9" font-size="22" text-anchor="middle" style="" >1900</text>
<text x="303.6" y="1903.9" font-size="22" text-anchor="middle" style="" >1950</text>
<text x="394.7" y="1903.9" font-size="22" text-anchor="middle" style="" >2000</text>
<text x="485.8" y="1903.9" font-size="22" text-anchor="middle" style="" >2050</text>
<text x="555.9" y="1903.9" font-size="22" text-anchor="middle" style="" >2100</text>
<line x1="97.6" y1="1882.3" x2="101.8" y2="1882.3" stroke="#231f20" stroke-width="1.3"/>
<line x1="99.6" y1="1868.6" x2="101.8" y2="1868.6" stroke="#231f20" stroke-width="1.3"/>
<line x1="99.6" y1="1854.8" x2="101.8" y2="1854.8" stroke="#231f20" stroke-width="1.3"/>
<line x1="99.6" y1="1841.1" x2="101.8" y2="1841.1" stroke="#231f20" stroke-width="1.3"/>
<line x1="99.6" y1="1827.3" x2="101.8" y2="1827.3" stroke="#231f20" stroke-width="1.3"/>
<line x1="99.6" y1="1813.6" x2="101.8" y2="1813.6" stroke="#231f20" stroke-width="1.3"/>
<line x1="99.6" y1="1799.9" x2="101.8" y2="1799.9" stroke="#231f20" stroke-width="1.3"/>
<line x1="99.6" y1="1786.1" x2="101.8" y2="1786.1" stroke="#231f20" stroke-width="1.3"/>
<line x1="99.6" y1="1772.4" x2="101.8" y2="1772.4" stroke="#231f20" stroke-width="1.3"/>
<line x1="99.6" y1="1758.6" x2="101.8" y2="1758.6" stroke="#231f20" stroke-width="1.3"/>
<line x1="97.6" y1="1744.9" x2="101.8" y2="1744.9" stroke="#231f20" stroke-width="1.3"/>
<line x1="99.6" y1="1731.2" x2="101.8" y2="1731.2" stroke="#231f20" stroke-width="1.3"/>
<line x1="99.6" y1="1717.4" x2="101.8" y2="1717.4" stroke="#231f20" stroke-width="1.3"/>
<line x1="99.6" y1="1703.7" x2="101.8" y2="1703.7" stroke="#231f20" stroke-width="1.3"/>
<line x1="99.6" y1="1689.9" x2="101.8" y2="1689.9" stroke="#231f20" stroke-width="1.3"/>
<line x1="99.6" y1="1676.2" x2="101.8" y2="1676.2" stroke="#231f20" stroke-width="1.3"/>
<line x1="99.6" y1="1662.5" x2="101.8" y2="1662.5" stroke="#231f20" stroke-width="1.3"/>
<line x1="99.6" y1="1648.7" x2="101.8" y2="1648.7" stroke="#231f20" stroke-width="1.3"/>
<line x1="99.6" y1="1635" x2="101.8" y2="1635" stroke="#231f20" stroke-width="1.3"/>
<line x1="99.6" y1="1621.2" x2="101.8" y2="1621.2" stroke="#231f20" stroke-width="1.3"/>
<line x1="97.6" y1="1607.5" x2="101.8" y2="1607.5" stroke="#231f20" stroke-width="1.3"/>
<line x1="99.6" y1="1593.8" x2="101.8" y2="1593.8" stroke="#231f20" stroke-width="1.3"/>
<line x1="99.6" y1="1580" x2="101.8" y2="1580" stroke="#231f20" stroke-width="1.3"/>
<line x1="99.6" y1="1566.3" x2="101.8" y2="1566.3" stroke="#231f20" stroke-width="1.3"/>
<line x1="99.6" y1="1552.5" x2="101.8" y2="1552.5" stroke="#231f20" stroke-width="1.3"/>
<line x1="99.6" y1="1538.8" x2="101.8" y2="1538.8" stroke="#231f20" stroke-width="1.3"/>
<line x1="99.6" y1="1525.1" x2="101.8" y2="1525.1" stroke="#231f20" stroke-width="1.3"/>
<line x1="99.6" y1="1511.3" x2="101.8" y2="1511.3" stroke="#231f20" stroke-width="1.3"/>
<line x1="99.6" y1="1497.6" x2="101.8" y2="1497.6" stroke="#231f20" stroke-width="1.3"/>
<line x1="99.6" y1="1483.8" x2="101.8" y2="1483.8" stroke="#231f20" stroke-width="1.3"/>
<line x1="97.6" y1="1470.1" x2="101.8" y2="1470.1" stroke="#231f20" stroke-width="1.3"/>
<text x="70" y="1886.4" font-size="26" text-anchor="middle" style="" >500</text>
<text x="70" y="1749" font-size="26" text-anchor="middle" style="" >600</text>
<text x="70" y="1611.6" font-size="26" text-anchor="middle" style="" >700</text>
<text x="70" y="1474.2" font-size="26" text-anchor="middle" style="" >800</text>
<text x="124.8" y="1460" font-size="28.9" text-anchor="start" style="" >(j) IPSL-CM6A-LR</text>
</g>
<g id="pk">
<path d="M666.5 1691.8 L668.8 1692.2 L671 1693.4 L673.3 1695.6 L675.5 1696 L678.2 1696.3 L680.9 1697 L683.6 1696.5 L686.3 1696.8 L689 1696 L691.7 1695.6 L694.4 1694.8 L697.1 1694.5 L699.8 1695.9 L702.5 1696.2 L705.2 1695.8 L707.9 1696.1 L710.3 1697.2 L712.7 1697.5 L715.1 1697.8 L717.5 1698.2 L719.9 1699.3 L722.3 1699.8 L724.7 1698.9 L727.1 1697 L729.4 1696 L731.8 1695.3 L734.2 1694 L736.6 1694.6 L739 1694.3 L741.4 1694 L743.8 1693 L746.2 1692.6 L748.6 1692.4 L751 1691.5 L753.4 1690.9 L755.8 1690.8 L758.2 1690.6 L760.6 1689.3 L763 1689.7 L765.4 1688 L767.8 1688.2 L770.2 1686.5 L772.6 1685.7 L775 1685.1 L777.4 1684.4 L779.8 1683.6 L782.2 1683 L784.6 1681.8 L787 1681.4 L789.4 1679.9 L791.8 1680.7 L794.2 1680 L796.6 1679 L799 1678 L801.4 1678.4 L803.8 1677.2 L806.2 1676.4 L808.6 1675.7 L811 1675.3 L813.3 1675.5 L815.7 1674.8 L818.1 1673.8 L820.5 1673.5 L822.9 1673.3 L825.3 1673.2 L827.7 1671.7 L830.1 1671.2 L832.5 1670.5 L834.9 1670.7 L837.3 1670.6 L839.7 1670.2 L842.1 1669.1 L844.5 1669.6 L847.2 1669.3 L849.9 1667.6 L852.6 1667.1 L855.3 1667.3 L857.5 1666.5 L859.6 1664.6 L861.8 1663.5 L863.9 1663.3 L866.1 1662.2 L867.9 1660.2 L869.7 1659.1 L871.5 1657.7 L873.3 1656.6 L875.1 1654.7 L876.9 1653 L878.7 1651.9 L880.5 1650.6 L882.3 1647.8 L884.1 1646.9 L885.9 1645 L887.7 1643.8 L889.5 1642.4 L891.3 1641.3 L893.1 1638.8 L894.9 1638.3 L896.7 1635.9 L898.5 1634.3 L900.2 1633.6 L902 1631.8 L903.8 1631.1 L905.6 1628.6 L907.4 1627 L909.2 1626.4 L910.8 1624.3 L912.3 1622.5 L913.9 1621 L915.4 1618.6 L916.9 1616.9 L918.5 1615.1 L920 1613 L921.6 1611.4 L923.1 1609.6 L924.6 1607.9 L926.2 1605.6 L927.7 1604 L929.3 1603.2 L930.8 1601.2 L932.6 1598.7 L934.4 1596.6 L936.2 1596 L938 1593 L939.8 1591.7 L941.6 1589.5 L943.4 1588.8 L945.2 1587.5 L947 1585.6 L948.8 1583.9 L950.6 1581.9 L952.4 1581.6 L954.2 1579.4 L956 1577.3 L957.8 1576.1 L959.6 1574.4 L961.4 1572 L962.5 1570.4 L963.5 1567.6 L964.6 1565.1 L965.7 1564 L966.8 1561.2" fill="none" stroke="#c8c9cb" stroke-width="2.9" stroke-linejoin="round" stroke-linecap="butt"/>
<path d="M666.5 1694.3 L668.6 1695.1 L670.7 1696.3 L672.8 1697.1 L674.9 1699.9 L677 1699.5 L679.1 1700.7 L681.2 1701.6 L683.2 1703.9 L685.3 1704.5 L687.3 1705.9 L689.4 1705.9 L691.4 1707.9 L693.5 1709.3 L695.9 1708.9 L698.3 1711.6 L700.7 1711.8 L703.1 1711.6 L705.5 1713.3 L707.9 1713.9 L710 1714.7 L712.2 1716.6 L714.3 1716.9 L716.5 1718.5 L718.7 1720.5 L721.1 1718.3 L723.5 1719.6 L725.9 1719.3 L728.2 1716 L730.6 1715.3 L733 1715 L735.7 1714.9 L738.4 1712.9 L741.1 1713.5 L743.8 1713.3 L746.2 1712.3 L748.6 1712 L751 1712.2 L753.4 1713.4 L755.8 1714.4 L758.2 1716 L760.9 1716 L763.6 1716.5 L766.3 1716.7 L769 1718.6 L771.2 1719.4 L773.3 1719.2 L775.5 1720.5 L777.6 1721.6 L779.8 1722.2 L781.9 1722.4 L784.1 1723.6 L786.3 1725.1 L788.4 1726.2 L790.6 1726.5 L792.7 1727.6 L794.9 1728.1 L797 1729.7 L799.2 1728.7 L801.4 1730.2 L803.8 1729.8 L806.2 1731.9 L808.6 1732.6 L811 1731.9 L813.3 1733.3 L815.7 1734.2 L818.1 1733.9 L820.5 1736 L822.9 1734.6 L825.3 1735.5 L827.7 1736.6 L830.1 1737.2 L832.5 1737.5 L834.9 1738.2 L837.3 1737.9 L839.7 1738.6 L842.1 1739.8 L844.5 1740.1 L846.9 1739.9 L849.3 1740.2 L851.7 1741.6 L854.1 1739.8 L856.5 1741.1 L858.9 1741.9 L861.6 1740.9 L864.3 1741.4 L867 1742.4 L869.7 1742 L871.5 1741.2 L873.3 1739.4 L875.1 1738.5 L876.9 1738.2 L879 1737.2 L881.2 1736.5 L883.3 1734.5 L885.5 1735.2 L887.7 1733.5 L889.8 1732.6 L892 1731.9 L894.1 1729.8 L896.3 1728.5 L898.5 1729.5 L900.6 1727.6 L902.8 1726 L904.9 1725.1 L907.1 1723.9 L909.2 1723.2 L911 1722.4 L912.8 1719.7 L914.6 1720 L916.4 1717.5 L918.6 1716.3 L920.7 1715.6 L922.9 1714.1 L925.1 1712.2 L927.2 1711.6 L928.4 1708.1 L929.6 1705.6 L930.8 1705.2 L932 1701.3 L933.2 1700.4 L934.4 1697.9 L936.6 1696.4 L938.7 1695.5 L940.9 1693.2 L943 1692.1 L945.2 1690.1 L947.4 1689.9 L949.7 1688.6 L951.9 1686.9 L954.2 1684.3 L956 1683.6 L957.8 1681.6 L959.6 1679.8 L961.4 1679.3 L963.2 1676.6 L965 1676.4 L966.8 1674.5" fill="none" stroke="#1e1c1d" stroke-width="2.9" stroke-linejoin="round" stroke-linecap="butt"/>
<path d="M966.7 1674.2 L969 1672.8 L971.2 1671.2 L973.4 1670.5 L975.7 1669.1 L977.9 1667.2 L979.7 1665.7 L981.5 1664.5 L983.3 1662.3 L985 1660.8 L986.8 1659.3 L988.8 1657.6 L990.8 1656.2 L992.9 1655 L994.9 1653.9 L996.9 1652.2 L998.7 1650.2 L1000.4 1648.3 L1002.2 1646.7 L1004 1645.1 L1005.8 1644.1 L1007.3 1642 L1008.8 1641 L1010.3 1638.9 L1011.7 1637.3 L1013.2 1635.8 L1014.7 1634.4 L1016.2 1631.6 L1017.7 1630.1 L1019.2 1628.2 L1020.7 1625.6 L1022.2 1624.2 L1023.7 1621.7 L1025.1 1620.2 L1026.6 1618.8 L1028.1 1616.6 L1029.6 1615 L1031.1 1613 L1032.6 1611.9 L1033.7 1610.1 L1034.8 1607.8 L1035.9 1605.6 L1037 1604.2 L1038.2 1602.3 L1039.3 1600.1 L1040.4 1597.9 L1041.5 1596.5 L1043 1594.3 L1044.5 1592.9 L1046 1590.7 L1047.5 1589.7 L1048.9 1587.8 L1050.4 1586.1 L1051.7 1583.8 L1053 1582.2 L1054.3 1579.9 L1055.5 1578.2 L1056.8 1576 L1058.1 1573.3 L1059.4 1571.9 L1060.8 1569.8 L1062.3 1568.2 L1063.8 1566.3 L1065.3 1564 L1066.8 1562.1 L1068.3 1560.1 L1069.6 1558.2 L1070.8 1556.7 L1072.1 1554.6 L1073.4 1553.1 L1074.7 1550.5 L1075.9 1549.3 L1077.2 1546.9 L1079 1544.7 L1080.8 1543.8 L1082.6 1542.1 L1084.4 1540 L1086.1 1538.3 L1087.6 1535.9 L1089.1 1534.3 L1090.6 1532.1 L1092.1 1530.5 L1093.6 1528.6 L1095.1 1526.9 L1096.6 1525.1 L1098 1523.3 L1099.5 1522.3 L1101 1520.4 L1102.5 1518.2 L1104 1516.9 L1105.5 1514.8 L1107 1514 L1108.5 1511.5 L1110 1510.2 L1111.4 1508 L1112.9 1506.6 L1114.3 1505 L1115.6 1502.8 L1116.9 1500.5 L1118.2 1498.7 L1119.6 1496.8 L1120.9 1495.3 L1122.2 1493.3 L1123.5 1491.2" fill="none" stroke="#f4812f" stroke-width="2.9" stroke-linejoin="round" stroke-linecap="butt"/>
<path d="M966.7 1674.2 L973.4 1671.9 L982.4 1663 L991.8 1654.1 L1000.8 1644 L1010.3 1631.8 L1019.2 1618.9 L1028.1 1610 L1038.2 1596.6 L1047.1 1583.2 L1056.6 1568.2 L1065.5 1555.9 L1074.4 1547.5 L1083.9 1534.7 L1092.8 1524.6 L1102.3 1512.4 L1111.3 1503.4 L1120.2 1496.2 L1123.5 1486.7" fill="none" stroke="#f4812f" stroke-width="2.9" stroke-linejoin="round" stroke-linecap="butt"/>
<circle cx="970.7" cy="1672.8" r="2.25" fill="#2f6bbd"/>
<circle cx="979.8" cy="1665.5" r="2.25" fill="#2f6bbd"/>
<circle cx="988.9" cy="1656.8" r="2.25" fill="#2f6bbd"/>
<circle cx="998" cy="1647.1" r="2.25" fill="#2f6bbd"/>
<circle cx="1007.1" cy="1635.8" r="2.25" fill="#2f6bbd"/>
<circle cx="1016.2" cy="1623.2" r="2.25" fill="#2f6bbd"/>
<circle cx="1025.3" cy="1612.8" r="2.25" fill="#2f6bbd"/>
<circle cx="1034.4" cy="1601.6" r="2.25" fill="#2f6bbd"/>
<circle cx="1043.5" cy="1588.5" r="2.25" fill="#2f6bbd"/>
<circle cx="1052.6" cy="1574.4" r="2.25" fill="#2f6bbd"/>
<circle cx="1061.7" cy="1561.1" r="2.25" fill="#2f6bbd"/>
<circle cx="1070.8" cy="1550.9" r="2.25" fill="#2f6bbd"/>
<circle cx="1079.9" cy="1540.1" r="2.25" fill="#2f6bbd"/>
<circle cx="1089" cy="1528.9" r="2.25" fill="#2f6bbd"/>
<circle cx="1098.1" cy="1517.8" r="2.25" fill="#2f6bbd"/>
<circle cx="1107.2" cy="1507.4" r="2.25" fill="#2f6bbd"/>
<circle cx="1116.3" cy="1499.3" r="2.25" fill="#2f6bbd"/>
<path d="M966.7 1674.2 L969 1673.6 L971.2 1672 L973.4 1671.3 L975.7 1670 L977.9 1668.1 L980.1 1667.9 L982.4 1666.5 L984.6 1665.4 L986.8 1664.5 L989.1 1662.6 L991.3 1662.2 L993.5 1660.8 L995.8 1658.7 L998 1657.2 L1000.2 1656.4 L1001.7 1654.8 L1003.2 1652.3 L1004.7 1650.4 L1006.2 1648.4 L1007.7 1647.4 L1009.1 1645.3 L1010.8 1643.8 L1012.5 1641.9 L1014.2 1640.3 L1015.8 1639.6 L1017.5 1638.1 L1019.2 1636.6 L1021 1635.3 L1022.8 1633.9 L1024.5 1632.1 L1026.3 1631.1 L1028.1 1629.7 L1030.3 1628.1 L1032.6 1626.3 L1034.8 1625.1 L1037 1623.6 L1038.2 1621.1 L1039.3 1619.2 L1040.4 1616.6 L1041.5 1613.6 L1043.7 1612.6 L1046 1611 L1048.2 1610.1 L1050.4 1608 L1051.8 1606.8 L1053.2 1604.7 L1054.6 1602.1 L1056 1600.5 L1058.2 1599.5 L1060.5 1597.8 L1062.7 1596.3 L1064.9 1594.4 L1066.5 1593.4 L1068.1 1591.4 L1069.6 1590.3 L1071.2 1589 L1072.8 1587.3 L1075 1586.3 L1077.2 1584.6 L1079.4 1583.7 L1081.7 1583.1 L1083.9 1581.2 L1086.1 1580.9 L1088.4 1579.6 L1090.6 1578.5 L1092.8 1577.4 L1095.1 1577.1 L1097.3 1577.4 L1099.5 1577.5 L1101.8 1577.2 L1104.4 1576.4 L1107 1576.8 L1109.6 1575.5 L1111.8 1574.6 L1114 1572.8 L1116.3 1571.2 L1118.7 1571.2 L1121.1 1569.7 L1123.5 1569.3" fill="none" stroke="#2f6bbd" stroke-width="2.9" stroke-linejoin="round" stroke-linecap="butt"/>
<path d="M966.7 1674.2 L973.4 1673.6 L982.4 1669.7 L991.8 1663 L1000.8 1658.5 L1010.3 1654.1 L1012.5 1647.4 L1019.2 1647.4 L1028.1 1639.6 L1038.2 1631.8 L1047.1 1627.3 L1056.6 1619.5 L1065.5 1610.6 L1074.4 1603.3 L1083.9 1597.7 L1092.8 1593.3 L1102.3 1591.6 L1111.3 1588.2 L1120.2 1583.8 L1123.5 1578.2" fill="none" stroke="#2f6bbd" stroke-width="2.9" stroke-linejoin="round" stroke-linecap="butt"/>
<circle cx="970.7" cy="1673.8" r="2.25" fill="#f4812f"/>
<circle cx="979.8" cy="1670.8" r="2.25" fill="#f4812f"/>
<circle cx="988.9" cy="1665.1" r="2.25" fill="#f4812f"/>
<circle cx="998" cy="1659.9" r="2.25" fill="#f4812f"/>
<circle cx="1007.1" cy="1655.6" r="2.25" fill="#f4812f"/>
<circle cx="1016.2" cy="1647.4" r="2.25" fill="#f4812f"/>
<circle cx="1025.3" cy="1642" r="2.25" fill="#f4812f"/>
<circle cx="1034.4" cy="1634.7" r="2.25" fill="#f4812f"/>
<circle cx="1043.5" cy="1629.1" r="2.25" fill="#f4812f"/>
<circle cx="1052.6" cy="1622.7" r="2.25" fill="#f4812f"/>
<circle cx="1061.7" cy="1614.3" r="2.25" fill="#f4812f"/>
<circle cx="1070.8" cy="1606.2" r="2.25" fill="#f4812f"/>
<circle cx="1079.9" cy="1600.1" r="2.25" fill="#f4812f"/>
<circle cx="1089" cy="1595.2" r="2.25" fill="#f4812f"/>
<circle cx="1098.1" cy="1592.3" r="2.25" fill="#f4812f"/>
<circle cx="1107.2" cy="1589.8" r="2.25" fill="#f4812f"/>
<circle cx="1116.3" cy="1585.7" r="2.25" fill="#f4812f"/>
<rect x="666.8" y="1471.3" width="458.5" height="412.2" fill="none" stroke="#231f20" stroke-width="2.9"/>
<line x1="685.1" y1="1882.2" x2="685.1" y2="1880.2" stroke="#231f20" stroke-width="1.3"/>
<line x1="703.5" y1="1882.2" x2="703.5" y2="1880.2" stroke="#231f20" stroke-width="1.3"/>
<line x1="721.8" y1="1882.2" x2="721.8" y2="1880.2" stroke="#231f20" stroke-width="1.3"/>
<line x1="740.2" y1="1882.2" x2="740.2" y2="1880.2" stroke="#231f20" stroke-width="1.3"/>
<line x1="758.5" y1="1882.2" x2="758.5" y2="1878.6" stroke="#231f20" stroke-width="1.3"/>
<line x1="776.8" y1="1882.2" x2="776.8" y2="1880.2" stroke="#231f20" stroke-width="1.3"/>
<line x1="795.2" y1="1882.2" x2="795.2" y2="1880.2" stroke="#231f20" stroke-width="1.3"/>
<line x1="813.5" y1="1882.2" x2="813.5" y2="1880.2" stroke="#231f20" stroke-width="1.3"/>
<line x1="831.9" y1="1882.2" x2="831.9" y2="1880.2" stroke="#231f20" stroke-width="1.3"/>
<line x1="850.2" y1="1882.2" x2="850.2" y2="1878.6" stroke="#231f20" stroke-width="1.3"/>
<line x1="868.5" y1="1882.2" x2="868.5" y2="1880.2" stroke="#231f20" stroke-width="1.3"/>
<line x1="886.9" y1="1882.2" x2="886.9" y2="1880.2" stroke="#231f20" stroke-width="1.3"/>
<line x1="905.2" y1="1882.2" x2="905.2" y2="1880.2" stroke="#231f20" stroke-width="1.3"/>
<line x1="923.6" y1="1882.2" x2="923.6" y2="1880.2" stroke="#231f20" stroke-width="1.3"/>
<line x1="941.9" y1="1882.2" x2="941.9" y2="1878.6" stroke="#231f20" stroke-width="1.3"/>
<line x1="960.2" y1="1882.2" x2="960.2" y2="1880.2" stroke="#231f20" stroke-width="1.3"/>
<line x1="978.6" y1="1882.2" x2="978.6" y2="1880.2" stroke="#231f20" stroke-width="1.3"/>
<line x1="996.9" y1="1882.2" x2="996.9" y2="1880.2" stroke="#231f20" stroke-width="1.3"/>
<line x1="1015.3" y1="1882.2" x2="1015.3" y2="1880.2" stroke="#231f20" stroke-width="1.3"/>
<line x1="1033.6" y1="1882.2" x2="1033.6" y2="1878.6" stroke="#231f20" stroke-width="1.3"/>
<line x1="1051.9" y1="1882.2" x2="1051.9" y2="1880.2" stroke="#231f20" stroke-width="1.3"/>
<line x1="1070.3" y1="1882.2" x2="1070.3" y2="1880.2" stroke="#231f20" stroke-width="1.3"/>
<line x1="1088.6" y1="1882.2" x2="1088.6" y2="1880.2" stroke="#231f20" stroke-width="1.3"/>
<line x1="1107" y1="1882.2" x2="1107" y2="1880.2" stroke="#231f20" stroke-width="1.3"/>
<text x="685.1" y="1905.1" font-size="22" text-anchor="middle" style="" >1850</text>
<text x="775.4" y="1905.1" font-size="22" text-anchor="middle" style="" >1900</text>
<text x="867.4" y="1905.1" font-size="22" text-anchor="middle" style="" >1950</text>
<text x="958.5" y="1905.1" font-size="22" text-anchor="middle" style="" >2000</text>
<text x="1049.6" y="1905.1" font-size="22" text-anchor="middle" style="" >2050</text>
<text x="1119.7" y="1905.1" font-size="22" text-anchor="middle" style="" >2100</text>
<line x1="661.4" y1="1883.5" x2="665.6" y2="1883.5" stroke="#231f20" stroke-width="1.3"/>
<line x1="663.4" y1="1869.8" x2="665.6" y2="1869.8" stroke="#231f20" stroke-width="1.3"/>
<line x1="663.4" y1="1856" x2="665.6" y2="1856" stroke="#231f20" stroke-width="1.3"/>
<line x1="663.4" y1="1842.3" x2="665.6" y2="1842.3" stroke="#231f20" stroke-width="1.3"/>
<line x1="663.4" y1="1828.5" x2="665.6" y2="1828.5" stroke="#231f20" stroke-width="1.3"/>
<line x1="661.4" y1="1814.8" x2="665.6" y2="1814.8" stroke="#231f20" stroke-width="1.3"/>
<line x1="663.4" y1="1801.1" x2="665.6" y2="1801.1" stroke="#231f20" stroke-width="1.3"/>
<line x1="663.4" y1="1787.3" x2="665.6" y2="1787.3" stroke="#231f20" stroke-width="1.3"/>
<line x1="663.4" y1="1773.6" x2="665.6" y2="1773.6" stroke="#231f20" stroke-width="1.3"/>
<line x1="663.4" y1="1759.8" x2="665.6" y2="1759.8" stroke="#231f20" stroke-width="1.3"/>
<line x1="661.4" y1="1746.1" x2="665.6" y2="1746.1" stroke="#231f20" stroke-width="1.3"/>
<line x1="663.4" y1="1732.4" x2="665.6" y2="1732.4" stroke="#231f20" stroke-width="1.3"/>
<line x1="663.4" y1="1718.6" x2="665.6" y2="1718.6" stroke="#231f20" stroke-width="1.3"/>
<line x1="663.4" y1="1704.9" x2="665.6" y2="1704.9" stroke="#231f20" stroke-width="1.3"/>
<line x1="663.4" y1="1691.1" x2="665.6" y2="1691.1" stroke="#231f20" stroke-width="1.3"/>
<line x1="661.4" y1="1677.4" x2="665.6" y2="1677.4" stroke="#231f20" stroke-width="1.3"/>
<line x1="663.4" y1="1663.7" x2="665.6" y2="1663.7" stroke="#231f20" stroke-width="1.3"/>
<line x1="663.4" y1="1649.9" x2="665.6" y2="1649.9" stroke="#231f20" stroke-width="1.3"/>
<line x1="663.4" y1="1636.2" x2="665.6" y2="1636.2" stroke="#231f20" stroke-width="1.3"/>
<line x1="663.4" y1="1622.4" x2="665.6" y2="1622.4" stroke="#231f20" stroke-width="1.3"/>
<line x1="661.4" y1="1608.7" x2="665.6" y2="1608.7" stroke="#231f20" stroke-width="1.3"/>
<line x1="663.4" y1="1595" x2="665.6" y2="1595" stroke="#231f20" stroke-width="1.3"/>
<line x1="663.4" y1="1581.2" x2="665.6" y2="1581.2" stroke="#231f20" stroke-width="1.3"/>
<line x1="663.4" y1="1567.5" x2="665.6" y2="1567.5" stroke="#231f20" stroke-width="1.3"/>
<line x1="663.4" y1="1553.7" x2="665.6" y2="1553.7" stroke="#231f20" stroke-width="1.3"/>
<line x1="661.4" y1="1540" x2="665.6" y2="1540" stroke="#231f20" stroke-width="1.3"/>
<line x1="663.4" y1="1526.3" x2="665.6" y2="1526.3" stroke="#231f20" stroke-width="1.3"/>
<line x1="663.4" y1="1512.5" x2="665.6" y2="1512.5" stroke="#231f20" stroke-width="1.3"/>
<line x1="663.4" y1="1498.8" x2="665.6" y2="1498.8" stroke="#231f20" stroke-width="1.3"/>
<line x1="663.4" y1="1485" x2="665.6" y2="1485" stroke="#231f20" stroke-width="1.3"/>
<line x1="661.4" y1="1471.3" x2="665.6" y2="1471.3" stroke="#231f20" stroke-width="1.3"/>
<text x="630.8" y="1887.6" font-size="26" text-anchor="middle" style="" >1350</text>
<text x="630.8" y="1818.9" font-size="26" text-anchor="middle" style="" >1400</text>
<text x="630.8" y="1750.2" font-size="26" text-anchor="middle" style="" >1450</text>
<text x="630.8" y="1681.5" font-size="26" text-anchor="middle" style="" >1500</text>
<text x="630.8" y="1612.8" font-size="26" text-anchor="middle" style="" >1550</text>
<text x="630.8" y="1544.1" font-size="26" text-anchor="middle" style="" >1600</text>
<text x="630.8" y="1475.4" font-size="26" text-anchor="middle" style="" >1650</text>
<text x="684.5" y="1460.6" font-size="28.9" text-anchor="start" style="" >(k) MIROC-ES2L</text>
</g>
<g id="pl">
<path d="M1234.2 1810.4 L1247.9 1809.4 L1262.3 1810.4 L1276.6 1807.6 L1291 1804.7 L1305.4 1800.4 L1319.8 1796.1 L1334.2 1791.4 L1348.6 1786 L1362.9 1780.6 L1377.3 1777 L1391.7 1774.5 L1406.1 1771.6 L1420.5 1768 L1431.3 1760.8 L1442 1751.8 L1456.4 1742.8 L1467.2 1728.5 L1478 1719.5 L1488.8 1708.7 L1499.6 1697.9 L1514 1683.5 L1524.7 1670.9 L1533.7 1660.1" fill="none" stroke="#a9abae" stroke-width="2.9" stroke-linejoin="round" stroke-linecap="butt" stroke-dasharray="9 4"/>
<path d="M1234.2 1809.4 L1247.9 1808.6 L1262.3 1809.4 L1276.6 1809.4 L1291 1807.6 L1305.4 1806.1 L1319.8 1804.7 L1334.2 1802.9 L1348.6 1801.4 L1362.9 1798.2 L1377.3 1797.5 L1391.7 1799.3 L1406.1 1800.4 L1420.5 1800.4 L1427.7 1796.8 L1442 1792.5 L1456.4 1789.6 L1467.2 1778.8 L1478 1775.2 L1492.4 1766.2 L1506.8 1759 L1521.2 1750 L1531.9 1741" fill="none" stroke="#1e1c1d" stroke-width="2.9" stroke-linejoin="round" stroke-linecap="butt" stroke-dasharray="9 4"/>
<path d="M1234.2 1769.1 L1236.5 1769.6 L1238.8 1769.7 L1241 1770.4 L1243.3 1770.2 L1245.6 1770.1 L1247.9 1771.9 L1250.3 1769.5 L1252.7 1770.2 L1255.1 1769.4 L1257.5 1769.1 L1259.9 1770.9 L1262.3 1769 L1264.7 1769.6 L1267.1 1769.8 L1269.4 1771.4 L1271.8 1770.3 L1274.2 1770.8 L1276.6 1771.5 L1279 1769.9 L1281.4 1771.7 L1283.8 1771.4 L1286.2 1771.3 L1288.6 1769.6 L1291 1769 L1293.7 1768.7 L1296.4 1769.6 L1299.1 1770.3 L1301.8 1770 L1304 1770.1 L1306.1 1770 L1308.3 1770.5 L1310.4 1771.4 L1312.6 1771.4 L1315 1772.2 L1317.4 1772 L1319.8 1770.7 L1322.2 1771.8 L1324.6 1771.6 L1327 1771.5 L1329.4 1771.5 L1331.8 1771.1 L1334.2 1771 L1336.6 1769.8 L1339 1769.4 L1341.4 1770.6 L1343.8 1768.7 L1346.2 1769.9 L1348.6 1768.3 L1351 1769 L1353.3 1769.8 L1355.7 1768.2 L1358.1 1769.9 L1360.5 1769.2 L1362.9 1769.7 L1365.3 1770.6 L1367.7 1769.6 L1370.1 1769.4 L1372.5 1769.3 L1374.9 1768.2 L1377.3 1768.4 L1379.7 1768.2 L1382.1 1767.9 L1384.5 1769.4 L1386.9 1768.5 L1389.3 1768.3 L1391.7 1769.8 L1394.1 1769.2 L1396.5 1769.9 L1398.9 1770.1 L1401.3 1769.8 L1403.7 1768.4 L1406.1 1768.2 L1408.5 1770.4 L1410.9 1769.4 L1413.3 1769.6 L1415.7 1767.7 L1418.1 1767.7 L1420.5 1768.4 L1422.9 1769.4 L1425.3 1769.9 L1427.7 1768.1 L1430.1 1769.7 L1432.5 1767.6 L1434.9 1768 L1437.3 1767.1 L1439.6 1767.1 L1442 1767.8 L1444.4 1768.2 L1446.8 1766.1 L1449.2 1765.7 L1451.6 1767.8 L1454 1766.8 L1456.4 1767.1 L1458.8 1765.6 L1461.2 1765.2 L1463.6 1765 L1466 1763.4 L1468.4 1764 L1470.8 1761.4 L1472.9 1761.2 L1474.9 1760 L1477 1759 L1479 1758 L1481.1 1756.3 L1483.1 1757.6 L1485.2 1756.1 L1487.3 1754.2 L1489.3 1754.4 L1491.4 1752.2 L1493.4 1752.1 L1495.5 1751.2 L1497.5 1750.3 L1499.6 1750.2 L1502 1748.9 L1504.4 1746.5 L1506.8 1747.4 L1509.2 1745.6 L1511.6 1745.7 L1514 1745.5 L1515.8 1742.3 L1517.6 1740.6 L1519.4 1740.1 L1521.2 1737.6 L1523 1734.6 L1524.7 1735.3 L1526.5 1731.1 L1528.3 1729.8 L1530.1 1730.1 L1531.9 1726.2 L1533.7 1725.6" fill="none" stroke="#1e1c1d" stroke-width="2.9" stroke-linejoin="round" stroke-linecap="butt"/>
<path d="M1533.4 1726.5 L1540.6 1726 L1549.6 1718.2 L1559.1 1702 L1568 1695.8 L1577.5 1683 L1587 1672.4 L1595.9 1654.6 L1605.4 1644.5 L1614.3 1630.6 L1623.8 1616.1 L1632.7 1599.9 L1641.6 1588.2 L1651.1 1575.3 L1660 1562.5 L1669.5 1556.4 L1678.5 1544.6 L1687.4 1526.2 L1690.7 1522.3" fill="none" stroke="#f4812f" stroke-width="2.9" stroke-linejoin="round" stroke-linecap="butt"/>
<circle cx="1537.4" cy="1726.2" r="2.25" fill="#2f6bbd"/>
<circle cx="1546.5" cy="1720.9" r="2.25" fill="#2f6bbd"/>
<circle cx="1555.6" cy="1707.9" r="2.25" fill="#2f6bbd"/>
<circle cx="1564.7" cy="1698.1" r="2.25" fill="#2f6bbd"/>
<circle cx="1573.8" cy="1688" r="2.25" fill="#2f6bbd"/>
<circle cx="1582.9" cy="1677" r="2.25" fill="#2f6bbd"/>
<circle cx="1592" cy="1662.3" r="2.25" fill="#2f6bbd"/>
<circle cx="1601.1" cy="1649" r="2.25" fill="#2f6bbd"/>
<circle cx="1610.2" cy="1637" r="2.25" fill="#2f6bbd"/>
<circle cx="1619.3" cy="1622.9" r="2.25" fill="#2f6bbd"/>
<circle cx="1628.4" cy="1607.7" r="2.25" fill="#2f6bbd"/>
<circle cx="1637.5" cy="1593.6" r="2.25" fill="#2f6bbd"/>
<circle cx="1646.6" cy="1581.5" r="2.25" fill="#2f6bbd"/>
<circle cx="1655.7" cy="1568.8" r="2.25" fill="#2f6bbd"/>
<circle cx="1664.8" cy="1559.4" r="2.25" fill="#2f6bbd"/>
<circle cx="1673.9" cy="1550.6" r="2.25" fill="#2f6bbd"/>
<circle cx="1683" cy="1535.3" r="2.25" fill="#2f6bbd"/>
<path d="M1533.4 1726.5 L1535.2 1725.5 L1537 1723.3 L1538.8 1722 L1540.6 1720.7 L1542.5 1718.6 L1544.3 1717.8 L1546.1 1715.8 L1547.9 1713.9 L1549.3 1712.9 L1550.7 1710.2 L1552.1 1708.7 L1553.5 1707.5 L1554.9 1705.4 L1556.3 1703.2 L1557.7 1701.5 L1559.1 1699.6 L1560.7 1698 L1562.2 1696 L1563.8 1694.3 L1565.4 1692.9 L1567 1690.6 L1568.6 1689 L1570.2 1687.2 L1571.8 1685.6 L1573.4 1683.8 L1575 1683.1 L1576.6 1681.2 L1578.2 1679.3 L1579.8 1677.4 L1581.4 1676.3 L1582.7 1674.6 L1584 1672.5 L1585.3 1671.1 L1586.6 1668.6 L1587.9 1667 L1589.2 1664.9 L1591.4 1664.3 L1593.7 1662.8 L1595.9 1662.3 L1598.1 1660.3 L1599.5 1659.2 L1600.9 1657.1 L1602.3 1655 L1603.7 1652.7 L1605.1 1650.6 L1606.5 1649.2 L1607.9 1646.7 L1609.3 1645.4 L1610.5 1643.2 L1611.8 1640.9 L1613 1639.6 L1614.2 1637.4 L1615.5 1635.4 L1616.7 1634.2 L1618 1631.6 L1619.2 1630.5 L1620.4 1628.8 L1623.2 1628.1 L1626 1627.5 L1627.1 1625 L1628.2 1623 L1629.4 1621.1 L1630.5 1619.5 L1631.6 1616.8 L1633 1615.2 L1634.4 1613.9 L1635.8 1611.4 L1637.2 1609.5 L1638.6 1607.8 L1640 1606.7 L1641.4 1604.7 L1642.8 1602.9 L1645.5 1603.9 L1648.3 1605.2 L1649.4 1603.1 L1650.6 1601.3 L1651.7 1598.9 L1652.8 1596.6 L1653.9 1594.4 L1655 1592.1 L1657.8 1591.6 L1660.6 1591.3 L1662.1 1589.6 L1663.6 1588.3 L1665.1 1586.3 L1667.3 1584.1 L1669.5 1582 L1671.8 1580.7 L1674 1578.9 L1676.2 1577.8 L1678.5 1577.2 L1679.8 1575.1 L1681.1 1573.5 L1682.5 1571.5 L1683.8 1570 L1685.2 1568.5 L1687.9 1567.9 L1690.7 1567" fill="none" stroke="#f4812f" stroke-width="2.9" stroke-linejoin="round" stroke-linecap="butt"/>
<path d="M1533.4 1726.5 L1535.2 1725.5 L1537 1724.4 L1538.8 1722.4 L1540.6 1721.5 L1542.5 1720.7 L1544.3 1719.1 L1546.1 1717.9 L1547.9 1716.2 L1549.3 1714.3 L1550.7 1712.6 L1552.1 1710.4 L1553.5 1709.1 L1554.9 1706.5 L1556.3 1704.5 L1557.7 1703.1 L1559.1 1700.4 L1560.7 1699.2 L1562.2 1697.3 L1563.8 1696.2 L1565.4 1694.7 L1567 1693.3 L1568.6 1691.7 L1570.2 1689.7 L1572.1 1687.7 L1573.9 1686.8 L1575.8 1684.9 L1577.7 1683.5 L1579.5 1681.8 L1581.4 1680.8 L1582.9 1679 L1584.4 1677.4 L1585.8 1675.3 L1587.3 1673.4 L1588.8 1671.4 L1590.3 1669.3 L1591.9 1667.9 L1593.4 1666.2 L1595 1665.3 L1596.6 1663.6 L1598.1 1662.1 L1599.9 1660.4 L1601.7 1658.4 L1603.5 1656.8 L1605.3 1655.6 L1607 1653.7 L1608.4 1651.5 L1609.8 1649.9 L1611.2 1646.9 L1612.6 1644.8 L1614.6 1644.1 L1616.5 1642.5 L1618.5 1641.3 L1620.4 1639.3 L1622.3 1637.3 L1624.2 1635.7 L1626 1634.2 L1627.7 1632.1 L1629.4 1630.2 L1631 1628.5 L1632.7 1625.7 L1634.7 1625.4 L1636.6 1623.4 L1638.6 1622.6 L1640.5 1621.9 L1642.1 1619.6 L1643.6 1617.3 L1645.2 1615.3 L1646.8 1613.9 L1648.3 1611.7 L1650.9 1611 L1653.5 1610.5 L1656.1 1610.1 L1658.4 1609.4 L1660.6 1608.1 L1662.8 1605.8 L1665.1 1605.2 L1667.3 1605.4 L1669.5 1605.6 L1671.8 1606.2 L1674 1606.2 L1676.2 1605.5 L1678.5 1603.8 L1680.7 1603 L1682.9 1601 L1685.2 1599.8 L1687.4 1598.6 L1690.7 1599.3" fill="none" stroke="#2f6bbd" stroke-width="2.9" stroke-linejoin="round" stroke-linecap="butt"/>
<path d="M1533.4 1726.5 L1540.6 1726.5 L1549.6 1718.7 L1559.1 1707.6 L1568 1698.1 L1577.5 1692.5 L1580.3 1683 L1587 1683 L1595.9 1673 L1605.4 1669.6 L1609.3 1660.7 L1614.3 1659 L1623.8 1656.2 L1632.7 1649.5 L1641.6 1649.5 L1651.1 1644.5 L1660 1640.6 L1669.5 1638.9 L1678.5 1635.6 L1687.4 1632.2 L1690.7 1633.9" fill="none" stroke="#2f6bbd" stroke-width="2.9" stroke-linejoin="round" stroke-linecap="butt"/>
<circle cx="1537.4" cy="1726.5" r="2.25" fill="#f4812f"/>
<circle cx="1546.5" cy="1721.4" r="2.25" fill="#f4812f"/>
<circle cx="1555.6" cy="1711.6" r="2.25" fill="#f4812f"/>
<circle cx="1564.7" cy="1701.6" r="2.25" fill="#f4812f"/>
<circle cx="1573.8" cy="1694.7" r="2.25" fill="#f4812f"/>
<circle cx="1582.9" cy="1683" r="2.25" fill="#f4812f"/>
<circle cx="1592" cy="1677.3" r="2.25" fill="#f4812f"/>
<circle cx="1601.1" cy="1671.1" r="2.25" fill="#f4812f"/>
<circle cx="1610.2" cy="1660.4" r="2.25" fill="#f4812f"/>
<circle cx="1619.3" cy="1657.6" r="2.25" fill="#f4812f"/>
<circle cx="1628.4" cy="1652.8" r="2.25" fill="#f4812f"/>
<circle cx="1637.5" cy="1649.5" r="2.25" fill="#f4812f"/>
<circle cx="1646.6" cy="1646.9" r="2.25" fill="#f4812f"/>
<circle cx="1655.7" cy="1642.5" r="2.25" fill="#f4812f"/>
<circle cx="1664.8" cy="1639.8" r="2.25" fill="#f4812f"/>
<circle cx="1673.9" cy="1637.3" r="2.25" fill="#f4812f"/>
<circle cx="1683" cy="1633.9" r="2.25" fill="#f4812f"/>
<rect x="1234.4" y="1469.2" width="458.1" height="412.7" fill="none" stroke="#231f20" stroke-width="2.9"/>
<line x1="1252.7" y1="1880.6" x2="1252.7" y2="1878.6" stroke="#231f20" stroke-width="1.3"/>
<line x1="1271" y1="1880.6" x2="1271" y2="1878.6" stroke="#231f20" stroke-width="1.3"/>
<line x1="1289.4" y1="1880.6" x2="1289.4" y2="1878.6" stroke="#231f20" stroke-width="1.3"/>
<line x1="1307.7" y1="1880.6" x2="1307.7" y2="1878.6" stroke="#231f20" stroke-width="1.3"/>
<line x1="1326" y1="1880.6" x2="1326" y2="1877" stroke="#231f20" stroke-width="1.3"/>
<line x1="1344.3" y1="1880.6" x2="1344.3" y2="1878.6" stroke="#231f20" stroke-width="1.3"/>
<line x1="1362.7" y1="1880.6" x2="1362.7" y2="1878.6" stroke="#231f20" stroke-width="1.3"/>
<line x1="1381" y1="1880.6" x2="1381" y2="1878.6" stroke="#231f20" stroke-width="1.3"/>
<line x1="1399.3" y1="1880.6" x2="1399.3" y2="1878.6" stroke="#231f20" stroke-width="1.3"/>
<line x1="1417.6" y1="1880.6" x2="1417.6" y2="1877" stroke="#231f20" stroke-width="1.3"/>
<line x1="1436" y1="1880.6" x2="1436" y2="1878.6" stroke="#231f20" stroke-width="1.3"/>
<line x1="1454.3" y1="1880.6" x2="1454.3" y2="1878.6" stroke="#231f20" stroke-width="1.3"/>
<line x1="1472.6" y1="1880.6" x2="1472.6" y2="1878.6" stroke="#231f20" stroke-width="1.3"/>
<line x1="1490.9" y1="1880.6" x2="1490.9" y2="1878.6" stroke="#231f20" stroke-width="1.3"/>
<line x1="1509.3" y1="1880.6" x2="1509.3" y2="1877" stroke="#231f20" stroke-width="1.3"/>
<line x1="1527.6" y1="1880.6" x2="1527.6" y2="1878.6" stroke="#231f20" stroke-width="1.3"/>
<line x1="1545.9" y1="1880.6" x2="1545.9" y2="1878.6" stroke="#231f20" stroke-width="1.3"/>
<line x1="1564.2" y1="1880.6" x2="1564.2" y2="1878.6" stroke="#231f20" stroke-width="1.3"/>
<line x1="1582.6" y1="1880.6" x2="1582.6" y2="1878.6" stroke="#231f20" stroke-width="1.3"/>
<line x1="1600.9" y1="1880.6" x2="1600.9" y2="1877" stroke="#231f20" stroke-width="1.3"/>
<line x1="1619.2" y1="1880.6" x2="1619.2" y2="1878.6" stroke="#231f20" stroke-width="1.3"/>
<line x1="1637.5" y1="1880.6" x2="1637.5" y2="1878.6" stroke="#231f20" stroke-width="1.3"/>
<line x1="1655.9" y1="1880.6" x2="1655.9" y2="1878.6" stroke="#231f20" stroke-width="1.3"/>
<line x1="1674.2" y1="1880.6" x2="1674.2" y2="1878.6" stroke="#231f20" stroke-width="1.3"/>
<text x="1252.7" y="1903.5" font-size="22" text-anchor="middle" style="" >1850</text>
<text x="1343" y="1903.5" font-size="22" text-anchor="middle" style="" >1900</text>
<text x="1435" y="1903.5" font-size="22" text-anchor="middle" style="" >1950</text>
<text x="1526.1" y="1903.5" font-size="22" text-anchor="middle" style="" >2000</text>
<text x="1617.2" y="1903.5" font-size="22" text-anchor="middle" style="" >2050</text>
<text x="1687.3" y="1903.5" font-size="22" text-anchor="middle" style="" >2100</text>
<line x1="1229" y1="1881.9" x2="1233.2" y2="1881.9" stroke="#231f20" stroke-width="1.3"/>
<line x1="1231" y1="1865.4" x2="1233.2" y2="1865.4" stroke="#231f20" stroke-width="1.3"/>
<line x1="1231" y1="1848.9" x2="1233.2" y2="1848.9" stroke="#231f20" stroke-width="1.3"/>
<line x1="1231" y1="1832.4" x2="1233.2" y2="1832.4" stroke="#231f20" stroke-width="1.3"/>
<line x1="1231" y1="1815.9" x2="1233.2" y2="1815.9" stroke="#231f20" stroke-width="1.3"/>
<line x1="1229" y1="1799.4" x2="1233.2" y2="1799.4" stroke="#231f20" stroke-width="1.3"/>
<line x1="1231" y1="1782.9" x2="1233.2" y2="1782.9" stroke="#231f20" stroke-width="1.3"/>
<line x1="1231" y1="1766.3" x2="1233.2" y2="1766.3" stroke="#231f20" stroke-width="1.3"/>
<line x1="1231" y1="1749.8" x2="1233.2" y2="1749.8" stroke="#231f20" stroke-width="1.3"/>
<line x1="1231" y1="1733.3" x2="1233.2" y2="1733.3" stroke="#231f20" stroke-width="1.3"/>
<line x1="1229" y1="1716.8" x2="1233.2" y2="1716.8" stroke="#231f20" stroke-width="1.3"/>
<line x1="1231" y1="1700.3" x2="1233.2" y2="1700.3" stroke="#231f20" stroke-width="1.3"/>
<line x1="1231" y1="1683.8" x2="1233.2" y2="1683.8" stroke="#231f20" stroke-width="1.3"/>
<line x1="1231" y1="1667.3" x2="1233.2" y2="1667.3" stroke="#231f20" stroke-width="1.3"/>
<line x1="1231" y1="1650.8" x2="1233.2" y2="1650.8" stroke="#231f20" stroke-width="1.3"/>
<line x1="1229" y1="1634.3" x2="1233.2" y2="1634.3" stroke="#231f20" stroke-width="1.3"/>
<line x1="1231" y1="1617.8" x2="1233.2" y2="1617.8" stroke="#231f20" stroke-width="1.3"/>
<line x1="1231" y1="1601.3" x2="1233.2" y2="1601.3" stroke="#231f20" stroke-width="1.3"/>
<line x1="1231" y1="1584.8" x2="1233.2" y2="1584.8" stroke="#231f20" stroke-width="1.3"/>
<line x1="1231" y1="1568.2" x2="1233.2" y2="1568.2" stroke="#231f20" stroke-width="1.3"/>
<line x1="1229" y1="1551.7" x2="1233.2" y2="1551.7" stroke="#231f20" stroke-width="1.3"/>
<line x1="1231" y1="1535.2" x2="1233.2" y2="1535.2" stroke="#231f20" stroke-width="1.3"/>
<line x1="1231" y1="1518.7" x2="1233.2" y2="1518.7" stroke="#231f20" stroke-width="1.3"/>
<line x1="1231" y1="1502.2" x2="1233.2" y2="1502.2" stroke="#231f20" stroke-width="1.3"/>
<line x1="1231" y1="1485.7" x2="1233.2" y2="1485.7" stroke="#231f20" stroke-width="1.3"/>
<line x1="1229" y1="1469.2" x2="1233.2" y2="1469.2" stroke="#231f20" stroke-width="1.3"/>
<text x="1194" y="1886" font-size="26" text-anchor="middle" style="" >900</text>
<text x="1194" y="1803.5" font-size="26" text-anchor="middle" style="" >950</text>
<text x="1197.5" y="1720.9" font-size="26" text-anchor="middle" style="" >1000</text>
<text x="1197.5" y="1638.4" font-size="26" text-anchor="middle" style="" >1050</text>
<text x="1197.5" y="1555.8" font-size="26" text-anchor="middle" style="" >1100</text>
<text x="1197.5" y="1473.3" font-size="26" text-anchor="middle" style="" >1150</text>
<text x="1245.4" y="1459.5" font-size="28.9" text-anchor="start" style="" >(l) MPI-ESM1-2-LR</text>
</g>
<g id="pm">
<path d="M105.4 2247.6 L107.9 2262 L113.3 2269.2 L118.7 2258.4 L124.1 2269.2 L126.6 2274.6 L129.4 2260.2 L134.8 2258.4 L138.4 2262 L143.8 2256.6 L149.2 2260.2 L152.8 2269.2 L156.4 2262 L161.8 2267.4 L165.4 2260.2 L167.2 2247.6 L172.6 2244 L176.2 2247.6 L179.8 2263.8 L185.2 2253 L190.6 2258.4 L194.2 2253 L199.6 2272.8 L206.8 2262 L212.2 2272.8 L217.5 2276.4 L222.9 2272.8 L226.5 2287.2 L231.9 2298 L235.5 2292.6 L239.1 2283.6 L244.5 2287.2 L251.7 2285.4 L257.1 2294.4 L260.7 2281.8 L266.1 2301.5 L271.5 2302.6 L276.9 2278.2 L280.5 2290.8 L287.7 2294.4 L293.1 2310.5 L296.7 2306.9 L302 2289 L305.6 2292.6 L310 2306.9 L312.8 2281.8 L318.2 2274.6 L323.6 2271 L327.9 2281.8 L331.5 2280 L336.2 2262 L341.6 2249.4 L347 2235 L352.4 2227.8 L357.8 2215.2 L363.2 2209.9 L366.8 2191.9 L372.2 2172.1 L377.6 2137.9 L384.7 2130.7 L388.3 2102 L395.5 2073.2 L399.1 2076.8 L402.7 2048 L405.6 2039.1" fill="none" stroke="#1e1c1d" stroke-width="2.9" stroke-linejoin="round" stroke-linecap="butt"/>
<rect x="105.6" y="1959.7" width="458.2" height="412.4" fill="none" stroke="#231f20" stroke-width="2.9"/>
<line x1="123.9" y1="2370.8" x2="123.9" y2="2368.8" stroke="#231f20" stroke-width="1.3"/>
<line x1="142.3" y1="2370.8" x2="142.3" y2="2368.8" stroke="#231f20" stroke-width="1.3"/>
<line x1="160.6" y1="2370.8" x2="160.6" y2="2368.8" stroke="#231f20" stroke-width="1.3"/>
<line x1="178.9" y1="2370.8" x2="178.9" y2="2368.8" stroke="#231f20" stroke-width="1.3"/>
<line x1="197.2" y1="2370.8" x2="197.2" y2="2367.2" stroke="#231f20" stroke-width="1.3"/>
<line x1="215.6" y1="2370.8" x2="215.6" y2="2368.8" stroke="#231f20" stroke-width="1.3"/>
<line x1="233.9" y1="2370.8" x2="233.9" y2="2368.8" stroke="#231f20" stroke-width="1.3"/>
<line x1="252.2" y1="2370.8" x2="252.2" y2="2368.8" stroke="#231f20" stroke-width="1.3"/>
<line x1="270.6" y1="2370.8" x2="270.6" y2="2368.8" stroke="#231f20" stroke-width="1.3"/>
<line x1="288.9" y1="2370.8" x2="288.9" y2="2367.2" stroke="#231f20" stroke-width="1.3"/>
<line x1="307.2" y1="2370.8" x2="307.2" y2="2368.8" stroke="#231f20" stroke-width="1.3"/>
<line x1="325.5" y1="2370.8" x2="325.5" y2="2368.8" stroke="#231f20" stroke-width="1.3"/>
<line x1="343.9" y1="2370.8" x2="343.9" y2="2368.8" stroke="#231f20" stroke-width="1.3"/>
<line x1="362.2" y1="2370.8" x2="362.2" y2="2368.8" stroke="#231f20" stroke-width="1.3"/>
<line x1="380.5" y1="2370.8" x2="380.5" y2="2367.2" stroke="#231f20" stroke-width="1.3"/>
<line x1="398.8" y1="2370.8" x2="398.8" y2="2368.8" stroke="#231f20" stroke-width="1.3"/>
<line x1="417.2" y1="2370.8" x2="417.2" y2="2368.8" stroke="#231f20" stroke-width="1.3"/>
<line x1="435.5" y1="2370.8" x2="435.5" y2="2368.8" stroke="#231f20" stroke-width="1.3"/>
<line x1="453.8" y1="2370.8" x2="453.8" y2="2368.8" stroke="#231f20" stroke-width="1.3"/>
<line x1="472.2" y1="2370.8" x2="472.2" y2="2367.2" stroke="#231f20" stroke-width="1.3"/>
<line x1="490.5" y1="2370.8" x2="490.5" y2="2368.8" stroke="#231f20" stroke-width="1.3"/>
<line x1="508.8" y1="2370.8" x2="508.8" y2="2368.8" stroke="#231f20" stroke-width="1.3"/>
<line x1="527.1" y1="2370.8" x2="527.1" y2="2368.8" stroke="#231f20" stroke-width="1.3"/>
<line x1="545.5" y1="2370.8" x2="545.5" y2="2368.8" stroke="#231f20" stroke-width="1.3"/>
<text x="126.7" y="2394.2" font-size="25.6" text-anchor="middle" style="" >1850</text>
<text x="218.1" y="2394.2" font-size="25.6" text-anchor="middle" style="" >1900</text>
<text x="309.7" y="2394.2" font-size="25.6" text-anchor="middle" style="" >1950</text>
<text x="401" y="2394.2" font-size="25.6" text-anchor="middle" style="" >2000</text>
<text x="492.2" y="2394.2" font-size="25.6" text-anchor="middle" style="" >2050</text>
<text x="562" y="2394.2" font-size="25.6" text-anchor="middle" style="" >2100</text>
<line x1="100.2" y1="2372.1" x2="104.4" y2="2372.1" stroke="#231f20" stroke-width="1.3"/>
<line x1="102.2" y1="2355.6" x2="104.4" y2="2355.6" stroke="#231f20" stroke-width="1.3"/>
<line x1="102.2" y1="2339.1" x2="104.4" y2="2339.1" stroke="#231f20" stroke-width="1.3"/>
<line x1="102.2" y1="2322.6" x2="104.4" y2="2322.6" stroke="#231f20" stroke-width="1.3"/>
<line x1="102.2" y1="2306.1" x2="104.4" y2="2306.1" stroke="#231f20" stroke-width="1.3"/>
<line x1="100.2" y1="2289.6" x2="104.4" y2="2289.6" stroke="#231f20" stroke-width="1.3"/>
<line x1="102.2" y1="2273.1" x2="104.4" y2="2273.1" stroke="#231f20" stroke-width="1.3"/>
<line x1="102.2" y1="2256.6" x2="104.4" y2="2256.6" stroke="#231f20" stroke-width="1.3"/>
<line x1="102.2" y1="2240.1" x2="104.4" y2="2240.1" stroke="#231f20" stroke-width="1.3"/>
<line x1="102.2" y1="2223.6" x2="104.4" y2="2223.6" stroke="#231f20" stroke-width="1.3"/>
<line x1="100.2" y1="2207.1" x2="104.4" y2="2207.1" stroke="#231f20" stroke-width="1.3"/>
<line x1="102.2" y1="2190.6" x2="104.4" y2="2190.6" stroke="#231f20" stroke-width="1.3"/>
<line x1="102.2" y1="2174.1" x2="104.4" y2="2174.1" stroke="#231f20" stroke-width="1.3"/>
<line x1="102.2" y1="2157.7" x2="104.4" y2="2157.7" stroke="#231f20" stroke-width="1.3"/>
<line x1="102.2" y1="2141.2" x2="104.4" y2="2141.2" stroke="#231f20" stroke-width="1.3"/>
<line x1="100.2" y1="2124.7" x2="104.4" y2="2124.7" stroke="#231f20" stroke-width="1.3"/>
<line x1="102.2" y1="2108.2" x2="104.4" y2="2108.2" stroke="#231f20" stroke-width="1.3"/>
<line x1="102.2" y1="2091.7" x2="104.4" y2="2091.7" stroke="#231f20" stroke-width="1.3"/>
<line x1="102.2" y1="2075.2" x2="104.4" y2="2075.2" stroke="#231f20" stroke-width="1.3"/>
<line x1="102.2" y1="2058.7" x2="104.4" y2="2058.7" stroke="#231f20" stroke-width="1.3"/>
<line x1="100.2" y1="2042.2" x2="104.4" y2="2042.2" stroke="#231f20" stroke-width="1.3"/>
<line x1="102.2" y1="2025.7" x2="104.4" y2="2025.7" stroke="#231f20" stroke-width="1.3"/>
<line x1="102.2" y1="2009.2" x2="104.4" y2="2009.2" stroke="#231f20" stroke-width="1.3"/>
<line x1="102.2" y1="1992.7" x2="104.4" y2="1992.7" stroke="#231f20" stroke-width="1.3"/>
<line x1="102.2" y1="1976.2" x2="104.4" y2="1976.2" stroke="#231f20" stroke-width="1.3"/>
<line x1="100.2" y1="1959.7" x2="104.4" y2="1959.7" stroke="#231f20" stroke-width="1.3"/>
<text x="69.8" y="2376.2" font-size="26" text-anchor="middle" style="" >1200</text>
<text x="69.8" y="2293.7" font-size="26" text-anchor="middle" style="" >1210</text>
<text x="69.8" y="2211.2" font-size="26" text-anchor="middle" style="" >1220</text>
<text x="69.8" y="2128.8" font-size="26" text-anchor="middle" style="" >1230</text>
<text x="69.8" y="2046.3" font-size="26" text-anchor="middle" style="" >1240</text>
<text x="69.8" y="1963.8" font-size="26" text-anchor="middle" style="" >1250</text>
<text x="124.8" y="1948.1" font-size="28.9" text-anchor="start" style="" >(m) MRI-ESM2-0</text>
</g>
<g id="pn">
<path d="M670.1 2173.9 L672.2 2175 L674.3 2175.9 L676.4 2177.2 L678.5 2178.9 L680.6 2179.8 L682.7 2181.2 L684.5 2182.7 L686.3 2183.9 L688.1 2185.7 L689.9 2187.5 L691.7 2189.1 L693.5 2191.7 L695.3 2192.8 L697.1 2193.9 L698.9 2195.6 L700.7 2197.2 L702.5 2198.6 L704.3 2200.3 L706.1 2201 L707.9 2203 L709.9 2204.1 L712 2205.3 L714 2205.9 L716.1 2208 L718.1 2208.5 L720.2 2211 L722.3 2211.2 L724.3 2213.2 L726.4 2213.5 L728.4 2215.1 L730.5 2215.7 L732.5 2216.3 L734.6 2218.3 L736.6 2218.9 L738.7 2220.4 L740.7 2221.3 L742.8 2222.5 L744.9 2222.5 L746.9 2224.1 L749 2225.1 L751 2225.7 L753.4 2226.9 L755.8 2227.2 L758.2 2228 L760.6 2228 L763 2229.6 L765.4 2229.1 L767.8 2231 L770.2 2230.9 L772.6 2232.6 L775 2232.4 L777.4 2233.7 L779.8 2233.8 L781.8 2235.1 L783.9 2236.4 L786 2236.5 L788 2237.9 L790.1 2239 L792.1 2239.3 L794.2 2240.2 L796.6 2241.7 L799 2242.8 L801.4 2243.2 L803.8 2243.5 L806.2 2245 L808.6 2246.2 L811 2246.7 L813.3 2247.6 L815.7 2248.6 L818.1 2249.4 L820.5 2250.7 L822.9 2251.4 L825 2252.7 L827 2253.7 L829.1 2254.6 L831.2 2255.3 L833.2 2256.2 L835.3 2257.1 L837.3 2258.2 L839.7 2258.9 L842.1 2260.5 L844.5 2261 L846.9 2261.4 L849.3 2263.2 L851.7 2263.9 L854.1 2264.5 L856.5 2264.6 L858.9 2265.4 L861.3 2266 L863.7 2266.5 L866.1 2267.2 L868.5 2266.8 L870.9 2266.7 L873.3 2266.7 L875.7 2266.4 L878.1 2266.4 L880.5 2265.5 L882.9 2265.1 L885.3 2264.9 L887.7 2264.9 L890.1 2263.9 L892.5 2263.2 L894.9 2262.8 L897.3 2262.9 L899.6 2262.1 L902 2261.3 L904.4 2261.5 L906.8 2260.4 L909.2 2260.4 L911.6 2259.4 L914 2259 L916.4 2258.6 L918.8 2258.1 L921.2 2257.2 L923.6 2256.2 L926 2255.6 L928.4 2255.1 L930.8 2254 L933.2 2252.4 L935.6 2251.5 L938 2251.2 L940.4 2251 L942.8 2250 L945.2 2249.2 L947.6 2248.3 L950 2247.7 L952.4 2248 L954.6 2247.1 L956.9 2246.2 L959.1 2245.2 L961.4 2245 L963.6 2243.3 L965.9 2243.6 L968.1 2242.4 L970.4 2241.5" fill="none" stroke="#c8c9cb" stroke-width="2.9" stroke-linejoin="round" stroke-linecap="butt"/>
<path d="M670.1 2173.9 L672.4 2174.7 L674.7 2174.3 L677.1 2175.2 L679.4 2175.1 L681.7 2174.9 L684 2175 L686.3 2175.8 L688.7 2175.8 L691.1 2176 L693.5 2176.7 L695.9 2176 L698.3 2176.9 L700.7 2176.8 L703.1 2176.5 L705.5 2177.2 L707.9 2177.9 L710.3 2177.4 L712.7 2178 L715.1 2177.4 L717.5 2177.7 L719.9 2177 L722.3 2177.2 L724.7 2177 L727.1 2177 L729.4 2177.8 L731.8 2178.4 L734.2 2178.8 L736.6 2178.7 L739 2179.1 L741.4 2179.4 L743.8 2180.6 L746.2 2181.1 L748.6 2181 L751 2180.6 L753.4 2181.2 L755.8 2181.1 L758.2 2181.7 L760.6 2181.7 L763 2181.9 L765.4 2182.5 L767.8 2182 L770.2 2183.1 L772.6 2183 L775 2183 L777.4 2182.7 L779.8 2183.9 L782.2 2183.2 L784.6 2183.9 L787 2184.5 L789.4 2184.2 L791.8 2183.9 L794.2 2184.5 L796.6 2184.4 L799 2185.4 L801.4 2184.9 L803.8 2185.5 L806.2 2185.8 L808.6 2185.6 L811 2186.4 L813.3 2186.4 L815.7 2186.6 L818.1 2186.7 L820.5 2187.6 L822.9 2187.5 L825.3 2187.9 L827.7 2187.6 L830.1 2188.3 L832.5 2188.6 L834.9 2188.3 L837.3 2189.3 L839.7 2189.4 L842.1 2189.5 L844.5 2190.1 L846.9 2190.3 L849.3 2191.1 L851.7 2190.4 L854.1 2191.2 L856.5 2192.1 L858.9 2191.6 L861.6 2192.6 L864.3 2192.3 L867 2192.8 L869.7 2193.2 L871.8 2193 L874 2192.1 L876.2 2192.6 L878.3 2191.1 L880.5 2191.1 L882.9 2190.7 L885.3 2190.6 L887.7 2190.2 L890.1 2190 L892.5 2189.9 L894.9 2188.7 L896.9 2187.9 L899 2187.4 L901 2185.8 L903.1 2185 L905.1 2185 L907.2 2183.4 L909.2 2182.3 L911.3 2182 L913.3 2179.6 L915.4 2178.7 L917.5 2177.5 L919.5 2175.9 L921.6 2174.6 L923.6 2173.4 L925.7 2172.3 L927.7 2170.9 L929.8 2169.9 L931.8 2169.5 L933.9 2168.5 L935.9 2168.2 L938 2166.4 L940.4 2166.2 L942.8 2165.4 L945.2 2164.2 L947.6 2163.2 L950 2162.8 L952.4 2160.8 L954.5 2160.4 L956.7 2158.6 L958.9 2157.3 L961 2155.1 L963.2 2153.5 L965.6 2153.3 L968 2151.2 L970.4 2150.5" fill="none" stroke="#1e1c1d" stroke-width="2.9" stroke-linejoin="round" stroke-linecap="butt"/>
<path d="M970.4 2150.5 L972.5 2149.7 L974.7 2148.2 L976.8 2147.1 L979 2146.2 L981.2 2145.5 L983 2143.5 L984.7 2142.5 L986.5 2140.8 L988.3 2138.9 L990.1 2137.2 L991.9 2135.8 L993.7 2133.6 L995.5 2132.6 L997.3 2131.2 L999.1 2129.1 L1000.9 2128 L1002.7 2126.1 L1004.5 2125.1 L1006.3 2122.9 L1008.1 2121.5 L1009.9 2120.3 L1011.5 2117.9 L1013.1 2116.9 L1014.7 2115.1 L1016.3 2113.8 L1017.9 2112 L1019.5 2110 L1021.1 2109.1 L1022.7 2107.3 L1024.3 2105.7 L1025.9 2104.1 L1027.5 2102 L1029.1 2100.6 L1030.7 2098.7 L1032.3 2097.4 L1033.9 2095.5 L1035.5 2094 L1037.1 2092.6 L1038.7 2091.5 L1040.3 2089.7 L1041.9 2088.1 L1043.5 2086.1 L1045.1 2085.1 L1046.7 2083.2 L1048.3 2081.2 L1049.9 2080.3 L1051.5 2078.3 L1053.1 2076.5 L1054.7 2074.9 L1056.3 2074 L1057.9 2072.5 L1059.5 2070.4 L1061.1 2068.9 L1062.7 2067.2 L1064.3 2065.7 L1065.9 2064.3 L1067.5 2062.8 L1069.2 2060.8 L1071 2059 L1072.8 2057.5 L1074.6 2055.8 L1076.4 2054.2 L1078.2 2053.1 L1080 2051.8 L1081.8 2049.8 L1083.4 2047.9 L1085 2046.6 L1086.6 2045 L1088.2 2043.4 L1089.8 2042.2 L1091.4 2040.3 L1093 2038.8 L1094.6 2036.8 L1096.2 2035.6 L1098.3 2034.8 L1100.3 2033.7 L1102.4 2032.4 L1104.4 2031.7 L1106.5 2030.1 L1108.5 2029.3 L1110.6 2028 L1112.6 2027.3 L1114.6 2025.8 L1116.7 2025 L1118.7 2024.1 L1120.7 2023.1 L1122.7 2021.7 L1124.8 2020.5 L1126.8 2019.3" fill="none" stroke="#2f6bbd" stroke-width="2.9" stroke-linejoin="round" stroke-linecap="butt"/>
<path d="M970.4 2150.5 L972.5 2149.8 L974.7 2149.1 L976.8 2148.4 L979 2147.2 L981.2 2147 L983.2 2145.5 L985.3 2144.8 L987.3 2143.6 L989.4 2141.5 L991.4 2140.5 L993.5 2139.6 L995.5 2137.5 L997.3 2136.6 L999.1 2134.3 L1000.9 2133.3 L1002.7 2131.7 L1004.5 2129.7 L1006.3 2128.9 L1008.1 2126.8 L1009.9 2125.5 L1011.7 2124 L1013.5 2122.5 L1015.3 2120.4 L1017.1 2119.2 L1018.9 2117.6 L1020.7 2115.5 L1022.5 2114.3 L1024.3 2113 L1025.9 2110.6 L1027.5 2108.8 L1029.1 2107.8 L1030.7 2105.2 L1032.3 2104.1 L1033.9 2101.6 L1035.5 2100.5 L1037.1 2098.6 L1038.7 2096.9 L1040.3 2094.4 L1041.9 2093.5 L1043.5 2091.5 L1045.1 2089.4 L1046.7 2088.1 L1048.3 2086.6 L1049.9 2084.9 L1051.5 2083.2 L1053.1 2080.9 L1054.9 2079.5 L1056.7 2077.9 L1058.5 2076.4 L1060.3 2074.8 L1062.1 2072.5 L1063.9 2071.4 L1065.7 2069.3 L1067.5 2067.6 L1069.1 2066.3 L1070.6 2064.3 L1072.2 2063.3 L1073.8 2061.4 L1075.4 2060.1 L1077 2058.6 L1078.6 2056.2 L1080.2 2055.4 L1081.8 2053.1 L1083.6 2052.3 L1085.4 2050 L1087.2 2048.4 L1089 2047.3 L1090.8 2045.9 L1092.6 2044.3 L1094.4 2042.8 L1096.2 2040.9 L1098.3 2040.2 L1100.3 2038.8 L1102.4 2037.7 L1104.4 2036.3 L1106.5 2036 L1108.5 2034.4 L1110.6 2033.6 L1112.6 2032.8 L1114.6 2031.2 L1116.7 2030.4 L1118.7 2029.5 L1120.7 2027.7 L1122.7 2027.1 L1124.8 2026.3 L1126.8 2024.7" fill="none" stroke="#f4812f" stroke-width="2.9" stroke-linejoin="round" stroke-linecap="butt"/>
<rect x="669.9" y="1957.6" width="458.1" height="412.8" fill="none" stroke="#231f20" stroke-width="2.9"/>
<line x1="688.2" y1="2369.1" x2="688.2" y2="2367.1" stroke="#231f20" stroke-width="1.3"/>
<line x1="706.5" y1="2369.1" x2="706.5" y2="2367.1" stroke="#231f20" stroke-width="1.3"/>
<line x1="724.9" y1="2369.1" x2="724.9" y2="2367.1" stroke="#231f20" stroke-width="1.3"/>
<line x1="743.2" y1="2369.1" x2="743.2" y2="2367.1" stroke="#231f20" stroke-width="1.3"/>
<line x1="761.5" y1="2369.1" x2="761.5" y2="2365.5" stroke="#231f20" stroke-width="1.3"/>
<line x1="779.8" y1="2369.1" x2="779.8" y2="2367.1" stroke="#231f20" stroke-width="1.3"/>
<line x1="798.2" y1="2369.1" x2="798.2" y2="2367.1" stroke="#231f20" stroke-width="1.3"/>
<line x1="816.5" y1="2369.1" x2="816.5" y2="2367.1" stroke="#231f20" stroke-width="1.3"/>
<line x1="834.8" y1="2369.1" x2="834.8" y2="2367.1" stroke="#231f20" stroke-width="1.3"/>
<line x1="853.1" y1="2369.1" x2="853.1" y2="2365.5" stroke="#231f20" stroke-width="1.3"/>
<line x1="871.5" y1="2369.1" x2="871.5" y2="2367.1" stroke="#231f20" stroke-width="1.3"/>
<line x1="889.8" y1="2369.1" x2="889.8" y2="2367.1" stroke="#231f20" stroke-width="1.3"/>
<line x1="908.1" y1="2369.1" x2="908.1" y2="2367.1" stroke="#231f20" stroke-width="1.3"/>
<line x1="926.4" y1="2369.1" x2="926.4" y2="2367.1" stroke="#231f20" stroke-width="1.3"/>
<line x1="944.8" y1="2369.1" x2="944.8" y2="2365.5" stroke="#231f20" stroke-width="1.3"/>
<line x1="963.1" y1="2369.1" x2="963.1" y2="2367.1" stroke="#231f20" stroke-width="1.3"/>
<line x1="981.4" y1="2369.1" x2="981.4" y2="2367.1" stroke="#231f20" stroke-width="1.3"/>
<line x1="999.7" y1="2369.1" x2="999.7" y2="2367.1" stroke="#231f20" stroke-width="1.3"/>
<line x1="1018.1" y1="2369.1" x2="1018.1" y2="2367.1" stroke="#231f20" stroke-width="1.3"/>
<line x1="1036.4" y1="2369.1" x2="1036.4" y2="2365.5" stroke="#231f20" stroke-width="1.3"/>
<line x1="1054.7" y1="2369.1" x2="1054.7" y2="2367.1" stroke="#231f20" stroke-width="1.3"/>
<line x1="1073" y1="2369.1" x2="1073" y2="2367.1" stroke="#231f20" stroke-width="1.3"/>
<line x1="1091.4" y1="2369.1" x2="1091.4" y2="2367.1" stroke="#231f20" stroke-width="1.3"/>
<line x1="1109.7" y1="2369.1" x2="1109.7" y2="2367.1" stroke="#231f20" stroke-width="1.3"/>
<text x="684.3" y="2395.2" font-size="25.6" text-anchor="middle" style="" >1850</text>
<text x="775.6" y="2395.2" font-size="25.6" text-anchor="middle" style="" >1900</text>
<text x="867.4" y="2395.2" font-size="25.6" text-anchor="middle" style="" >1950</text>
<text x="958.1" y="2395.2" font-size="25.6" text-anchor="middle" style="" >2000</text>
<text x="1049.7" y="2395.2" font-size="25.6" text-anchor="middle" style="" >2050</text>
<text x="1126" y="2395.2" font-size="25.6" text-anchor="middle" style="" >2100</text>
<line x1="664.5" y1="2370.4" x2="668.7" y2="2370.4" stroke="#231f20" stroke-width="1.3"/>
<line x1="666.5" y1="2349.8" x2="668.7" y2="2349.8" stroke="#231f20" stroke-width="1.3"/>
<line x1="666.5" y1="2329.1" x2="668.7" y2="2329.1" stroke="#231f20" stroke-width="1.3"/>
<line x1="666.5" y1="2308.5" x2="668.7" y2="2308.5" stroke="#231f20" stroke-width="1.3"/>
<line x1="666.5" y1="2287.8" x2="668.7" y2="2287.8" stroke="#231f20" stroke-width="1.3"/>
<line x1="664.5" y1="2267.2" x2="668.7" y2="2267.2" stroke="#231f20" stroke-width="1.3"/>
<line x1="666.5" y1="2246.6" x2="668.7" y2="2246.6" stroke="#231f20" stroke-width="1.3"/>
<line x1="666.5" y1="2225.9" x2="668.7" y2="2225.9" stroke="#231f20" stroke-width="1.3"/>
<line x1="666.5" y1="2205.3" x2="668.7" y2="2205.3" stroke="#231f20" stroke-width="1.3"/>
<line x1="666.5" y1="2184.6" x2="668.7" y2="2184.6" stroke="#231f20" stroke-width="1.3"/>
<line x1="664.5" y1="2164" x2="668.7" y2="2164" stroke="#231f20" stroke-width="1.3"/>
<line x1="666.5" y1="2143.4" x2="668.7" y2="2143.4" stroke="#231f20" stroke-width="1.3"/>
<line x1="666.5" y1="2122.7" x2="668.7" y2="2122.7" stroke="#231f20" stroke-width="1.3"/>
<line x1="666.5" y1="2102.1" x2="668.7" y2="2102.1" stroke="#231f20" stroke-width="1.3"/>
<line x1="666.5" y1="2081.4" x2="668.7" y2="2081.4" stroke="#231f20" stroke-width="1.3"/>
<line x1="664.5" y1="2060.8" x2="668.7" y2="2060.8" stroke="#231f20" stroke-width="1.3"/>
<line x1="666.5" y1="2040.2" x2="668.7" y2="2040.2" stroke="#231f20" stroke-width="1.3"/>
<line x1="666.5" y1="2019.5" x2="668.7" y2="2019.5" stroke="#231f20" stroke-width="1.3"/>
<line x1="666.5" y1="1998.9" x2="668.7" y2="1998.9" stroke="#231f20" stroke-width="1.3"/>
<line x1="666.5" y1="1978.2" x2="668.7" y2="1978.2" stroke="#231f20" stroke-width="1.3"/>
<line x1="664.5" y1="1957.6" x2="668.7" y2="1957.6" stroke="#231f20" stroke-width="1.3"/>
<text x="630.2" y="2374.5" font-size="26" text-anchor="middle" style="" >2450</text>
<text x="630.2" y="2271.3" font-size="26" text-anchor="middle" style="" >2500</text>
<text x="630.2" y="2168.1" font-size="26" text-anchor="middle" style="" >2550</text>
<text x="630.2" y="2064.9" font-size="26" text-anchor="middle" style="" >2600</text>
<text x="630.2" y="1961.7" font-size="26" text-anchor="middle" style="" >2650</text>
<text x="684.5" y="1948.1" font-size="28.9" text-anchor="start" style="" >(n) NorESM2-LM</text>
</g>
<g id="po">
<path d="M1235.3 2119.2 L1237.8 2120.3 L1240.3 2119.2 L1242.8 2122.1 L1245.4 2120.6 L1247.9 2121.8 L1250.3 2123.8 L1252.7 2123.7 L1255.1 2122.3 L1257.5 2124.1 L1259.9 2123.3 L1262.3 2125.1 L1264.4 2126 L1266.6 2127.8 L1268.7 2128.3 L1270.9 2127.6 L1273 2128.6 L1275.2 2128.1 L1277.4 2125.8 L1279.5 2125.7 L1281.7 2124.7 L1283.8 2124.4 L1286.2 2123.2 L1288.6 2122.2 L1291 2120.3 L1293.4 2121.5 L1295.8 2122.1 L1298.2 2119.4 L1300.6 2120.5 L1303 2122.2 L1305.4 2120.8 L1307.8 2119.9 L1310.2 2120 L1312.6 2120.3 L1315 2119.9 L1317.4 2120.2 L1319.8 2120.1 L1322.2 2120.1 L1324.6 2120.5 L1327 2118.7 L1329.4 2118.3 L1331.8 2119.9 L1334.2 2121.5 L1336.6 2119.1 L1339 2120.3 L1341.4 2119.5 L1343.8 2120.7 L1346.2 2121.4 L1348.6 2121.4 L1351 2120.2 L1353.3 2120.3 L1355.7 2118.6 L1358.1 2117.7 L1360.5 2117.1 L1362.9 2116.4 L1365.3 2115.4 L1367.7 2113.9 L1370.1 2113.3 L1372.5 2115.3 L1374.9 2114.3 L1377.3 2115.2 L1379.7 2114.2 L1382.1 2114.1 L1384.5 2115.2 L1386.9 2114 L1389.3 2115.6 L1391.7 2118 L1394.1 2118.9 L1396.5 2119.8 L1398.9 2117.6 L1401 2119.1 L1403 2116.8 L1405.1 2115.5 L1407.1 2116.5 L1409.2 2113.8 L1411.2 2112.3 L1413.3 2111.8 L1415.7 2111.9 L1418.1 2110.2 L1420.5 2110.1 L1422.9 2108.9 L1425.3 2110.1 L1427.7 2109.2 L1430.1 2109.4 L1432.5 2107.3 L1434.9 2107.9 L1437.3 2104.4 L1439.6 2104.3 L1442 2102.6 L1443.8 2101.9 L1445.6 2100.7 L1447.4 2097 L1449.2 2095.6 L1451.4 2097 L1453.6 2094 L1455.7 2094.9 L1457.9 2093.4 L1460 2089.7 L1462.2 2088.5 L1464.3 2089 L1466.5 2088.2 L1468.7 2085 L1470.8 2084.3 L1472.6 2081.7 L1474.4 2079.9 L1476.2 2079.8 L1478 2079.5 L1480.1 2078.2 L1482.1 2077.4 L1484.2 2075.9 L1486.2 2074 L1488.3 2074.5 L1490.3 2072.1 L1492.4 2072.6 L1494.4 2069.2 L1496.5 2070.9 L1498.6 2067.3 L1500.6 2065.8 L1502.7 2064.7 L1504.7 2064.4 L1506.8 2064.3 L1508.9 2063.1 L1511.1 2062.3 L1513.2 2060.1 L1515.4 2057.9 L1517.6 2057.6 L1519.4 2055.2 L1521.2 2054.8 L1523 2051.9 L1524.7 2049.9 L1526.5 2048.2 L1528.3 2046.7 L1530.7 2047.7 L1533.1 2049.6 L1535.5 2050.9" fill="none" stroke="#c8c9cb" stroke-width="2.9" stroke-linejoin="round" stroke-linecap="butt"/>
<path d="M1235.3 2120.7 L1237.8 2119.9 L1240.3 2121.5 L1242.8 2121.8 L1245.4 2120.8 L1247.9 2121.9 L1250.3 2123.1 L1252.7 2121.7 L1255.1 2122.1 L1257.5 2124.7 L1259.9 2124.1 L1262.3 2124.8 L1264.4 2121.3 L1266.6 2123.5 L1268.7 2122.1 L1270.9 2119.8 L1273 2120.8 L1275.2 2121.4 L1277.4 2120.3 L1279.5 2120.3 L1281.7 2120.7 L1283.8 2122 L1286.2 2121.7 L1288.6 2123.5 L1291 2121.5 L1293.4 2120.7 L1295.8 2123.3 L1298.2 2122.4 L1300.9 2122.8 L1303.6 2121.9 L1306.3 2122.2 L1309 2123.2 L1311.7 2123.7 L1314.4 2122.8 L1317.1 2123.4 L1319.8 2121.3 L1322.2 2121 L1324.6 2122.4 L1327 2122.6 L1329.4 2121.2 L1331.8 2121.1 L1334.2 2122 L1336.6 2121.6 L1339 2121.8 L1341.4 2122 L1343.8 2123 L1346.2 2126.5 L1348.6 2126.2 L1351 2128.5 L1353.3 2126.9 L1355.7 2129.4 L1358.1 2129.1 L1360.5 2130 L1362.9 2129.4 L1365.3 2131.3 L1367.7 2132.6 L1370.1 2133.4 L1372.5 2132.3 L1374.9 2133.6 L1377.3 2134.9 L1379.7 2135.8 L1382.1 2134.6 L1384.5 2134.1 L1386.9 2133.9 L1389.3 2135.6 L1391.7 2135.3 L1394.1 2133.2 L1396.5 2134.4 L1398.9 2133.8 L1401.3 2134.5 L1403.7 2133.1 L1406.1 2135.7 L1408.5 2135.2 L1410.9 2137.1 L1413.3 2135.2 L1415.7 2134.5 L1418.1 2136 L1420.5 2134.2 L1422.9 2134.8 L1425.3 2135.7 L1427.7 2136.3 L1430.1 2135.5 L1432.5 2133.8 L1434.9 2133 L1437.3 2135.6 L1439.6 2134.3 L1442 2134.8 L1444.2 2131.7 L1446.4 2131.8 L1448.5 2129.9 L1450.7 2129.3 L1452.8 2128.5 L1455 2126.6 L1457.1 2128.4 L1459.3 2124.2 L1461.5 2125.6 L1463.6 2123 L1466 2122.3 L1468.4 2122.5 L1470.8 2123.7 L1473.2 2124.1 L1475.6 2121.7 L1478 2122.9 L1480.1 2123.2 L1482.1 2121.7 L1484.2 2121.6 L1486.2 2118.9 L1488.3 2118.4 L1490.3 2116.5 L1492.4 2117 L1494.2 2114.2 L1496 2112.9 L1497.8 2110.8 L1499.6 2108.9 L1501.7 2107 L1503.9 2106.5 L1506.1 2106.1 L1508.2 2105.6 L1510.4 2106.9 L1512.2 2104.7 L1514 2103.2 L1515.8 2102.6 L1517.6 2100.6 L1519.4 2097.7 L1521.2 2098 L1523 2096.3 L1524.7 2095.3 L1526.5 2094 L1528.3 2090.2 L1529.8 2090.3 L1531.2 2086.6 L1532.7 2086.7 L1534.1 2083.9 L1535.5 2082.2" fill="none" stroke="#1e1c1d" stroke-width="2.9" stroke-linejoin="round" stroke-linecap="butt"/>
<path d="M1235.3 2363.8 L1247.9 2357.3 L1262.3 2351.9 L1276.6 2346.5 L1291 2341.1 L1305.4 2337.5 L1319.8 2333.9 L1334.2 2330.3 L1348.6 2324.9 L1362.9 2319.5 L1377.3 2314.1 L1391.7 2314.9 L1406.1 2317.7 L1420.5 2315.9 L1434.9 2306.9 L1449.2 2296.2 L1463.6 2287.2 L1478 2274.6 L1492.4 2269.2 L1506.8 2254.8 L1521.2 2244 L1531.9 2233.2" fill="none" stroke="#a9abae" stroke-width="2.9" stroke-linejoin="round" stroke-linecap="butt" stroke-dasharray="9 4"/>
<path d="M1235.3 2364.5 L1247.9 2358 L1262.3 2354.4 L1276.6 2350.8 L1291 2348.3 L1305.4 2346.5 L1319.8 2344.7 L1334.2 2342.2 L1348.6 2340 L1362.9 2336.4 L1377.3 2333.9 L1391.7 2337.5 L1406.1 2341.1 L1416.9 2341.1 L1427.7 2335.7 L1442 2332.8 L1456.4 2323.1 L1470.8 2310.5 L1485.2 2306.2 L1499.6 2298 L1514 2290.8 L1531.9 2276.4" fill="none" stroke="#1e1c1d" stroke-width="2.9" stroke-linejoin="round" stroke-linecap="butt" stroke-dasharray="9 4"/>
<path d="M1536.7 2080.5 L1538.3 2079.6 L1539.9 2077.7 L1541.5 2075.3 L1543.1 2074.7 L1544.7 2073 L1546.3 2070.7 L1547.9 2068.8 L1549.8 2067.8 L1551.6 2065.9 L1553.5 2064.4 L1555.3 2064.1 L1557.2 2062.6 L1559.1 2060.7 L1561 2059.4 L1563 2058.3 L1564.9 2057.6 L1566.9 2055.3 L1568 2053.7 L1569.1 2051.5 L1570.2 2050.7 L1571.3 2048.9 L1573.6 2047.6 L1575.8 2045.2 L1578 2045.8 L1580.3 2044.5 L1581.4 2042.8 L1582.5 2039.7 L1583.6 2038.5 L1585.5 2036.2 L1587.3 2035.7 L1589.2 2034.3 L1591.4 2032.6 L1593.7 2032.6 L1595.9 2031.9 L1597.4 2029.1 L1598.9 2028.4 L1600.3 2025.3 L1602.6 2024.2 L1604.8 2023.3 L1607 2022.2 L1609.3 2021.4 L1611.5 2020 L1613.7 2018.2 L1616 2017.3 L1618.2 2015.3 L1620.4 2015.3 L1622.7 2012.8 L1624 2011.2 L1625.3 2009.2 L1626.7 2008.3 L1628 2005.8 L1629.4 2004 L1631.6 2004.5 L1633.8 2004.4 L1636.1 2004.6 L1638.3 2006.9 L1640.5 2007.9 L1642 2005.7 L1643.5 2004.3 L1645 2001.7 L1647.6 2001.8 L1650.2 2000.9 L1652.8 1998.6 L1655.4 1999.4 L1658 2001.4 L1660.6 2002.5 L1662.6 2000.1 L1664.5 1999.7 L1666.5 1996.9 L1668.4 1995.7 L1670.4 1993.9 L1672.3 1992.9 L1674.3 1990.9 L1676.2 1990.1 L1678.5 1991 L1680.7 1993.1 L1682.9 1991.6 L1685.2 1989.3 L1687 1987.4 L1688.8 1986.6 L1690.6 1985.2 L1692.4 1983.4" fill="none" stroke="#2f6bbd" stroke-width="2.9" stroke-linejoin="round" stroke-linecap="butt"/>
<path d="M1536.7 2080.5 L1542.3 2077.2 L1551.8 2068.8 L1561.3 2060.4 L1570.2 2057.6 L1579.1 2050.4 L1588.1 2039.8 L1597 2034.8 L1607 2027 L1616 2023.1 L1624.9 2013.6 L1633.8 2002.4 L1642.8 2001.3 L1652.8 1992.9 L1661.7 1988.5 L1670.7 1986.2 L1680.1 1980.1 L1689.1 1976.2 L1692.4 1975.1" fill="none" stroke="#2f6bbd" stroke-width="2.9" stroke-linejoin="round" stroke-linecap="butt"/>
<circle cx="1540.7" cy="2078.1" r="2.25" fill="#f4812f"/>
<circle cx="1549.8" cy="2070.5" r="2.25" fill="#f4812f"/>
<circle cx="1558.9" cy="2062.5" r="2.25" fill="#f4812f"/>
<circle cx="1568" cy="2058.3" r="2.25" fill="#f4812f"/>
<circle cx="1577.1" cy="2052" r="2.25" fill="#f4812f"/>
<circle cx="1586.2" cy="2042" r="2.25" fill="#f4812f"/>
<circle cx="1595.3" cy="2035.7" r="2.25" fill="#f4812f"/>
<circle cx="1604.4" cy="2029" r="2.25" fill="#f4812f"/>
<circle cx="1613.5" cy="2024.1" r="2.25" fill="#f4812f"/>
<circle cx="1622.6" cy="2016" r="2.25" fill="#f4812f"/>
<circle cx="1631.7" cy="2005" r="2.25" fill="#f4812f"/>
<circle cx="1640.8" cy="2001.5" r="2.25" fill="#f4812f"/>
<circle cx="1649.9" cy="1995.3" r="2.25" fill="#f4812f"/>
<circle cx="1659" cy="1989.8" r="2.25" fill="#f4812f"/>
<circle cx="1668.1" cy="1986.9" r="2.25" fill="#f4812f"/>
<circle cx="1677.2" cy="1982" r="2.25" fill="#f4812f"/>
<circle cx="1686.3" cy="1977.4" r="2.25" fill="#f4812f"/>
<path d="M1536.7 2080.5 L1538.6 2079.4 L1540.5 2076.5 L1542.3 2074.8 L1544.2 2074.1 L1546 2071.7 L1547.9 2070.1 L1550.1 2069.9 L1552.4 2069.8 L1554.6 2068.2 L1556.8 2068.1 L1559.1 2066.6 L1561.3 2066.4 L1563.5 2063.9 L1565.8 2062.8 L1568 2061.9 L1570.2 2060 L1572 2058 L1573.8 2057.3 L1575.6 2055.1 L1577.4 2053.1 L1579.1 2051.2 L1581.2 2050.4 L1583.2 2049.1 L1585.2 2046.9 L1587.2 2046.5 L1589.2 2045 L1591.4 2043.9 L1593.7 2044.2 L1595.9 2043.9 L1598.1 2043.2 L1600.3 2040.9 L1602.6 2039.2 L1604.8 2038.8 L1607 2036.8 L1609.3 2034.1 L1611.5 2032.7 L1613.7 2032 L1616 2030.1 L1618.2 2029 L1620.4 2027.4 L1622.7 2025.8 L1624.9 2025 L1627.1 2025.6 L1629.4 2024.5 L1631.6 2023.1 L1633.8 2021.3 L1636.1 2020.4 L1638.3 2019.1 L1640.5 2018.8 L1642.8 2019 L1645 2018.5 L1647.2 2019.1 L1649.4 2017.3 L1651.7 2017.9 L1653.9 2018.5 L1656.1 2018.6 L1658.4 2020.7 L1660.6 2021.7 L1662.8 2021.9 L1665.4 2022.8 L1668 2021.1 L1670.7 2021.6 L1672.5 2022.5 L1674.4 2025.3 L1676.2 2026.9 L1678.5 2027.5 L1680.7 2027.6 L1681.8 2029.4 L1682.9 2032 L1684 2033.6 L1685.2 2036 L1686.6 2037.6 L1688.1 2039.1 L1689.5 2042 L1691 2043.1 L1692.4 2044.8" fill="none" stroke="#f4812f" stroke-width="2.9" stroke-linejoin="round" stroke-linecap="butt"/>
<path d="M1536.7 2080.5 L1542.3 2078.8 L1551.8 2069.9 L1561.3 2067.7 L1570.2 2060.4 L1579.1 2052.6 L1588.1 2049.8 L1597 2046.5 L1607 2045.9 L1609.3 2040.3 L1616 2032.5 L1624.9 2031.4 L1633.8 2027 L1642.8 2030.3 L1652.8 2033.7 L1661.7 2033.1 L1666.2 2035.9 L1670.7 2045.4 L1680.1 2049.8 L1685.2 2059.3 L1689.1 2068.8 L1692.4 2077.2" fill="none" stroke="#f4812f" stroke-width="2.9" stroke-linejoin="round" stroke-linecap="butt"/>
<circle cx="1540.7" cy="2079.3" r="2.25" fill="#2f6bbd"/>
<circle cx="1549.8" cy="2071.8" r="2.25" fill="#2f6bbd"/>
<circle cx="1558.9" cy="2068.2" r="2.25" fill="#2f6bbd"/>
<circle cx="1568" cy="2062.2" r="2.25" fill="#2f6bbd"/>
<circle cx="1577.1" cy="2054.4" r="2.25" fill="#2f6bbd"/>
<circle cx="1586.2" cy="2050.4" r="2.25" fill="#2f6bbd"/>
<circle cx="1595.3" cy="2047.1" r="2.25" fill="#2f6bbd"/>
<circle cx="1604.4" cy="2046.1" r="2.25" fill="#2f6bbd"/>
<circle cx="1613.5" cy="2035.4" r="2.25" fill="#2f6bbd"/>
<circle cx="1622.6" cy="2031.7" r="2.25" fill="#2f6bbd"/>
<circle cx="1631.7" cy="2028" r="2.25" fill="#2f6bbd"/>
<circle cx="1640.8" cy="2029.6" r="2.25" fill="#2f6bbd"/>
<circle cx="1649.9" cy="2032.7" r="2.25" fill="#2f6bbd"/>
<circle cx="1659" cy="2033.3" r="2.25" fill="#2f6bbd"/>
<circle cx="1668.1" cy="2040" r="2.25" fill="#2f6bbd"/>
<circle cx="1677.2" cy="2048.5" r="2.25" fill="#2f6bbd"/>
<circle cx="1686.3" cy="2062.2" r="2.25" fill="#2f6bbd"/>

<line x1="1254.2" y1="2367" x2="1254.2" y2="2365" stroke="#231f20" stroke-width="1.3"/>
<line x1="1272.6" y1="2367" x2="1272.6" y2="2365" stroke="#231f20" stroke-width="1.3"/>
<line x1="1290.9" y1="2367" x2="1290.9" y2="2365" stroke="#231f20" stroke-width="1.3"/>
<line x1="1309.2" y1="2367" x2="1309.2" y2="2365" stroke="#231f20" stroke-width="1.3"/>
<line x1="1327.6" y1="2367" x2="1327.6" y2="2363.4" stroke="#231f20" stroke-width="1.3"/>
<line x1="1345.9" y1="2367" x2="1345.9" y2="2365" stroke="#231f20" stroke-width="1.3"/>
<line x1="1364.3" y1="2367" x2="1364.3" y2="2365" stroke="#231f20" stroke-width="1.3"/>
<line x1="1382.6" y1="2367" x2="1382.6" y2="2365" stroke="#231f20" stroke-width="1.3"/>
<line x1="1400.9" y1="2367" x2="1400.9" y2="2365" stroke="#231f20" stroke-width="1.3"/>
<line x1="1419.3" y1="2367" x2="1419.3" y2="2363.4" stroke="#231f20" stroke-width="1.3"/>
<line x1="1437.6" y1="2367" x2="1437.6" y2="2365" stroke="#231f20" stroke-width="1.3"/>
<line x1="1455.9" y1="2367" x2="1455.9" y2="2365" stroke="#231f20" stroke-width="1.3"/>
<line x1="1474.3" y1="2367" x2="1474.3" y2="2365" stroke="#231f20" stroke-width="1.3"/>
<line x1="1492.6" y1="2367" x2="1492.6" y2="2365" stroke="#231f20" stroke-width="1.3"/>
<line x1="1510.9" y1="2367" x2="1510.9" y2="2363.4" stroke="#231f20" stroke-width="1.3"/>
<line x1="1529.3" y1="2367" x2="1529.3" y2="2365" stroke="#231f20" stroke-width="1.3"/>
<line x1="1547.6" y1="2367" x2="1547.6" y2="2365" stroke="#231f20" stroke-width="1.3"/>
<line x1="1565.9" y1="2367" x2="1565.9" y2="2365" stroke="#231f20" stroke-width="1.3"/>
<line x1="1584.3" y1="2367" x2="1584.3" y2="2365" stroke="#231f20" stroke-width="1.3"/>
<line x1="1602.6" y1="2367" x2="1602.6" y2="2363.4" stroke="#231f20" stroke-width="1.3"/>
<line x1="1621" y1="2367" x2="1621" y2="2365" stroke="#231f20" stroke-width="1.3"/>
<line x1="1639.3" y1="2367" x2="1639.3" y2="2365" stroke="#231f20" stroke-width="1.3"/>
<line x1="1657.6" y1="2367" x2="1657.6" y2="2365" stroke="#231f20" stroke-width="1.3"/>
<line x1="1676" y1="2367" x2="1676" y2="2365" stroke="#231f20" stroke-width="1.3"/>
<text x="1256.7" y="2393" font-size="25.6" text-anchor="middle" style="" >1850</text>
<text x="1348.9" y="2393" font-size="25.6" text-anchor="middle" style="" >1900</text>
<text x="1440.1" y="2393" font-size="25.6" text-anchor="middle" style="" >1950</text>
<text x="1531" y="2393" font-size="25.6" text-anchor="middle" style="" >2000</text>
<text x="1623.4" y="2393" font-size="25.6" text-anchor="middle" style="" >2050</text>
<text x="1692.7" y="2393" font-size="25.6" text-anchor="middle" style="" >2100</text>
<text x="1199.4" y="1959.5" font-size="25.6" text-anchor="middle" style="" >1840</text>
<text x="1199.4" y="2005.5" font-size="25.6" text-anchor="middle" style="" >1820</text>
<text x="1199.4" y="2049.9" font-size="25.6" text-anchor="middle" style="" >1800</text>
<text x="1199.4" y="2094.6" font-size="25.6" text-anchor="middle" style="" >1780</text>
<text x="1199.4" y="2139.1" font-size="25.6" text-anchor="middle" style="" >1760</text>
<text x="1199.4" y="2173.8" font-size="25.6" text-anchor="middle" style="" >1740</text>
<text x="1199.4" y="2201.8" font-size="25.6" text-anchor="middle" style="" >1580</text>
<text x="1199.4" y="2240.7" font-size="25.6" text-anchor="middle" style="" >1560</text>
<text x="1199.4" y="2285.3" font-size="25.6" text-anchor="middle" style="" >1540</text>
<text x="1199.4" y="2328" font-size="25.6" text-anchor="middle" style="" >1520</text>
<text x="1199.4" y="2372.1" font-size="25.6" text-anchor="middle" style="" >1500</text>
<path d="M1235.9 2180.5 H1235.9 V1955.7" fill="none" stroke="#231f20" stroke-width="2.9"/>
<path d="M1235.9 1955.7 H1694.3 V2180.5" fill="none" stroke="#231f20" stroke-width="2.9"/>
<path d="M1235.9 2190.5 V2368.3 H1694.3 V2190.5" fill="none" stroke="#231f20" stroke-width="2.9"/>
<path d="M1228.9 2179.3 q3 1.6 6.5 0.3 l3 -0.4 q2.5 -0.5 4 1.1" fill="none" stroke="#231f20" stroke-width="1.9"/>
<path d="M1228.9 2191.7 q3 1.4 6 -0.2 q2 -1.8 4.5 -1.6 q2 0.2 3.5 1.4" fill="none" stroke="#231f20" stroke-width="1.9"/>
<path d="M1687.3 2179.3 q3 1.6 6.5 0.3 l3 -0.4 q2.5 -0.5 4 1.1" fill="none" stroke="#231f20" stroke-width="1.9"/>
<path d="M1687.3 2191.7 q3 1.4 6 -0.2 q2 -1.8 4.5 -1.6 q2 0.2 3.5 1.4" fill="none" stroke="#231f20" stroke-width="1.9"/>
<line x1="1230.5" y1="2179.6" x2="1234.7" y2="2179.6" stroke="#231f20" stroke-width="1.3"/>
<line x1="1232.5" y1="2170.6" x2="1234.7" y2="2170.6" stroke="#231f20" stroke-width="1.3"/>
<line x1="1232.5" y1="2161.7" x2="1234.7" y2="2161.7" stroke="#231f20" stroke-width="1.3"/>
<line x1="1232.5" y1="2152.7" x2="1234.7" y2="2152.7" stroke="#231f20" stroke-width="1.3"/>
<line x1="1232.5" y1="2143.8" x2="1234.7" y2="2143.8" stroke="#231f20" stroke-width="1.3"/>
<line x1="1230.5" y1="2134.8" x2="1234.7" y2="2134.8" stroke="#231f20" stroke-width="1.3"/>
<line x1="1232.5" y1="2125.9" x2="1234.7" y2="2125.9" stroke="#231f20" stroke-width="1.3"/>
<line x1="1232.5" y1="2116.9" x2="1234.7" y2="2116.9" stroke="#231f20" stroke-width="1.3"/>
<line x1="1232.5" y1="2108" x2="1234.7" y2="2108" stroke="#231f20" stroke-width="1.3"/>
<line x1="1232.5" y1="2099" x2="1234.7" y2="2099" stroke="#231f20" stroke-width="1.3"/>
<line x1="1230.5" y1="2090" x2="1234.7" y2="2090" stroke="#231f20" stroke-width="1.3"/>
<line x1="1232.5" y1="2081.1" x2="1234.7" y2="2081.1" stroke="#231f20" stroke-width="1.3"/>
<line x1="1232.5" y1="2072.1" x2="1234.7" y2="2072.1" stroke="#231f20" stroke-width="1.3"/>
<line x1="1232.5" y1="2063.2" x2="1234.7" y2="2063.2" stroke="#231f20" stroke-width="1.3"/>
<line x1="1232.5" y1="2054.2" x2="1234.7" y2="2054.2" stroke="#231f20" stroke-width="1.3"/>
<line x1="1230.5" y1="2045.3" x2="1234.7" y2="2045.3" stroke="#231f20" stroke-width="1.3"/>
<line x1="1232.5" y1="2036.3" x2="1234.7" y2="2036.3" stroke="#231f20" stroke-width="1.3"/>
<line x1="1232.5" y1="2027.3" x2="1234.7" y2="2027.3" stroke="#231f20" stroke-width="1.3"/>
<line x1="1232.5" y1="2018.4" x2="1234.7" y2="2018.4" stroke="#231f20" stroke-width="1.3"/>
<line x1="1232.5" y1="2009.4" x2="1234.7" y2="2009.4" stroke="#231f20" stroke-width="1.3"/>
<line x1="1230.5" y1="2000.5" x2="1234.7" y2="2000.5" stroke="#231f20" stroke-width="1.3"/>
<line x1="1232.5" y1="1991.5" x2="1234.7" y2="1991.5" stroke="#231f20" stroke-width="1.3"/>
<line x1="1232.5" y1="1982.6" x2="1234.7" y2="1982.6" stroke="#231f20" stroke-width="1.3"/>
<line x1="1232.5" y1="1973.6" x2="1234.7" y2="1973.6" stroke="#231f20" stroke-width="1.3"/>
<line x1="1232.5" y1="1964.7" x2="1234.7" y2="1964.7" stroke="#231f20" stroke-width="1.3"/>
<line x1="1230.5" y1="1955.7" x2="1234.7" y2="1955.7" stroke="#231f20" stroke-width="1.3"/>
<line x1="1230.5" y1="2368.3" x2="1234.7" y2="2368.3" stroke="#231f20" stroke-width="1.3"/>
<line x1="1232.5" y1="2359.4" x2="1234.7" y2="2359.4" stroke="#231f20" stroke-width="1.3"/>
<line x1="1232.5" y1="2350.6" x2="1234.7" y2="2350.6" stroke="#231f20" stroke-width="1.3"/>
<line x1="1232.5" y1="2341.7" x2="1234.7" y2="2341.7" stroke="#231f20" stroke-width="1.3"/>
<line x1="1232.5" y1="2332.8" x2="1234.7" y2="2332.8" stroke="#231f20" stroke-width="1.3"/>
<line x1="1230.5" y1="2324" x2="1234.7" y2="2324" stroke="#231f20" stroke-width="1.3"/>
<line x1="1232.5" y1="2315.1" x2="1234.7" y2="2315.1" stroke="#231f20" stroke-width="1.3"/>
<line x1="1232.5" y1="2306.2" x2="1234.7" y2="2306.2" stroke="#231f20" stroke-width="1.3"/>
<line x1="1232.5" y1="2297.4" x2="1234.7" y2="2297.4" stroke="#231f20" stroke-width="1.3"/>
<line x1="1232.5" y1="2288.5" x2="1234.7" y2="2288.5" stroke="#231f20" stroke-width="1.3"/>
<line x1="1230.5" y1="2279.7" x2="1234.7" y2="2279.7" stroke="#231f20" stroke-width="1.3"/>
<line x1="1232.5" y1="2270.8" x2="1234.7" y2="2270.8" stroke="#231f20" stroke-width="1.3"/>
<line x1="1232.5" y1="2261.9" x2="1234.7" y2="2261.9" stroke="#231f20" stroke-width="1.3"/>
<line x1="1232.5" y1="2253.1" x2="1234.7" y2="2253.1" stroke="#231f20" stroke-width="1.3"/>
<line x1="1232.5" y1="2244.2" x2="1234.7" y2="2244.2" stroke="#231f20" stroke-width="1.3"/>
<line x1="1230.5" y1="2235.3" x2="1234.7" y2="2235.3" stroke="#231f20" stroke-width="1.3"/>
<line x1="1232.5" y1="2226.5" x2="1234.7" y2="2226.5" stroke="#231f20" stroke-width="1.3"/>
<line x1="1232.5" y1="2217.6" x2="1234.7" y2="2217.6" stroke="#231f20" stroke-width="1.3"/>
<line x1="1232.5" y1="2208.7" x2="1234.7" y2="2208.7" stroke="#231f20" stroke-width="1.3"/>
<line x1="1232.5" y1="2199.9" x2="1234.7" y2="2199.9" stroke="#231f20" stroke-width="1.3"/>
<line x1="1230.5" y1="2191" x2="1234.7" y2="2191" stroke="#231f20" stroke-width="1.3"/>
<text x="1245.4" y="1948.1" font-size="28.9" text-anchor="start" style="" >(o) UKESM1-0-LL</text>
</g>
<text transform="translate(23.4 358.1) rotate(-90)" font-size="35" letter-spacing="0.1">SOC</text>
<text transform="translate(26.3 273.3) rotate(-90)" font-size="25.4" letter-spacing="1.45">total</text>
<text transform="translate(23.4 208.1) rotate(-90)" font-size="35" letter-spacing="0.15">(Pg C)</text>
<text transform="translate(23.4 825.3) rotate(-90)" font-size="35" letter-spacing="0.1">SOC</text>
<text transform="translate(26.3 742.2) rotate(-90)" font-size="25.4" letter-spacing="1.45">total</text>
<text transform="translate(23.4 678.3) rotate(-90)" font-size="35" letter-spacing="0.15">(Pg C)</text>
<text transform="translate(23.4 1303.9) rotate(-90)" font-size="35" letter-spacing="0.1">SOC</text>
<text transform="translate(26.3 1220.3) rotate(-90)" font-size="25.4" letter-spacing="1.45">total</text>
<text transform="translate(23.4 1156.1) rotate(-90)" font-size="35" letter-spacing="0.15">(Pg C)</text>
<text transform="translate(23.4 1780) rotate(-90)" font-size="35" letter-spacing="0.1">SOC</text>
<text transform="translate(26.3 1696) rotate(-90)" font-size="25.4" letter-spacing="1.45">total</text>
<text transform="translate(23.4 1631.5) rotate(-90)" font-size="35" letter-spacing="0.15">(Pg C)</text>
<text transform="translate(23.4 2271.8) rotate(-90)" font-size="35" letter-spacing="0.1">SOC</text>
<text transform="translate(26.3 2187.6) rotate(-90)" font-size="25.4" letter-spacing="1.45">total</text>
<text transform="translate(23.4 2123) rotate(-90)" font-size="35" letter-spacing="0.15">(Pg C)</text>
<path d="M228.9 324.3 H252.7" stroke="#1e1c1d" stroke-width="2.6"/>
<text x="255.4" y="328.9" font-size="19.2" text-anchor="start" style="font-style:italic;" >historical</text>
<path d="M228.9 347.5 H252.7" stroke="#c8c9cb" stroke-width="2.6"/>
<text x="255.4" y="352.1" font-size="19.2" text-anchor="start" style="font-style:italic;" >hist-noLu</text>
<path d="M232.8 372.8 h7.6 m3.4 0 h7.6" stroke="#1e1c1d" stroke-width="2.6"/>
<text x="254.1" y="377.1" font-size="19.2" text-anchor="start" style="font-style:italic;" >land-hist</text>
<path d="M232.8 397.5 h7.6 m3.4 0 h7.6" stroke="#a9abae" stroke-width="2.6"/>
<text x="254.1" y="401.8" font-size="19.2" text-anchor="start" style="font-style:italic;" >land-noLu</text>
<path d="M365.5 322.6 H388.6" stroke="#2f6bbd" stroke-width="2.6"/>
<text x="391.8" y="327" font-size="19.2" text-anchor="start" style="font-style:italic;" >ssp126</text>
<path d="M365.5 347.9 H388.6" stroke="#f4812f" stroke-width="2.6"/>
<text x="391.8" y="352.3" font-size="19.2" text-anchor="start" style="font-style:italic;" >ssp370</text>
<path d="M365.5 371.2 H388.6" stroke="#2f6bbd" stroke-width="2.6"/>
<circle cx="378.1" cy="372.4" r="1.9" fill="#f4812f" stroke="#2f6bbd" stroke-width="0.8"/>
<text x="391.8" y="375.6" font-size="19.2" text-anchor="start" style="font-style:italic;" >ssp126-ssp370Lu</text>
<path d="M365.5 398.5 H388.6" stroke="#f4812f" stroke-width="2.6"/>
<circle cx="378.1" cy="399.7" r="1.9" fill="#2f6bbd" stroke="#f4812f" stroke-width="0.8"/>
<text x="391.8" y="402.9" font-size="19.2" text-anchor="start" style="font-style:italic;" >ss370-ssp126Lu</text>
<text x="876.3 902.3 927.6 951.5" y="2448.5" font-size="40">Year</text>
</svg>
</body></html>
